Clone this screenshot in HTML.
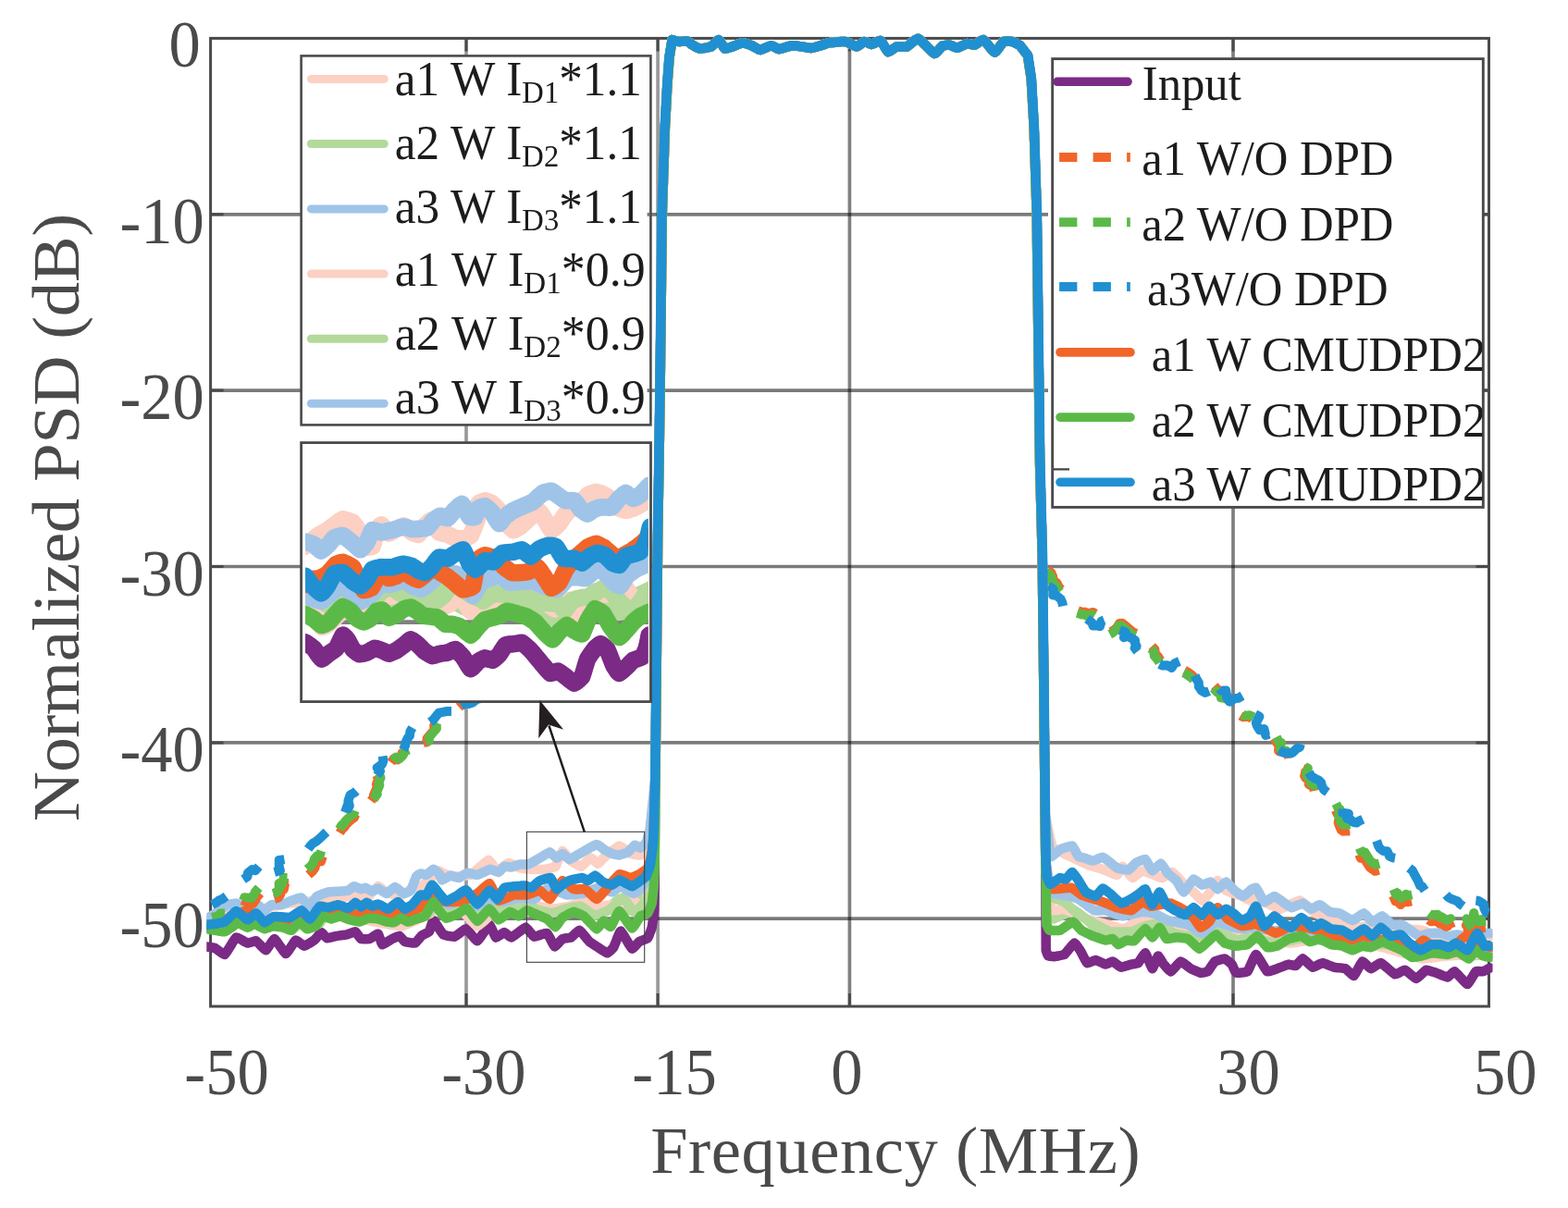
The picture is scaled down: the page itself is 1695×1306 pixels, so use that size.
<!DOCTYPE html>
<html lang="en"><head><meta charset="utf-8"><title>Normalized PSD</title>
<style>html,body{margin:0;padding:0;background:#fff;overflow:hidden}svg{display:block}text{font-family:"Liberation Serif","DejaVu Serif",serif}.c{fill:none;stroke-linejoin:round;stroke-linecap:round}.d{fill:none;stroke-linejoin:round;stroke-linecap:butt}</style></head><body>
<svg width="1695" height="1306" viewBox="0 0 1695 1306" role="img" aria-label="Normalized PSD versus frequency">
<rect width="1695" height="1306" fill="#fff"/>
<g stroke="#000" stroke-opacity="0.52" stroke-width="3.7" fill="none"><path d="M227.6,231.8 H1609.5"/><path d="M227.6,422.1 H1609.5"/><path d="M227.6,612.5 H1609.5"/><path d="M227.6,802.9 H1609.5"/><path d="M227.6,993.2 H1609.5"/></g><g stroke="#000" stroke-width="3.7" fill="none"><path stroke-opacity="0.40" d="M504.0,41.4 V1088.0"/><path stroke-opacity="0.40" d="M711.1,41.4 V1088.0"/><path stroke-opacity="0.50" d="M918.4,41.4 V1088.0"/><path stroke-opacity="0.50" d="M1333.0,41.4 V1088.0"/></g>
<rect x="227.6" y="41.4" width="1381.9" height="1046.6" fill="none" stroke="#4a4a4c" stroke-width="3"/>
<g stroke="#4a4a4c" stroke-width="3" fill="none"><path d="M227.6,231.8 h14 M1609.5,231.8 h-14"/><path d="M227.6,422.1 h14 M1609.5,422.1 h-14"/><path d="M227.6,612.5 h14 M1609.5,612.5 h-14"/><path d="M227.6,802.9 h14 M1609.5,802.9 h-14"/><path d="M227.6,993.2 h14 M1609.5,993.2 h-14"/><path d="M504.0,41.4 v14 M504.0,1088.0 v-14"/><path d="M711.1,41.4 v14 M711.1,1088.0 v-14"/><path d="M918.4,41.4 v14 M918.4,1088.0 v-14"/><path d="M1333.0,41.4 v14 M1333.0,1088.0 v-14"/></g>
<clipPath id="cc"><rect x="223.3" y="30" width="1390.2" height="1070"/></clipPath>
<g id="curves" clip-path="url(#cc)">
<path class="c" stroke="#7b2a86" stroke-width="10.5" d="M223.1,1023.4 L225.2,1023.7 L227.5,1024.1 L229.9,1024.5 L232.3,1025.0 L234.0,1026.1 L235.8,1027.4 L237.6,1028.8 L239.4,1030.1 L241.2,1031.1 L243.0,1031.9 L244.1,1030.4 L245.2,1028.9 L246.3,1027.2 L247.4,1025.4 L248.6,1023.6 L249.7,1021.8 L250.8,1019.9 L251.9,1018.2 L253.0,1016.5 L254.2,1014.9 L255.3,1013.5 L257.3,1014.1 L259.4,1015.0 L261.5,1016.2 L263.5,1017.5 L265.6,1018.6 L267.6,1019.6 L269.9,1019.1 L272.2,1018.4 L274.4,1017.7 L276.8,1017.3 L278.3,1018.6 L279.8,1020.1 L281.4,1021.7 L282.9,1023.3 L284.4,1024.8 L286.0,1026.2 L287.5,1027.3 L288.8,1025.8 L290.1,1024.0 L291.4,1022.0 L292.7,1020.0 L294.0,1018.1 L295.3,1016.4 L296.7,1015.0 L297.9,1016.3 L299.1,1017.8 L300.3,1019.5 L301.6,1021.3 L302.8,1023.1 L304.1,1024.9 L305.3,1026.7 L306.5,1028.3 L307.8,1029.8 L309.0,1031.1 L310.2,1029.8 L311.4,1028.4 L312.6,1026.7 L313.8,1024.9 L315.0,1023.1 L316.2,1021.3 L317.4,1019.5 L318.5,1017.9 L319.7,1016.5 L321.6,1017.4 L323.4,1018.7 L325.2,1020.2 L327.0,1021.6 L328.9,1022.7 L330.7,1021.9 L332.5,1020.9 L334.3,1019.9 L336.1,1018.8 L337.9,1017.6 L339.7,1016.5 L341.3,1014.8 L342.8,1013.0 L344.3,1011.2 L345.8,1009.5 L347.3,1008.1 L348.9,1009.4 L350.3,1011.0 L351.8,1012.8 L353.5,1014.2 L355.5,1013.9 L357.7,1013.5 L359.8,1012.9 L362.0,1012.4 L364.2,1011.9 L366.3,1011.6 L368.5,1011.3 L370.7,1011.0 L372.8,1010.7 L374.9,1010.4 L377.3,1009.6 L379.6,1008.7 L381.9,1007.9 L384.1,1007.3 L385.7,1009.1 L387.2,1011.1 L388.7,1013.2 L390.3,1015.0 L392.5,1015.2 L394.8,1015.2 L397.2,1015.2 L399.5,1015.0 L401.3,1013.9 L403.2,1012.7 L405.1,1011.5 L406.9,1010.4 L408.7,1009.6 L409.5,1011.3 L410.2,1013.3 L411.0,1015.4 L411.7,1017.5 L412.4,1019.5 L413.3,1021.1 L415.0,1020.4 L416.8,1019.4 L418.6,1018.3 L420.4,1017.2 L422.3,1016.0 L424.0,1015.0 L426.0,1014.1 L427.9,1013.2 L429.8,1012.5 L431.7,1011.9 L433.2,1013.3 L434.7,1014.9 L436.2,1016.6 L437.8,1018.1 L439.9,1018.5 L442.1,1018.9 L444.3,1019.3 L446.5,1019.5 L448.6,1019.6 L450.2,1018.1 L451.7,1016.4 L453.2,1014.6 L454.7,1012.8 L456.2,1011.2 L458.2,1010.2 L460.1,1009.3 L462.0,1008.4 L463.9,1007.3 L464.7,1005.3 L465.4,1003.1 L466.1,1000.8 L466.9,998.6 L467.6,996.6 L468.5,995.0 L469.6,996.4 L470.8,998.0 L471.9,999.7 L473.1,1001.5 L474.3,1003.4 L475.5,1005.3 L476.8,1007.1 L478.0,1008.8 L479.2,1010.4 L481.2,1011.0 L483.3,1011.6 L485.3,1012.0 L487.4,1012.3 L489.4,1012.5 L491.5,1012.7 L493.2,1011.6 L495.0,1010.3 L496.7,1009.0 L498.5,1007.6 L500.2,1006.3 L502.0,1005.1 L503.7,1004.3 L505.3,1005.6 L506.8,1007.3 L508.3,1009.1 L509.9,1010.9 L511.4,1012.8 L512.9,1014.5 L514.5,1016.1 L516.0,1017.3 L517.3,1015.9 L518.6,1014.2 L520.0,1012.4 L521.3,1010.4 L522.6,1008.5 L524.0,1006.5 L525.3,1004.5 L526.6,1002.7 L527.8,1001.1 L529.1,999.7 L530.1,1001.2 L531.1,1003.1 L532.1,1005.2 L533.1,1007.4 L534.0,1009.7 L535.0,1011.7 L536.0,1013.5 L537.8,1012.7 L539.6,1011.6 L541.5,1010.3 L543.3,1009.0 L545.2,1008.1 L547.1,1009.3 L548.9,1010.9 L550.8,1012.4 L552.8,1013.5 L554.4,1012.4 L556.1,1011.3 L557.8,1010.0 L559.6,1008.7 L561.4,1007.3 L563.1,1006.0 L564.8,1004.8 L566.5,1003.7 L568.2,1002.7 L569.8,1004.1 L571.3,1005.7 L572.8,1007.6 L574.3,1009.4 L575.8,1011.2 L577.4,1012.7 L579.3,1012.3 L581.3,1011.7 L583.3,1011.0 L585.3,1010.3 L587.3,1009.7 L589.3,1009.1 L591.2,1008.9 L592.3,1010.5 L593.4,1012.3 L594.5,1014.2 L595.5,1016.2 L596.5,1018.2 L597.5,1020.1 L598.6,1021.9 L599.6,1023.4 L601.3,1022.1 L603.0,1020.4 L604.7,1018.5 L606.4,1016.7 L608.1,1015.0 L610.3,1014.5 L612.6,1014.2 L615.0,1013.9 L617.3,1013.5 L619.1,1011.9 L620.9,1010.2 L622.8,1008.5 L624.6,1007.0 L626.5,1005.8 L627.8,1007.0 L629.1,1008.5 L630.5,1010.0 L631.8,1011.7 L633.2,1013.3 L634.5,1015.0 L635.9,1016.6 L637.2,1018.1 L639.1,1019.4 L640.9,1020.6 L642.7,1021.8 L644.6,1023.0 L646.4,1024.2 L648.4,1025.5 L650.4,1026.8 L652.4,1028.1 L654.4,1029.3 L656.4,1030.3 L658.2,1029.1 L659.9,1027.7 L661.6,1026.1 L663.3,1024.2 L664.1,1022.3 L664.9,1020.3 L665.8,1018.2 L666.6,1016.0 L667.4,1013.8 L668.3,1011.7 L669.1,1009.8 L670.0,1008.0 L671.0,1006.6 L672.0,1007.9 L673.1,1009.5 L674.2,1011.2 L675.4,1013.1 L676.5,1015.0 L677.7,1016.9 L678.8,1018.9 L679.9,1020.8 L681.1,1022.6 L682.2,1024.2 L683.2,1025.7 L684.8,1024.7 L686.4,1023.2 L687.9,1021.4 L689.4,1019.6 L690.9,1018.1 L693.2,1017.1 L695.6,1016.2 L697.9,1015.3 L700.1,1014.2 L701.0,1012.5 L701.8,1010.6 L702.5,1008.7 L703.3,1006.8 L704.0,1004.8 L704.7,1002.7 L705.0,1000.7 L705.3,998.7 L705.6,996.7 L705.9,994.6 L706.2,992.5 L706.5,990.4 L706.7,988.1 L707.0,985.8 L707.1,983.9 L707.1,981.8 L707.2,979.7 L707.3,977.5 L707.3,975.3 L707.4,973.2 L707.4,971.0 L707.5,968.8 L707.5,966.6 L707.6,964.5 L707.6,962.4 L707.7,960.4 L707.7,958.5 L707.8,956.7 L707.7,925.0 L708.5,840.0 L709.9,700.0 L711.2,575.0 L712.5,498.0 L713.6,422.0 L715.8,231.5 L718.9,138.0 L721.5,90.0 L723.6,62.0 L726.6,43.1 L728.7,43.7 L731.0,44.4 L733.4,45.0 L735.8,44.9 L738.2,44.6 L740.6,44.5 L742.9,44.4 L744.8,45.6 L746.5,47.1 L748.3,48.5 L750.3,49.6 L752.2,50.7 L754.3,51.7 L756.5,52.6 L758.4,52.4 L760.5,52.1 L762.6,51.8 L764.7,51.4 L766.7,50.9 L768.7,50.4 L770.4,49.0 L772.1,47.3 L773.7,45.6 L775.3,44.1 L776.8,43.1 L778.2,44.6 L779.5,46.6 L780.9,48.8 L782.2,50.9 L783.6,52.6 L785.9,52.2 L788.3,51.5 L790.7,50.7 L793.1,49.9 L795.0,49.1 L796.9,48.3 L798.8,47.6 L800.7,46.9 L802.6,46.3 L805.0,46.8 L807.4,47.5 L809.7,48.2 L812.1,49.0 L814.0,50.0 L815.9,51.1 L817.7,52.2 L819.6,53.2 L821.6,53.9 L823.6,53.3 L825.7,52.5 L827.8,51.6 L829.8,50.7 L831.9,49.9 L833.8,49.3 L835.9,50.1 L837.9,51.2 L839.8,52.3 L842.0,53.1 L843.8,52.7 L845.7,52.2 L847.7,51.6 L849.7,51.0 L851.7,50.3 L853.6,49.8 L855.5,49.3 L857.8,49.4 L860.0,49.6 L862.1,49.8 L864.2,50.1 L866.4,50.4 L868.6,50.7 L870.7,51.1 L872.9,51.5 L875.0,51.8 L877.2,52.0 L879.3,51.5 L881.4,51.0 L883.5,50.4 L885.5,49.7 L887.5,49.1 L889.5,48.5 L891.7,47.7 L893.7,47.0 L896.2,46.3 L898.3,46.1 L900.4,45.9 L902.6,45.7 L904.9,45.5 L907.2,45.3 L909.5,45.1 L911.7,45.0 L913.9,45.0 L916.1,45.8 L918.2,46.7 L920.2,47.8 L922.2,48.8 L924.2,49.7 L926.1,50.4 L928.2,49.3 L930.3,47.7 L932.2,46.2 L934.2,45.0 L936.3,45.5 L938.3,46.4 L940.3,47.3 L942.4,48.0 L944.2,47.2 L946.2,46.2 L948.1,45.2 L950.0,44.3 L951.9,43.9 L953.1,45.3 L954.2,47.1 L955.4,49.0 L956.5,51.0 L957.7,52.9 L958.8,54.7 L960.0,56.1 L961.9,55.4 L963.7,54.2 L965.6,52.9 L967.6,51.5 L969.5,50.4 L971.6,50.3 L973.8,50.4 L976.0,50.5 L978.2,50.6 L980.4,50.4 L982.1,49.2 L983.8,47.9 L985.4,46.4 L987.2,44.9 L988.9,43.6 L990.7,42.5 L992.6,41.7 L994.0,42.7 L995.4,44.0 L996.9,45.3 L998.4,46.8 L1000.0,48.3 L1001.5,49.8 L1003.0,51.4 L1004.5,52.9 L1006.0,54.4 L1007.5,55.7 L1008.9,56.9 L1010.2,58.0 L1012.1,56.9 L1013.7,55.3 L1015.3,53.4 L1016.8,51.5 L1018.4,49.9 L1020.4,49.3 L1022.4,48.9 L1024.5,48.6 L1026.5,48.5 L1028.5,49.3 L1030.5,50.2 L1032.5,51.1 L1034.6,51.8 L1036.8,51.0 L1039.0,50.0 L1041.2,49.0 L1043.4,48.0 L1045.5,47.1 L1047.6,47.4 L1049.6,47.8 L1051.6,48.3 L1053.6,48.5 L1055.5,47.5 L1057.3,46.2 L1059.2,44.8 L1061.2,43.7 L1063.1,43.1 L1064.4,44.3 L1065.8,45.8 L1067.2,47.4 L1068.5,49.1 L1069.9,50.9 L1071.3,52.6 L1072.7,54.2 L1074.0,55.5 L1075.3,56.6 L1076.8,55.5 L1078.1,53.9 L1079.5,52.1 L1080.8,50.2 L1082.2,48.3 L1083.5,46.5 L1084.8,45.0 L1087.2,44.6 L1089.6,44.6 L1092.0,44.7 L1094.3,45.0 L1096.5,45.9 L1098.6,47.0 L1100.7,48.1 L1102.5,49.0 L1110.9,60.0 L1114.7,85.0 L1117.7,138.0 L1120.7,231.5 L1123.1,422.0 L1124.0,498.0 L1126.7,600.0 L1128.3,740.0 L1129.7,880.0 L1130.3,930.0 L1130.7,1027.3 L1131.3,1029.2 L1132.1,1031.4 L1133.0,1033.4 L1135.1,1033.8 L1137.4,1034.0 L1139.9,1034.2 L1142.0,1033.8 L1144.1,1033.5 L1146.3,1033.0 L1148.5,1032.5 L1150.6,1031.9 L1152.0,1030.4 L1153.3,1028.9 L1154.7,1027.2 L1156.1,1025.5 L1157.4,1023.9 L1158.8,1022.3 L1160.1,1020.9 L1161.4,1019.6 L1163.0,1021.0 L1164.5,1022.9 L1166.0,1025.1 L1167.5,1027.3 L1168.6,1029.2 L1169.6,1031.2 L1170.7,1033.3 L1171.8,1035.4 L1172.9,1037.4 L1174.0,1039.3 L1175.2,1041.1 L1177.4,1040.6 L1179.7,1039.7 L1182.0,1038.7 L1184.4,1038.0 L1186.5,1038.8 L1188.7,1039.8 L1190.9,1040.8 L1193.0,1041.8 L1195.1,1042.6 L1197.1,1041.9 L1199.0,1041.0 L1200.8,1040.2 L1202.8,1039.5 L1204.6,1040.6 L1206.4,1041.9 L1208.2,1043.3 L1210.1,1044.6 L1212.0,1045.7 L1214.1,1045.2 L1216.3,1044.6 L1218.5,1043.9 L1220.6,1043.2 L1222.7,1042.6 L1225.3,1042.2 L1227.9,1041.8 L1230.4,1041.1 L1231.7,1039.3 L1232.9,1037.4 L1234.2,1035.4 L1235.5,1033.4 L1236.8,1031.7 L1238.1,1030.3 L1238.9,1031.9 L1239.8,1033.7 L1240.6,1035.7 L1241.5,1037.8 L1242.4,1039.9 L1243.2,1042.0 L1244.1,1043.9 L1244.9,1045.7 L1245.7,1047.2 L1246.6,1045.7 L1247.5,1043.7 L1248.4,1041.6 L1249.3,1039.3 L1250.1,1037.1 L1251.0,1035.1 L1251.9,1033.4 L1253.1,1034.8 L1254.3,1036.6 L1255.5,1038.6 L1256.7,1040.7 L1258.0,1042.6 L1259.5,1044.3 L1261.0,1046.0 L1262.5,1047.6 L1264.1,1049.1 L1265.7,1050.3 L1267.2,1049.0 L1268.7,1047.4 L1270.2,1045.8 L1271.8,1044.0 L1273.3,1042.4 L1274.9,1040.8 L1276.4,1039.5 L1278.2,1040.5 L1280.0,1041.7 L1281.8,1043.1 L1283.6,1044.5 L1285.4,1045.9 L1287.1,1047.2 L1289.3,1048.2 L1291.5,1049.2 L1293.7,1050.1 L1295.8,1051.0 L1297.9,1051.8 L1300.5,1051.5 L1303.0,1051.1 L1305.6,1050.3 L1306.8,1048.6 L1308.1,1046.8 L1309.3,1044.9 L1310.6,1043.0 L1311.9,1041.2 L1313.2,1039.5 L1315.3,1038.7 L1317.5,1038.0 L1319.7,1037.4 L1321.9,1036.9 L1324.0,1036.5 L1326.0,1037.8 L1327.9,1039.3 L1329.8,1040.9 L1331.6,1042.6 L1332.6,1044.4 L1333.4,1046.4 L1334.3,1048.3 L1335.2,1050.2 L1336.2,1051.8 L1338.2,1051.8 L1340.2,1051.7 L1342.3,1051.6 L1344.4,1051.3 L1346.5,1050.9 L1348.5,1050.3 L1349.5,1048.6 L1350.4,1046.7 L1351.3,1044.8 L1352.2,1042.7 L1353.1,1040.7 L1354.0,1038.7 L1354.9,1036.7 L1355.8,1034.9 L1356.7,1033.3 L1357.7,1031.9 L1358.8,1033.1 L1359.9,1034.6 L1361.0,1036.3 L1362.1,1038.0 L1363.2,1039.8 L1364.3,1041.7 L1365.5,1043.6 L1366.6,1045.4 L1367.7,1047.2 L1368.8,1048.8 L1369.9,1050.3 L1372.1,1050.1 L1374.2,1049.5 L1376.4,1048.8 L1378.5,1047.9 L1380.7,1047.2 L1382.7,1046.4 L1384.8,1045.6 L1386.9,1044.8 L1388.9,1044.0 L1391.0,1043.3 L1393.0,1042.6 L1395.6,1043.1 L1398.1,1043.8 L1400.6,1044.1 L1402.1,1042.7 L1403.6,1041.0 L1405.2,1039.3 L1406.7,1037.7 L1408.3,1036.5 L1409.8,1037.6 L1411.3,1038.8 L1412.8,1040.3 L1414.4,1041.7 L1415.9,1043.2 L1417.5,1044.5 L1419.0,1045.7 L1421.2,1045.0 L1423.3,1044.0 L1425.4,1042.9 L1427.6,1041.9 L1429.8,1041.1 L1431.8,1041.7 L1433.8,1042.4 L1435.9,1043.3 L1437.9,1044.1 L1440.0,1044.9 L1442.0,1045.7 L1444.1,1046.0 L1446.2,1046.2 L1448.2,1046.4 L1450.3,1046.6 L1452.3,1046.9 L1454.3,1047.2 L1456.2,1048.7 L1458.1,1050.5 L1459.9,1052.2 L1461.7,1053.8 L1463.5,1054.9 L1464.7,1053.2 L1465.8,1051.4 L1467.0,1049.3 L1468.1,1047.2 L1469.3,1045.1 L1470.4,1043.0 L1471.6,1041.2 L1472.7,1039.5 L1474.6,1040.7 L1476.4,1042.3 L1478.2,1044.1 L1480.1,1045.8 L1481.9,1047.2 L1483.7,1046.4 L1485.4,1045.3 L1487.2,1044.0 L1489.0,1042.9 L1490.8,1041.8 L1492.7,1041.1 L1494.3,1042.2 L1496.0,1043.5 L1497.7,1044.9 L1499.5,1046.4 L1501.2,1047.9 L1502.9,1049.4 L1504.7,1050.8 L1506.3,1052.2 L1508.0,1053.3 L1510.2,1052.7 L1512.4,1051.7 L1514.5,1050.5 L1516.6,1049.5 L1518.7,1048.7 L1520.5,1049.9 L1522.2,1051.2 L1524.0,1052.7 L1525.8,1054.2 L1527.5,1055.6 L1529.3,1056.9 L1531.0,1057.9 L1532.6,1056.9 L1534.1,1055.6 L1535.6,1054.2 L1537.2,1052.7 L1538.7,1051.3 L1540.2,1049.9 L1541.7,1048.7 L1543.9,1049.1 L1546.0,1049.7 L1548.2,1050.4 L1550.3,1051.1 L1552.5,1051.8 L1554.5,1052.6 L1556.6,1053.4 L1558.7,1054.3 L1560.8,1055.1 L1562.8,1055.8 L1564.8,1056.4 L1566.7,1055.0 L1568.6,1053.2 L1570.4,1051.5 L1572.4,1050.3 L1573.9,1051.6 L1575.4,1053.1 L1576.9,1054.7 L1578.5,1056.5 L1580.1,1058.2 L1581.7,1059.9 L1583.2,1061.5 L1584.7,1062.9 L1586.2,1064.1 L1587.5,1062.7 L1588.6,1061.1 L1589.8,1059.3 L1590.9,1057.4 L1592.1,1055.5 L1593.2,1053.6 L1594.3,1051.9 L1595.4,1050.3 L1598.0,1050.0 L1600.6,1050.2 L1603.1,1050.3 L1605.1,1049.4 L1607.1,1048.4 L1609.0,1047.3 L1610.8,1046.4"/>
<path class="c" stroke="#fcd0c3" stroke-width="10.5" d="M223.1,995.0 L224.6,994.1 L226.3,993.0 L228.0,991.9 L229.8,990.8 L231.7,989.6 L233.5,988.5 L235.3,987.4 L237.2,986.4 L239.1,985.4 L241.0,984.4 L243.0,983.3 L244.9,982.3 L246.8,981.4 L248.8,980.5 L250.7,979.7 L252.9,980.0 L255.1,980.4 L257.3,980.8 L259.4,981.4 L261.6,981.9 L263.8,982.4 L266.0,982.8 L268.2,982.8 L270.4,982.9 L272.6,982.9 L274.8,982.9 L277.0,982.9 L279.2,982.8 L281.4,982.8 L283.6,982.4 L285.7,982.0 L287.9,981.5 L290.1,981.1 L292.3,980.6 L294.5,980.2 L296.7,979.7 L298.9,979.3 L301.1,978.8 L303.3,978.4 L305.5,977.9 L307.7,977.5 L309.8,977.1 L312.0,976.6 L314.2,976.4 L316.4,976.2 L318.6,976.0 L320.8,975.7 L323.0,975.5 L325.2,975.3 L327.4,975.1 L329.6,974.9 L331.8,974.7 L334.0,974.5 L336.2,974.3 L338.4,974.0 L340.6,973.8 L342.7,973.6 L344.8,973.1 L346.9,972.5 L348.9,972.0 L351.0,971.4 L353.0,970.9 L355.0,970.5 L357.1,970.8 L359.3,971.1 L361.4,971.5 L363.5,971.8 L365.7,972.0 L367.6,971.5 L369.5,971.0 L371.4,970.3 L373.3,969.7 L375.3,969.1 L377.2,968.5 L379.1,967.9 L381.1,967.4 L383.3,967.8 L385.5,968.3 L387.7,968.8 L389.9,969.4 L392.1,969.9 L394.3,970.3 L396.4,970.5 L398.0,969.2 L399.6,967.6 L401.1,966.0 L402.6,964.3 L404.2,962.6 L405.7,961.0 L407.2,959.5 L408.7,958.2 L410.5,959.2 L412.2,960.4 L414.0,961.8 L415.8,963.3 L417.6,964.7 L419.4,965.9 L421.5,966.2 L423.7,966.6 L425.9,966.8 L428.2,967.1 L430.4,967.3 L432.6,967.4 L434.8,967.4 L436.6,966.5 L438.4,965.4 L440.1,964.2 L441.9,963.1 L443.6,961.9 L445.3,960.8 L447.0,959.8 L449.4,959.3 L451.7,959.0 L454.0,958.7 L456.2,958.2 L457.8,956.8 L459.3,955.3 L460.8,953.7 L462.4,952.1 L463.9,950.6 L465.4,949.0 L467.3,947.4 L469.2,945.8 L471.1,944.2 L472.9,942.7 L474.6,941.4 L476.8,942.7 L479.2,944.4 L481.0,944.9 L482.9,945.3 L484.9,945.8 L486.9,946.3 L489.0,946.7 L491.0,947.1 L493.0,947.5 L495.2,947.4 L497.4,947.2 L499.7,947.0 L501.9,946.8 L504.1,946.5 L506.3,946.3 L508.3,946.0 L510.4,944.6 L512.2,943.1 L514.1,941.5 L516.0,939.8 L517.7,938.4 L519.5,936.9 L521.2,935.3 L523.0,933.7 L524.8,932.3 L526.6,931.0 L528.3,929.9 L529.6,931.2 L531.0,932.8 L532.3,934.6 L533.5,936.5 L534.8,938.3 L536.1,940.0 L537.5,941.4 L539.2,940.4 L540.9,939.3 L542.7,937.9 L544.5,936.6 L546.2,935.2 L548.0,934.0 L549.8,932.9 L551.8,933.6 L553.9,934.4 L555.9,935.4 L557.9,936.4 L560.0,937.4 L562.0,938.3 L564.1,938.6 L566.1,938.9 L568.1,939.2 L570.2,939.4 L572.2,939.6 L574.3,939.8 L576.5,939.9 L578.7,939.9 L580.9,939.9 L583.1,939.9 L585.3,939.9 L587.5,939.9 L589.7,939.8 L591.9,939.3 L594.1,938.9 L596.2,938.3 L598.3,937.7 L600.4,936.8 L601.3,935.0 L602.1,933.1 L603.0,931.1 L603.8,929.1 L604.7,927.0 L605.5,925.0 L606.3,923.2 L607.2,921.4 L608.1,919.9 L609.3,921.0 L610.6,922.4 L611.9,924.0 L613.3,925.7 L614.6,927.4 L615.9,929.1 L617.3,930.6 L619.0,931.8 L620.8,932.9 L622.6,934.1 L624.4,935.1 L626.2,936.0 L628.0,936.8 L629.5,935.6 L631.1,934.3 L632.6,932.9 L634.2,931.4 L635.7,930.0 L637.3,928.7 L638.7,927.6 L640.7,928.9 L642.6,930.6 L644.5,932.3 L646.4,933.7 L647.9,932.4 L649.4,931.0 L650.8,929.4 L652.4,927.7 L654.1,926.0 L655.7,924.8 L657.3,923.4 L659.1,922.0 L660.8,920.7 L662.5,919.3 L664.3,917.9 L666.0,916.7 L667.7,915.5 L669.4,914.5 L671.2,915.4 L673.0,916.5 L674.8,917.8 L676.5,919.2 L678.2,920.5 L680.0,921.8 L681.7,923.0 L683.9,923.4 L686.1,923.8 L688.2,924.2 L690.3,924.4 L692.4,924.5 L694.0,923.2 L695.6,921.7 L697.2,920.1 L698.7,918.5 L700.1,916.8 L700.6,914.9 L701.1,912.9 L701.6,910.8 L702.0,908.7 L702.4,906.7 L702.8,904.8 L703.2,903.0 L708.5,840.0 L709.9,700.0 L711.2,575.0 L712.5,498.0 L713.6,422.0 L715.8,231.5 L718.9,138.0 L721.5,90.0 L723.6,62.0 L726.6,43.1 L728.7,43.7 L731.0,44.4 L733.4,45.0 L735.8,44.9 L738.2,44.6 L740.6,44.5 L742.9,44.4 L744.8,45.6 L746.5,47.1 L748.3,48.5 L750.3,49.6 L752.2,50.7 L754.3,51.7 L756.5,52.6 L758.4,52.4 L760.5,52.1 L762.6,51.8 L764.7,51.4 L766.7,50.9 L768.7,50.4 L770.4,49.0 L772.1,47.3 L773.7,45.6 L775.3,44.1 L776.8,43.1 L778.2,44.6 L779.5,46.6 L780.9,48.8 L782.2,50.9 L783.6,52.6 L785.9,52.2 L788.3,51.5 L790.7,50.7 L793.1,49.9 L795.0,49.1 L796.9,48.3 L798.8,47.6 L800.7,46.9 L802.6,46.3 L805.0,46.8 L807.4,47.5 L809.7,48.2 L812.1,49.0 L814.0,50.0 L815.9,51.1 L817.7,52.2 L819.6,53.2 L821.6,53.9 L823.6,53.3 L825.7,52.5 L827.8,51.6 L829.8,50.7 L831.9,49.9 L833.8,49.3 L835.9,50.1 L837.9,51.2 L839.8,52.3 L842.0,53.1 L843.8,52.7 L845.7,52.2 L847.7,51.6 L849.7,51.0 L851.7,50.3 L853.6,49.8 L855.5,49.3 L857.8,49.4 L860.0,49.6 L862.1,49.8 L864.2,50.1 L866.4,50.4 L868.6,50.7 L870.7,51.1 L872.9,51.5 L875.0,51.8 L877.2,52.0 L879.3,51.5 L881.4,51.0 L883.5,50.4 L885.5,49.7 L887.5,49.1 L889.5,48.5 L891.7,47.7 L893.7,47.0 L896.2,46.3 L898.3,46.1 L900.4,45.9 L902.6,45.7 L904.9,45.5 L907.2,45.3 L909.5,45.1 L911.7,45.0 L913.9,45.0 L916.1,45.8 L918.2,46.7 L920.2,47.8 L922.2,48.8 L924.2,49.7 L926.1,50.4 L928.2,49.3 L930.3,47.7 L932.2,46.2 L934.2,45.0 L936.3,45.5 L938.3,46.4 L940.3,47.3 L942.4,48.0 L944.2,47.2 L946.2,46.2 L948.1,45.2 L950.0,44.3 L951.9,43.9 L953.1,45.3 L954.2,47.1 L955.4,49.0 L956.5,51.0 L957.7,52.9 L958.8,54.7 L960.0,56.1 L961.9,55.4 L963.7,54.2 L965.6,52.9 L967.6,51.5 L969.5,50.4 L971.6,50.3 L973.8,50.4 L976.0,50.5 L978.2,50.6 L980.4,50.4 L982.1,49.2 L983.8,47.9 L985.4,46.4 L987.2,44.9 L988.9,43.6 L990.7,42.5 L992.6,41.7 L994.0,42.7 L995.4,44.0 L996.9,45.3 L998.4,46.8 L1000.0,48.3 L1001.5,49.8 L1003.0,51.4 L1004.5,52.9 L1006.0,54.4 L1007.5,55.7 L1008.9,56.9 L1010.2,58.0 L1012.1,56.9 L1013.7,55.3 L1015.3,53.4 L1016.8,51.5 L1018.4,49.9 L1020.4,49.3 L1022.4,48.9 L1024.5,48.6 L1026.5,48.5 L1028.5,49.3 L1030.5,50.2 L1032.5,51.1 L1034.6,51.8 L1036.8,51.0 L1039.0,50.0 L1041.2,49.0 L1043.4,48.0 L1045.5,47.1 L1047.6,47.4 L1049.6,47.8 L1051.6,48.3 L1053.6,48.5 L1055.5,47.5 L1057.3,46.2 L1059.2,44.8 L1061.2,43.7 L1063.1,43.1 L1064.4,44.3 L1065.8,45.8 L1067.2,47.4 L1068.5,49.1 L1069.9,50.9 L1071.3,52.6 L1072.7,54.2 L1074.0,55.5 L1075.3,56.6 L1076.8,55.5 L1078.1,53.9 L1079.5,52.1 L1080.8,50.2 L1082.2,48.3 L1083.5,46.5 L1084.8,45.0 L1087.2,44.6 L1089.6,44.6 L1092.0,44.7 L1094.3,45.0 L1096.5,45.9 L1098.6,47.0 L1100.7,48.1 L1102.5,49.0 L1110.9,60.0 L1114.7,85.0 L1117.7,138.0 L1120.7,231.5 L1123.1,422.0 L1124.0,498.0 L1126.7,600.0 L1128.3,740.0 L1129.7,880.0 L1134.5,903.0 L1135.0,904.8 L1135.4,906.7 L1135.9,908.7 L1136.4,910.8 L1137.0,912.9 L1137.6,914.9 L1138.3,916.8 L1140.1,917.9 L1141.9,918.8 L1143.7,919.8 L1145.7,920.7 L1147.6,921.6 L1149.6,922.5 L1151.6,923.5 L1153.7,924.5 L1155.5,925.4 L1157.4,926.2 L1159.3,927.1 L1161.3,928.1 L1163.2,929.0 L1165.2,929.9 L1167.2,930.8 L1169.1,931.7 L1171.1,932.6 L1173.0,933.5 L1174.9,934.4 L1176.7,935.2 L1178.7,935.9 L1180.7,936.5 L1182.6,937.1 L1184.5,937.6 L1186.4,938.1 L1188.3,938.7 L1190.1,939.2 L1192.0,939.8 L1194.0,940.6 L1195.9,941.4 L1197.9,942.3 L1199.9,943.2 L1201.8,944.0 L1203.7,944.7 L1205.6,945.4 L1207.4,946.0 L1208.8,944.3 L1210.0,942.3 L1211.1,940.2 L1212.2,938.3 L1213.5,936.8 L1214.8,938.0 L1216.1,939.5 L1217.4,941.2 L1218.8,942.9 L1220.2,944.6 L1221.5,946.2 L1222.9,947.7 L1224.3,949.0 L1226.0,948.1 L1227.8,946.8 L1229.6,945.3 L1231.4,943.9 L1233.2,942.5 L1235.0,941.4 L1237.0,941.9 L1239.1,942.6 L1241.2,943.5 L1243.2,944.3 L1245.3,945.2 L1247.3,946.0 L1249.6,946.8 L1251.9,947.7 L1254.2,948.5 L1256.5,949.0 L1258.2,948.1 L1260.0,947.0 L1261.8,945.8 L1263.6,944.6 L1265.4,943.6 L1267.2,942.9 L1268.7,944.2 L1270.2,945.6 L1271.8,947.1 L1273.3,948.7 L1274.9,950.4 L1276.4,952.0 L1277.9,953.6 L1279.5,955.2 L1281.0,956.5 L1282.6,957.9 L1284.1,959.3 L1285.7,960.6 L1287.2,962.0 L1288.8,963.3 L1290.3,964.6 L1291.7,965.9 L1293.4,967.6 L1294.9,969.3 L1296.4,970.9 L1297.9,972.3 L1299.4,973.6 L1300.9,972.4 L1302.5,970.9 L1304.0,969.3 L1305.5,967.6 L1307.1,965.9 L1308.2,964.2 L1309.4,962.4 L1310.5,960.5 L1311.7,958.7 L1312.8,956.8 L1314.0,955.1 L1315.1,953.5 L1316.3,952.1 L1317.6,953.3 L1318.9,954.7 L1320.1,956.3 L1321.4,957.9 L1322.7,959.7 L1324.1,961.3 L1325.5,962.8 L1327.5,963.7 L1329.6,964.5 L1331.8,965.3 L1333.9,966.0 L1336.1,966.8 L1338.3,967.5 L1340.4,968.2 L1342.4,969.0 L1344.4,970.0 L1346.3,971.0 L1348.1,971.9 L1349.9,972.8 L1351.6,973.6 L1353.7,972.0 L1356.1,970.5 L1357.9,971.2 L1359.7,972.0 L1361.6,972.9 L1363.5,973.7 L1365.4,974.7 L1367.4,975.6 L1369.3,976.5 L1371.2,977.3 L1373.0,978.2 L1375.2,979.2 L1377.3,980.3 L1379.3,981.3 L1381.4,982.1 L1383.7,982.8 L1385.6,982.1 L1387.5,981.3 L1389.4,980.4 L1391.4,979.4 L1393.4,978.5 L1395.4,977.5 L1397.4,976.6 L1399.4,975.7 L1401.4,974.9 L1403.3,974.2 L1405.2,973.6 L1407.0,974.7 L1408.7,975.9 L1410.4,977.3 L1412.0,978.7 L1413.7,980.2 L1415.3,981.7 L1417.0,983.2 L1418.7,984.6 L1420.4,986.0 L1422.1,987.4 L1424.1,988.2 L1426.0,989.0 L1428.0,989.8 L1430.0,990.6 L1432.0,991.3 L1434.1,992.1 L1436.1,992.8 L1438.1,993.5 L1440.1,994.3 L1442.0,995.0 L1444.1,995.9 L1446.2,996.8 L1448.2,997.7 L1450.2,998.6 L1452.3,999.5 L1454.3,1000.4 L1456.3,1001.2 L1458.4,1002.0 L1460.4,1002.7 L1462.4,1002.7 L1464.4,1002.6 L1466.4,1002.4 L1468.3,1002.3 L1470.3,1002.1 L1472.3,1001.9 L1474.3,1001.7 L1476.3,1001.5 L1478.4,1001.3 L1480.4,1001.2 L1482.5,1001.3 L1484.5,1001.4 L1486.7,1001.5 L1488.8,1001.7 L1490.9,1001.8 L1493.0,1002.0 L1495.2,1002.1 L1497.3,1002.3 L1499.3,1002.4 L1501.4,1002.6 L1503.4,1002.7 L1505.7,1002.9 L1507.9,1003.2 L1510.1,1003.4 L1512.2,1003.6 L1514.4,1003.8 L1516.5,1004.0 L1518.7,1004.3 L1520.7,1004.4 L1522.8,1004.6 L1524.8,1004.7 L1526.8,1004.8 L1528.9,1005.0 L1530.9,1005.1 L1533.0,1005.3 L1535.1,1005.5 L1537.1,1005.8 L1539.1,1006.5 L1541.1,1007.2 L1543.1,1008.0 L1545.0,1008.8 L1547.0,1009.6 L1549.0,1010.4 L1551.0,1011.2 L1553.0,1012.0 L1555.1,1012.8 L1557.1,1013.5 L1559.2,1013.7 L1561.2,1013.9 L1563.4,1014.1 L1565.5,1014.2 L1567.6,1014.4 L1569.7,1014.5 L1571.9,1014.6 L1574.0,1014.8 L1576.0,1014.8 L1578.1,1014.9 L1580.1,1015.0 L1582.1,1014.5 L1584.1,1013.9 L1586.0,1013.3 L1587.9,1012.7 L1589.8,1012.1 L1591.7,1011.5 L1593.5,1010.9 L1595.4,1010.4 L1597.7,1010.5 L1600.0,1010.7 L1602.3,1010.9 L1604.5,1011.2 L1606.7,1011.5 L1608.8,1011.7 L1610.8,1011.9"/>
<path class="c" stroke="#b3d99b" stroke-width="10.5" d="M223.1,1002.7 L225.2,1003.0 L227.5,1003.3 L229.9,1003.6 L232.3,1003.9 L234.4,1004.2 L236.6,1004.5 L238.7,1004.7 L240.9,1004.9 L243.0,1005.0 L244.9,1004.1 L246.8,1003.0 L248.7,1001.9 L250.5,1000.7 L252.2,999.7 L253.7,997.3 L255.3,995.4 L257.2,996.2 L259.2,997.2 L261.3,998.3 L263.5,999.3 L265.6,1000.3 L267.6,1001.2 L269.5,1000.4 L271.4,999.3 L273.3,998.2 L275.2,997.3 L277.3,998.2 L279.5,999.3 L281.7,1000.4 L283.8,1001.5 L286.0,1002.4 L288.3,1001.9 L290.6,1001.1 L292.8,1000.3 L295.2,999.7 L297.3,999.9 L299.4,1000.2 L301.6,1000.5 L303.8,1000.8 L305.9,1001.2 L308.2,1001.9 L310.6,1002.6 L312.8,1003.2 L315.1,1003.6 L316.7,1002.1 L318.2,1000.3 L319.7,998.5 L321.2,996.8 L322.8,995.4 L324.6,996.5 L326.4,998.0 L328.3,999.6 L330.1,1001.1 L332.0,1002.4 L334.3,1002.0 L336.6,1001.4 L338.9,1000.6 L341.2,999.7 L342.5,998.0 L343.8,996.2 L345.0,994.3 L346.3,992.5 L347.6,990.8 L348.9,989.2 L351.1,989.7 L353.4,990.5 L355.7,991.3 L358.1,992.0 L360.3,991.4 L362.6,990.6 L364.9,989.8 L367.3,989.2 L369.4,989.8 L371.5,990.5 L373.7,991.3 L375.8,992.0 L378.0,992.7 L380.2,993.2 L382.3,993.7 L384.5,994.1 L386.6,994.5 L388.7,994.7 L391.1,993.9 L393.3,993.0 L395.6,992.0 L397.9,991.2 L400.1,991.3 L402.2,991.4 L404.4,991.6 L406.6,991.8 L408.7,992.0 L411.0,992.6 L413.3,993.4 L415.6,994.1 L417.9,994.7 L420.5,995.0 L423.0,995.3 L425.6,995.4 L427.5,994.4 L429.4,993.2 L431.3,992.1 L433.2,991.2 L435.1,992.0 L437.0,993.0 L438.9,993.9 L440.9,994.7 L443.2,994.1 L445.5,993.3 L447.8,992.5 L450.1,991.7 L452.4,991.0 L454.7,990.4 L457.0,989.6 L459.3,988.6 L460.5,986.9 L461.7,985.0 L462.9,983.1 L464.0,981.1 L465.2,979.1 L466.4,977.2 L467.5,975.5 L468.5,973.9 L469.1,975.6 L470.0,978.2 L471.7,978.9 L473.5,979.7 L475.4,980.6 L477.4,981.4 L479.4,982.2 L481.4,983.0 L483.4,983.7 L485.3,984.3 L487.3,983.9 L489.2,983.3 L491.1,982.7 L493.0,982.0 L494.9,981.3 L496.8,980.7 L498.8,980.1 L500.7,979.7 L502.6,980.5 L504.5,981.5 L506.5,982.6 L508.4,983.7 L510.3,984.7 L512.2,985.8 L514.1,986.7 L516.0,987.4 L517.6,986.3 L519.1,985.0 L520.6,983.5 L522.2,982.0 L523.7,980.5 L525.2,979.1 L526.7,977.8 L528.3,976.6 L530.2,977.4 L532.0,978.3 L533.9,979.3 L535.8,980.4 L537.8,981.5 L539.7,982.6 L541.7,983.5 L543.6,984.3 L545.6,983.6 L547.7,982.9 L549.7,982.0 L551.8,981.0 L553.9,980.1 L555.9,979.1 L558.0,978.2 L560.0,977.4 L562.0,976.6 L564.3,976.9 L566.5,977.3 L568.7,977.7 L570.9,978.2 L573.0,978.7 L575.2,979.2 L577.4,979.7 L579.3,980.4 L581.2,981.2 L583.1,982.0 L585.0,982.9 L587.0,983.7 L588.9,984.5 L590.8,985.2 L592.7,985.8 L594.9,985.8 L597.1,985.6 L599.3,985.4 L601.5,985.2 L603.7,984.9 L605.9,984.6 L608.1,984.3 L610.0,983.6 L611.9,982.8 L613.8,981.9 L615.7,981.1 L617.6,980.2 L619.6,979.4 L621.5,978.8 L623.4,978.2 L625.3,979.0 L627.2,979.9 L629.2,980.9 L631.1,981.9 L633.0,983.0 L634.9,984.0 L636.8,985.0 L638.7,985.8 L640.9,985.8 L643.1,985.7 L645.3,985.5 L647.5,985.3 L649.7,985.1 L651.9,984.7 L654.1,984.3 L655.8,983.0 L657.5,981.7 L659.2,980.2 L660.9,978.7 L662.7,977.2 L664.4,975.7 L666.1,974.3 L667.8,973.1 L669.4,972.0 L671.0,973.3 L672.6,974.8 L674.1,976.4 L675.6,978.2 L677.2,979.9 L678.7,981.6 L680.2,983.1 L681.7,984.3 L683.1,983.1 L684.4,981.8 L685.8,980.2 L687.1,978.6 L688.5,977.0 L689.8,975.3 L691.1,973.6 L692.4,972.0 L693.8,970.3 L695.2,968.4 L696.5,966.6 L697.9,964.8 L699.2,963.0 L700.5,961.3 L701.6,959.8 L707.7,925.0 L708.5,840.0 L709.9,700.0 L711.2,575.0 L712.5,498.0 L713.6,422.0 L715.8,231.5 L718.9,138.0 L721.5,90.0 L723.6,62.0 L726.6,43.1 L728.7,43.7 L731.0,44.4 L733.4,45.0 L735.8,44.9 L738.2,44.6 L740.6,44.5 L742.9,44.4 L744.8,45.6 L746.5,47.1 L748.3,48.5 L750.3,49.6 L752.2,50.7 L754.3,51.7 L756.5,52.6 L758.4,52.4 L760.5,52.1 L762.6,51.8 L764.7,51.4 L766.7,50.9 L768.7,50.4 L770.4,49.0 L772.1,47.3 L773.7,45.6 L775.3,44.1 L776.8,43.1 L778.2,44.6 L779.5,46.6 L780.9,48.8 L782.2,50.9 L783.6,52.6 L785.9,52.2 L788.3,51.5 L790.7,50.7 L793.1,49.9 L795.0,49.1 L796.9,48.3 L798.8,47.6 L800.7,46.9 L802.6,46.3 L805.0,46.8 L807.4,47.5 L809.7,48.2 L812.1,49.0 L814.0,50.0 L815.9,51.1 L817.7,52.2 L819.6,53.2 L821.6,53.9 L823.6,53.3 L825.7,52.5 L827.8,51.6 L829.8,50.7 L831.9,49.9 L833.8,49.3 L835.9,50.1 L837.9,51.2 L839.8,52.3 L842.0,53.1 L843.8,52.7 L845.7,52.2 L847.7,51.6 L849.7,51.0 L851.7,50.3 L853.6,49.8 L855.5,49.3 L857.8,49.4 L860.0,49.6 L862.1,49.8 L864.2,50.1 L866.4,50.4 L868.6,50.7 L870.7,51.1 L872.9,51.5 L875.0,51.8 L877.2,52.0 L879.3,51.5 L881.4,51.0 L883.5,50.4 L885.5,49.7 L887.5,49.1 L889.5,48.5 L891.7,47.7 L893.7,47.0 L896.2,46.3 L898.3,46.1 L900.4,45.9 L902.6,45.7 L904.9,45.5 L907.2,45.3 L909.5,45.1 L911.7,45.0 L913.9,45.0 L916.1,45.8 L918.2,46.7 L920.2,47.8 L922.2,48.8 L924.2,49.7 L926.1,50.4 L928.2,49.3 L930.3,47.7 L932.2,46.2 L934.2,45.0 L936.3,45.5 L938.3,46.4 L940.3,47.3 L942.4,48.0 L944.2,47.2 L946.2,46.2 L948.1,45.2 L950.0,44.3 L951.9,43.9 L953.1,45.3 L954.2,47.1 L955.4,49.0 L956.5,51.0 L957.7,52.9 L958.8,54.7 L960.0,56.1 L961.9,55.4 L963.7,54.2 L965.6,52.9 L967.6,51.5 L969.5,50.4 L971.6,50.3 L973.8,50.4 L976.0,50.5 L978.2,50.6 L980.4,50.4 L982.1,49.2 L983.8,47.9 L985.4,46.4 L987.2,44.9 L988.9,43.6 L990.7,42.5 L992.6,41.7 L994.0,42.7 L995.4,44.0 L996.9,45.3 L998.4,46.8 L1000.0,48.3 L1001.5,49.8 L1003.0,51.4 L1004.5,52.9 L1006.0,54.4 L1007.5,55.7 L1008.9,56.9 L1010.2,58.0 L1012.1,56.9 L1013.7,55.3 L1015.3,53.4 L1016.8,51.5 L1018.4,49.9 L1020.4,49.3 L1022.4,48.9 L1024.5,48.6 L1026.5,48.5 L1028.5,49.3 L1030.5,50.2 L1032.5,51.1 L1034.6,51.8 L1036.8,51.0 L1039.0,50.0 L1041.2,49.0 L1043.4,48.0 L1045.5,47.1 L1047.6,47.4 L1049.6,47.8 L1051.6,48.3 L1053.6,48.5 L1055.5,47.5 L1057.3,46.2 L1059.2,44.8 L1061.2,43.7 L1063.1,43.1 L1064.4,44.3 L1065.8,45.8 L1067.2,47.4 L1068.5,49.1 L1069.9,50.9 L1071.3,52.6 L1072.7,54.2 L1074.0,55.5 L1075.3,56.6 L1076.8,55.5 L1078.1,53.9 L1079.5,52.1 L1080.8,50.2 L1082.2,48.3 L1083.5,46.5 L1084.8,45.0 L1087.2,44.6 L1089.6,44.6 L1092.0,44.7 L1094.3,45.0 L1096.5,45.9 L1098.6,47.0 L1100.7,48.1 L1102.5,49.0 L1110.9,60.0 L1114.7,85.0 L1117.7,138.0 L1120.7,231.5 L1123.1,422.0 L1124.0,498.0 L1126.7,600.0 L1128.3,740.0 L1129.7,880.0 L1130.3,930.0 L1133.0,987.4 L1134.1,988.9 L1135.2,990.6 L1136.6,992.3 L1138.3,993.5 L1140.1,992.9 L1141.9,992.2 L1143.8,991.4 L1145.8,990.6 L1147.7,989.7 L1149.8,988.9 L1151.8,988.0 L1153.8,987.2 L1155.7,986.4 L1157.7,985.6 L1159.6,984.9 L1161.4,984.3 L1163.4,985.3 L1165.2,986.5 L1166.9,987.8 L1168.6,989.2 L1170.3,990.6 L1172.1,992.0 L1173.6,993.3 L1175.1,994.6 L1176.5,996.0 L1178.0,997.3 L1179.5,998.7 L1181.1,1000.1 L1182.7,1001.4 L1184.4,1002.7 L1186.2,1003.4 L1188.0,1004.1 L1189.9,1004.8 L1191.9,1005.4 L1193.8,1006.1 L1195.8,1006.8 L1197.7,1007.4 L1199.7,1008.1 L1201.6,1008.7 L1203.6,1009.3 L1205.5,1009.8 L1207.4,1010.4 L1209.5,1010.4 L1211.6,1010.3 L1213.7,1010.2 L1215.8,1010.1 L1217.8,1009.9 L1219.8,1009.7 L1221.8,1009.5 L1223.8,1009.2 L1225.8,1008.9 L1227.4,1007.5 L1229.0,1005.9 L1230.5,1004.3 L1232.0,1002.7 L1233.5,1001.1 L1235.0,999.5 L1236.5,998.0 L1238.1,996.6 L1240.2,996.2 L1242.4,995.8 L1244.7,995.5 L1246.9,995.2 L1249.1,995.1 L1251.3,995.0 L1253.4,995.0 L1254.8,996.6 L1256.1,998.4 L1257.3,1000.2 L1258.5,1002.1 L1259.8,1004.0 L1261.1,1005.7 L1262.6,1007.3 L1264.6,1007.5 L1266.7,1007.5 L1268.9,1007.5 L1271.1,1007.5 L1273.3,1007.4 L1275.5,1007.3 L1277.7,1007.2 L1279.9,1007.2 L1282.0,1007.2 L1284.1,1007.3 L1286.0,1008.5 L1287.7,1009.9 L1289.4,1011.4 L1291.1,1012.9 L1292.8,1014.3 L1294.5,1015.5 L1296.3,1016.5 L1298.0,1015.6 L1299.6,1014.6 L1301.3,1013.5 L1302.9,1012.3 L1304.6,1011.0 L1306.3,1009.8 L1308.1,1008.5 L1309.8,1007.3 L1311.4,1006.2 L1313.1,1005.1 L1314.8,1004.3 L1316.7,1005.1 L1318.7,1006.2 L1320.6,1007.3 L1322.5,1008.6 L1324.4,1009.9 L1326.3,1011.2 L1328.2,1012.4 L1330.1,1013.5 L1332.3,1013.8 L1334.6,1014.1 L1336.8,1014.4 L1339.1,1014.6 L1341.3,1014.8 L1343.4,1014.9 L1345.4,1015.0 L1347.0,1013.5 L1348.3,1011.7 L1350.0,1010.4 L1351.9,1011.1 L1353.8,1011.9 L1355.8,1012.8 L1357.8,1013.8 L1359.9,1014.7 L1362.0,1015.7 L1364.1,1016.6 L1366.3,1017.4 L1368.4,1018.1 L1370.4,1017.7 L1372.4,1017.2 L1374.4,1016.8 L1376.5,1016.2 L1378.5,1015.7 L1380.6,1015.1 L1382.7,1014.5 L1384.7,1013.9 L1386.8,1013.4 L1388.9,1012.8 L1390.9,1012.3 L1393.0,1011.9 L1395.1,1012.1 L1397.2,1012.3 L1399.2,1012.6 L1401.3,1012.8 L1403.4,1013.1 L1405.5,1013.4 L1407.5,1013.8 L1409.6,1014.1 L1411.7,1014.4 L1413.8,1014.7 L1416.0,1015.0 L1417.9,1015.2 L1419.9,1015.5 L1421.9,1015.7 L1423.9,1015.9 L1425.9,1016.1 L1428.0,1016.4 L1430.0,1016.6 L1432.0,1016.8 L1434.0,1017.0 L1436.0,1017.3 L1438.0,1017.5 L1440.0,1017.8 L1442.0,1018.1 L1444.1,1018.6 L1446.1,1019.1 L1448.2,1019.6 L1450.2,1020.2 L1452.3,1020.8 L1454.3,1021.3 L1456.3,1021.9 L1458.3,1022.4 L1460.4,1022.9 L1462.4,1023.4 L1464.5,1023.8 L1466.6,1024.2 L1468.5,1023.8 L1470.5,1023.3 L1472.5,1022.7 L1474.4,1022.2 L1476.4,1021.6 L1478.4,1020.9 L1480.4,1020.3 L1482.4,1019.7 L1484.4,1019.1 L1486.3,1018.5 L1488.3,1017.9 L1490.3,1017.4 L1492.2,1016.9 L1494.2,1016.5 L1496.1,1017.1 L1498.0,1017.7 L1499.9,1018.3 L1501.8,1019.0 L1503.7,1019.7 L1505.6,1020.5 L1507.5,1021.3 L1509.4,1022.0 L1511.2,1022.8 L1513.1,1023.6 L1515.0,1024.3 L1516.9,1025.0 L1518.7,1025.7 L1520.8,1026.3 L1522.9,1026.9 L1525.0,1027.5 L1527.1,1028.1 L1529.2,1028.7 L1531.3,1029.3 L1533.4,1029.8 L1535.5,1030.4 L1537.6,1030.9 L1539.7,1031.4 L1541.7,1031.9 L1543.8,1031.8 L1545.9,1031.7 L1548.0,1031.6 L1550.1,1031.4 L1552.2,1031.2 L1554.3,1031.1 L1556.4,1030.9 L1558.5,1030.7 L1560.6,1030.6 L1562.7,1030.4 L1564.8,1030.3 L1566.8,1030.6 L1568.9,1030.8 L1571.0,1031.1 L1573.1,1031.4 L1575.2,1031.7 L1577.3,1032.0 L1579.4,1032.3 L1581.5,1032.6 L1583.6,1032.9 L1585.7,1033.2 L1587.8,1033.4 L1589.9,1033.3 L1592.0,1033.2 L1594.2,1033.1 L1596.4,1032.9 L1598.6,1032.8 L1600.8,1032.6 L1602.9,1032.4 L1605.0,1032.3 L1607.0,1032.1 L1608.9,1032.0 L1610.8,1031.9"/>
<path class="c" stroke="#9fc4e8" stroke-width="10.5" d="M223.1,993.5 L224.6,992.5 L226.3,991.5 L228.1,990.4 L229.9,989.3 L231.8,988.1 L233.6,987.0 L235.3,985.8 L237.2,984.5 L239.0,983.2 L240.8,981.9 L242.5,980.6 L244.3,979.3 L246.1,978.2 L248.4,977.6 L250.7,977.2 L253.0,976.9 L255.3,976.6 L257.4,977.5 L259.5,978.5 L261.7,979.5 L263.8,980.4 L266.0,981.2 L268.1,980.8 L270.1,980.3 L272.2,979.7 L274.3,979.1 L276.3,978.6 L278.3,978.2 L280.3,979.6 L282.2,981.3 L284.1,983.0 L286.0,984.3 L287.9,983.0 L289.7,981.4 L291.6,979.7 L293.6,978.2 L295.7,978.1 L297.9,978.1 L300.0,978.2 L302.2,978.2 L304.4,978.2 L306.5,977.3 L308.7,976.4 L310.8,975.4 L313.0,974.5 L315.1,973.6 L317.3,972.9 L319.4,972.1 L321.6,971.4 L323.8,970.9 L325.8,970.5 L327.4,972.2 L329.0,974.2 L330.5,976.3 L332.0,978.2 L333.5,979.7 L334.8,978.5 L336.1,977.0 L337.4,975.4 L338.7,973.8 L340.0,972.1 L341.4,970.5 L342.7,969.0 L344.7,968.1 L346.7,967.3 L348.8,966.5 L350.9,965.7 L352.9,965.0 L355.0,964.4 L357.0,964.2 L359.1,964.0 L361.2,963.9 L363.2,963.8 L365.3,963.7 L367.3,963.6 L369.6,963.4 L372.0,963.3 L374.3,963.1 L376.5,962.8 L378.6,961.3 L380.6,959.6 L382.6,958.2 L384.5,958.9 L386.5,959.7 L388.4,960.6 L390.3,961.3 L392.6,960.5 L394.9,959.8 L396.7,960.7 L398.7,961.7 L400.6,962.8 L402.5,963.6 L404.6,962.6 L406.6,961.4 L408.7,960.5 L410.5,961.5 L412.3,962.7 L414.2,963.9 L416.0,965.0 L417.9,965.9 L419.7,964.7 L421.6,963.2 L423.4,961.6 L425.2,960.2 L427.1,959.0 L428.9,960.2 L430.8,961.6 L432.6,963.2 L434.5,964.6 L436.3,965.9 L438.3,965.4 L440.2,964.8 L442.1,963.9 L444.0,962.8 L444.8,961.1 L445.5,959.2 L446.3,957.2 L447.1,955.2 L447.8,953.1 L448.6,951.2 L449.4,949.3 L450.1,947.5 L452.4,945.6 L454.7,944.4 L456.7,944.9 L458.7,945.6 L460.8,946.0 L462.7,944.5 L464.7,942.8 L466.6,941.2 L468.5,939.8 L470.6,941.1 L472.7,942.7 L474.6,944.4 L475.7,946.8 L476.6,949.3 L477.7,951.3 L479.4,950.6 L481.2,949.6 L483.1,948.6 L485.0,947.6 L486.9,946.7 L489.2,947.2 L491.5,947.9 L493.8,948.6 L496.1,949.0 L497.9,948.1 L499.7,946.9 L501.6,945.8 L503.4,944.6 L505.3,943.7 L507.4,944.0 L509.5,944.5 L511.6,945.1 L513.8,945.6 L516.0,946.0 L518.0,945.2 L519.9,944.3 L521.9,943.4 L524.0,942.4 L526.0,941.5 L527.9,940.6 L529.8,939.8 L532.2,940.5 L534.6,941.4 L536.8,942.3 L539.0,942.9 L540.6,941.5 L542.1,939.9 L543.6,938.2 L545.2,936.8 L547.7,936.9 L550.2,937.3 L552.8,937.5 L555.1,936.8 L557.4,936.0 L559.7,935.2 L562.0,934.5 L564.3,934.4 L566.6,934.5 L568.9,934.6 L571.2,934.5 L573.0,933.6 L574.7,932.6 L576.5,931.6 L578.2,930.6 L580.0,929.6 L581.8,928.5 L583.5,927.6 L585.3,926.5 L587.2,925.4 L589.0,924.2 L590.8,923.2 L592.5,922.2 L594.3,921.4 L596.2,922.8 L598.2,924.5 L600.1,926.2 L601.9,927.6 L604.0,926.1 L606.0,924.4 L608.1,923.0 L609.9,924.3 L611.8,926.0 L613.7,927.7 L615.7,929.1 L617.4,928.3 L619.2,927.4 L620.9,926.3 L622.7,925.2 L624.5,924.1 L626.5,923.0 L628.2,922.0 L630.0,921.0 L631.9,919.9 L633.8,918.8 L635.7,917.7 L637.6,916.7 L639.5,915.7 L641.3,914.7 L643.1,913.8 L644.9,913.0 L646.9,913.9 L648.8,915.1 L650.6,916.5 L652.3,917.9 L654.1,919.1 L656.0,920.1 L657.9,921.1 L659.8,922.1 L661.7,923.0 L664.3,923.6 L666.8,924.1 L669.4,924.5 L671.7,923.8 L674.0,923.1 L676.3,922.3 L678.6,921.4 L680.2,919.9 L681.7,918.3 L683.3,916.6 L684.8,915.1 L686.3,913.7 L688.4,914.6 L690.4,915.9 L692.4,916.8 L694.0,915.5 L695.5,914.0 L697.1,912.4 L698.6,910.7 L699.3,908.7 L699.9,906.6 L700.6,904.4 L701.2,902.3 L701.8,900.3 L702.4,898.4 L708.5,840.0 L709.9,700.0 L711.2,575.0 L712.5,498.0 L713.6,422.0 L715.8,231.5 L718.9,138.0 L721.5,90.0 L723.6,62.0 L726.6,43.1 L728.7,43.7 L731.0,44.4 L733.4,45.0 L735.8,44.9 L738.2,44.6 L740.6,44.5 L742.9,44.4 L744.8,45.6 L746.5,47.1 L748.3,48.5 L750.3,49.6 L752.2,50.7 L754.3,51.7 L756.5,52.6 L758.4,52.4 L760.5,52.1 L762.6,51.8 L764.7,51.4 L766.7,50.9 L768.7,50.4 L770.4,49.0 L772.1,47.3 L773.7,45.6 L775.3,44.1 L776.8,43.1 L778.2,44.6 L779.5,46.6 L780.9,48.8 L782.2,50.9 L783.6,52.6 L785.9,52.2 L788.3,51.5 L790.7,50.7 L793.1,49.9 L795.0,49.1 L796.9,48.3 L798.8,47.6 L800.7,46.9 L802.6,46.3 L805.0,46.8 L807.4,47.5 L809.7,48.2 L812.1,49.0 L814.0,50.0 L815.9,51.1 L817.7,52.2 L819.6,53.2 L821.6,53.9 L823.6,53.3 L825.7,52.5 L827.8,51.6 L829.8,50.7 L831.9,49.9 L833.8,49.3 L835.9,50.1 L837.9,51.2 L839.8,52.3 L842.0,53.1 L843.8,52.7 L845.7,52.2 L847.7,51.6 L849.7,51.0 L851.7,50.3 L853.6,49.8 L855.5,49.3 L857.8,49.4 L860.0,49.6 L862.1,49.8 L864.2,50.1 L866.4,50.4 L868.6,50.7 L870.7,51.1 L872.9,51.5 L875.0,51.8 L877.2,52.0 L879.3,51.5 L881.4,51.0 L883.5,50.4 L885.5,49.7 L887.5,49.1 L889.5,48.5 L891.7,47.7 L893.7,47.0 L896.2,46.3 L898.3,46.1 L900.4,45.9 L902.6,45.7 L904.9,45.5 L907.2,45.3 L909.5,45.1 L911.7,45.0 L913.9,45.0 L916.1,45.8 L918.2,46.7 L920.2,47.8 L922.2,48.8 L924.2,49.7 L926.1,50.4 L928.2,49.3 L930.3,47.7 L932.2,46.2 L934.2,45.0 L936.3,45.5 L938.3,46.4 L940.3,47.3 L942.4,48.0 L944.2,47.2 L946.2,46.2 L948.1,45.2 L950.0,44.3 L951.9,43.9 L953.1,45.3 L954.2,47.1 L955.4,49.0 L956.5,51.0 L957.7,52.9 L958.8,54.7 L960.0,56.1 L961.9,55.4 L963.7,54.2 L965.6,52.9 L967.6,51.5 L969.5,50.4 L971.6,50.3 L973.8,50.4 L976.0,50.5 L978.2,50.6 L980.4,50.4 L982.1,49.2 L983.8,47.9 L985.4,46.4 L987.2,44.9 L988.9,43.6 L990.7,42.5 L992.6,41.7 L994.0,42.7 L995.4,44.0 L996.9,45.3 L998.4,46.8 L1000.0,48.3 L1001.5,49.8 L1003.0,51.4 L1004.5,52.9 L1006.0,54.4 L1007.5,55.7 L1008.9,56.9 L1010.2,58.0 L1012.1,56.9 L1013.7,55.3 L1015.3,53.4 L1016.8,51.5 L1018.4,49.9 L1020.4,49.3 L1022.4,48.9 L1024.5,48.6 L1026.5,48.5 L1028.5,49.3 L1030.5,50.2 L1032.5,51.1 L1034.6,51.8 L1036.8,51.0 L1039.0,50.0 L1041.2,49.0 L1043.4,48.0 L1045.5,47.1 L1047.6,47.4 L1049.6,47.8 L1051.6,48.3 L1053.6,48.5 L1055.5,47.5 L1057.3,46.2 L1059.2,44.8 L1061.2,43.7 L1063.1,43.1 L1064.4,44.3 L1065.8,45.8 L1067.2,47.4 L1068.5,49.1 L1069.9,50.9 L1071.3,52.6 L1072.7,54.2 L1074.0,55.5 L1075.3,56.6 L1076.8,55.5 L1078.1,53.9 L1079.5,52.1 L1080.8,50.2 L1082.2,48.3 L1083.5,46.5 L1084.8,45.0 L1087.2,44.6 L1089.6,44.6 L1092.0,44.7 L1094.3,45.0 L1096.5,45.9 L1098.6,47.0 L1100.7,48.1 L1102.5,49.0 L1110.9,60.0 L1114.7,85.0 L1117.7,138.0 L1120.7,231.5 L1123.1,422.0 L1124.0,498.0 L1126.7,600.0 L1128.3,740.0 L1129.7,880.0 L1134.5,916.8 L1135.0,919.0 L1135.5,921.6 L1136.1,924.0 L1136.8,926.0 L1138.5,924.8 L1140.3,923.3 L1142.2,921.6 L1144.1,919.9 L1146.0,918.3 L1148.1,917.6 L1150.3,916.8 L1152.6,916.1 L1154.8,915.4 L1157.0,914.9 L1159.1,914.5 L1160.3,916.2 L1161.5,918.1 L1162.6,920.2 L1163.7,922.2 L1164.8,924.2 L1166.0,926.0 L1168.0,926.7 L1170.0,927.1 L1172.1,927.6 L1174.3,928.3 L1176.6,929.2 L1178.9,930.0 L1181.3,930.6 L1183.4,929.9 L1185.6,929.1 L1187.8,928.2 L1189.9,927.4 L1192.0,926.8 L1194.0,927.9 L1195.9,929.3 L1197.8,930.7 L1199.7,932.2 L1201.6,933.7 L1203.5,935.3 L1205.4,936.8 L1207.4,938.3 L1209.4,938.8 L1211.4,939.3 L1213.5,939.7 L1215.6,940.1 L1217.6,940.4 L1219.7,940.6 L1221.2,939.4 L1222.8,938.0 L1224.3,936.5 L1225.8,935.0 L1227.3,933.5 L1228.9,932.2 L1231.2,931.2 L1233.5,930.2 L1235.8,929.5 L1238.1,929.1 L1239.2,930.7 L1240.3,932.4 L1241.4,934.3 L1242.4,936.3 L1243.5,938.2 L1244.6,939.9 L1245.7,941.4 L1247.5,940.1 L1249.4,938.5 L1251.3,936.6 L1253.1,935.0 L1254.9,933.7 L1256.2,935.2 L1257.5,936.9 L1258.8,938.8 L1260.0,940.7 L1261.3,942.6 L1262.6,944.4 L1264.4,946.0 L1266.3,947.5 L1268.1,949.0 L1270.0,950.5 L1271.8,952.1 L1272.9,953.8 L1274.0,955.7 L1275.1,957.7 L1276.1,959.6 L1277.2,961.4 L1278.3,963.0 L1279.5,964.4 L1280.8,963.0 L1282.1,961.3 L1283.5,959.5 L1284.8,957.6 L1286.2,955.6 L1287.5,953.8 L1288.9,952.1 L1290.2,950.6 L1292.1,951.5 L1293.9,952.7 L1295.8,954.2 L1297.6,955.6 L1299.4,956.7 L1301.7,956.1 L1304.0,955.1 L1306.4,954.2 L1308.6,953.6 L1310.2,955.0 L1311.7,956.7 L1313.2,958.4 L1314.7,960.0 L1316.3,961.3 L1318.1,960.0 L1319.9,958.3 L1321.8,956.6 L1323.6,954.9 L1325.5,953.6 L1327.0,954.9 L1328.6,956.4 L1330.1,958.0 L1331.6,959.6 L1333.2,961.3 L1334.7,962.8 L1336.5,964.2 L1338.4,965.6 L1340.2,966.9 L1342.1,968.0 L1343.9,969.0 L1345.8,967.7 L1347.7,966.1 L1349.5,964.4 L1351.4,962.8 L1353.1,961.3 L1355.4,960.1 L1357.7,959.8 L1358.8,961.5 L1359.9,963.4 L1361.0,965.4 L1362.2,967.5 L1363.3,969.6 L1364.5,971.6 L1365.7,973.5 L1366.9,975.1 L1368.6,974.4 L1370.4,973.4 L1372.2,972.2 L1374.0,971.0 L1375.8,969.9 L1377.6,969.0 L1379.5,970.0 L1381.3,971.2 L1383.2,972.5 L1385.0,973.8 L1386.8,975.1 L1388.6,976.4 L1390.5,977.7 L1392.3,979.0 L1394.1,980.2 L1396.0,981.2 L1398.0,980.6 L1400.1,979.8 L1402.2,978.9 L1404.2,978.1 L1406.3,977.3 L1408.3,976.6 L1410.2,977.7 L1412.0,979.0 L1413.9,980.4 L1415.7,981.7 L1417.5,982.8 L1419.3,982.0 L1421.2,981.0 L1423.0,979.9 L1424.8,978.9 L1426.7,978.2 L1428.5,979.3 L1430.2,980.5 L1432.0,981.9 L1433.8,983.3 L1435.6,984.6 L1437.4,985.8 L1439.6,986.2 L1441.7,986.5 L1443.8,986.7 L1446.0,987.0 L1448.2,987.4 L1450.1,988.4 L1452.1,989.6 L1454.1,990.8 L1456.0,992.0 L1458.0,993.1 L1460.0,994.2 L1462.0,995.0 L1463.8,994.1 L1465.5,993.0 L1467.3,991.8 L1469.1,990.6 L1470.8,989.3 L1472.6,988.2 L1474.3,987.4 L1475.8,988.7 L1477.4,990.2 L1478.9,992.0 L1480.4,993.7 L1481.9,995.3 L1483.5,996.6 L1485.2,995.8 L1487.0,994.7 L1488.8,993.5 L1490.6,992.3 L1492.4,991.3 L1494.2,990.4 L1495.7,991.5 L1497.3,992.8 L1498.8,994.2 L1500.3,995.7 L1501.9,997.1 L1503.4,998.4 L1504.9,999.7 L1507.1,999.8 L1509.2,999.8 L1511.4,999.7 L1513.6,999.6 L1515.7,999.7 L1517.5,1000.8 L1519.4,1002.0 L1521.2,1003.2 L1523.0,1004.5 L1524.9,1005.8 L1526.7,1007.1 L1528.5,1008.4 L1530.3,1009.7 L1532.2,1010.9 L1534.1,1011.9 L1536.1,1011.6 L1538.1,1011.1 L1540.2,1010.5 L1542.3,1009.9 L1544.3,1009.3 L1546.3,1008.9 L1548.5,1008.8 L1550.7,1008.7 L1552.8,1008.7 L1555.0,1008.8 L1557.1,1008.9 L1559.4,1009.6 L1561.7,1010.4 L1564.0,1011.2 L1566.3,1011.9 L1568.6,1011.6 L1570.9,1011.2 L1573.2,1010.7 L1575.5,1010.4 L1577.6,1011.0 L1579.8,1011.7 L1581.9,1012.5 L1584.1,1013.1 L1586.2,1013.5 L1587.8,1012.1 L1589.3,1010.5 L1590.9,1008.9 L1592.4,1007.2 L1594.0,1005.5 L1595.5,1004.0 L1597.0,1002.7 L1599.0,1003.9 L1600.9,1005.6 L1602.8,1007.3 L1604.6,1008.9 L1606.8,1009.0 L1608.9,1008.9 L1610.8,1008.9"/>
<path class="c" stroke="#fcd0c3" stroke-width="10.5" d="M223.1,1001.2 L224.9,1001.0 L226.9,1000.8 L228.9,1000.5 L230.9,1000.3 L233.0,1000.0 L235.2,999.8 L237.4,999.5 L239.6,999.3 L241.8,999.0 L244.1,998.8 L246.3,998.5 L248.5,998.3 L250.7,998.1 L252.7,998.1 L254.7,998.1 L256.8,998.1 L258.8,998.1 L260.8,998.1 L262.9,998.1 L264.9,998.1 L267.0,998.1 L269.0,998.1 L271.1,998.1 L273.2,998.1 L275.2,998.1 L277.3,998.1 L279.3,998.1 L281.4,998.1 L283.4,998.0 L285.4,997.9 L287.5,997.9 L289.5,997.8 L291.6,997.7 L293.6,997.6 L295.7,997.5 L297.7,997.4 L299.8,997.3 L301.8,997.2 L303.9,997.1 L305.9,997.0 L307.9,996.9 L310.0,996.7 L312.0,996.6 L314.1,996.2 L316.1,995.8 L318.2,995.4 L320.2,995.0 L322.3,994.6 L324.3,994.2 L326.4,993.7 L328.4,993.3 L330.4,992.9 L332.5,992.4 L334.5,992.0 L336.6,991.6 L338.6,991.2 L340.7,990.8 L342.7,990.4 L344.8,990.3 L346.8,990.2 L348.9,990.0 L350.9,989.9 L352.9,989.7 L355.0,989.6 L357.0,989.5 L359.1,989.4 L361.1,989.3 L363.2,989.2 L365.2,989.1 L367.3,989.0 L369.3,989.0 L371.4,988.9 L373.4,988.9 L375.4,989.3 L377.5,989.8 L379.5,990.3 L381.6,990.8 L383.6,991.3 L385.7,991.8 L387.7,992.4 L389.8,992.9 L391.8,993.4 L393.9,994.0 L395.9,994.5 L397.9,995.1 L400.0,995.6 L402.0,996.1 L404.1,996.6 L406.1,996.9 L408.2,997.3 L410.2,997.6 L412.3,998.0 L414.3,998.4 L416.3,998.8 L418.4,999.1 L420.4,999.5 L422.5,999.8 L424.5,1000.1 L426.6,1000.4 L428.6,1000.6 L430.7,1000.9 L432.7,1001.0 L434.8,1001.2 L436.7,1000.5 L438.6,999.7 L440.6,998.9 L442.6,998.1 L444.6,997.3 L446.6,996.4 L448.6,995.5 L450.6,994.6 L452.6,993.7 L454.5,992.8 L456.4,991.8 L458.3,990.9 L460.2,990.0 L462.0,989.1 L463.7,988.2 L465.4,987.4 L466.6,985.3 L467.3,983.1 L467.9,980.9 L468.4,978.8 L469.0,976.9 L470.0,975.1 L471.9,975.2 L473.8,975.3 L475.9,975.4 L478.0,975.6 L480.1,975.9 L482.2,976.1 L484.4,976.4 L486.6,976.8 L488.8,977.2 L490.9,977.7 L493.0,978.2 L494.4,979.5 L495.9,980.9 L497.3,982.3 L498.8,983.8 L500.2,985.4 L501.6,986.9 L503.1,988.5 L504.5,990.1 L506.0,991.7 L507.4,993.2 L508.8,994.7 L510.3,996.2 L511.7,997.6 L513.1,998.9 L514.6,1000.1 L516.0,1001.2 L517.6,1000.2 L519.1,999.1 L520.6,997.9 L522.2,996.7 L523.7,995.3 L525.2,993.9 L526.8,992.4 L528.3,991.0 L529.8,989.5 L531.4,988.0 L532.9,986.5 L534.4,985.1 L536.0,983.7 L537.5,982.5 L539.0,981.2 L541.1,980.8 L543.2,980.4 L545.4,980.0 L547.5,979.7 L549.6,979.5 L551.7,979.2 L553.8,979.0 L555.9,978.8 L558.0,978.6 L560.0,978.4 L562.0,978.2 L564.3,978.1 L566.6,978.1 L568.7,978.0 L570.9,978.0 L573.0,978.0 L575.2,978.1 L577.4,978.2 L579.4,978.6 L581.4,979.1 L583.4,979.7 L585.5,980.3 L587.5,980.8 L589.6,981.4 L591.6,981.9 L593.7,982.4 L595.8,982.8 L597.8,982.6 L599.8,982.3 L601.8,982.1 L603.8,981.8 L605.8,981.4 L607.8,981.1 L609.8,980.8 L611.8,980.4 L613.8,980.1 L615.7,979.7 L617.7,979.0 L619.7,978.2 L621.6,977.3 L623.5,976.5 L625.4,975.6 L627.3,974.9 L629.2,974.2 L631.1,973.6 L633.0,974.2 L634.9,974.9 L636.8,975.7 L638.7,976.6 L640.7,977.4 L642.6,978.3 L644.5,979.0 L646.4,979.7 L648.6,979.6 L650.7,979.5 L652.9,979.3 L655.0,979.0 L657.2,978.7 L659.4,978.5 L661.7,978.2 L663.8,977.8 L665.8,977.3 L668.0,976.9 L670.1,976.4 L672.3,975.9 L674.4,975.5 L676.6,975.0 L678.7,974.6 L680.8,974.2 L682.8,973.9 L684.8,973.6 L686.9,975.0 L688.8,976.7 L690.5,978.5 L692.2,980.1 L694.0,981.2 L695.0,979.6 L696.0,977.8 L697.0,975.8 L698.0,973.7 L698.9,971.6 L699.9,969.6 L700.8,967.6 L701.6,965.9 L707.7,925.0 L708.5,840.0 L709.9,700.0 L711.2,575.0 L712.5,498.0 L713.6,422.0 L715.8,231.5 L718.9,138.0 L721.5,90.0 L723.6,62.0 L726.6,43.1 L728.7,43.7 L731.0,44.4 L733.4,45.0 L735.8,44.9 L738.2,44.6 L740.6,44.5 L742.9,44.4 L744.8,45.6 L746.5,47.1 L748.3,48.5 L750.3,49.6 L752.2,50.7 L754.3,51.7 L756.5,52.6 L758.4,52.4 L760.5,52.1 L762.6,51.8 L764.7,51.4 L766.7,50.9 L768.7,50.4 L770.4,49.0 L772.1,47.3 L773.7,45.6 L775.3,44.1 L776.8,43.1 L778.2,44.6 L779.5,46.6 L780.9,48.8 L782.2,50.9 L783.6,52.6 L785.9,52.2 L788.3,51.5 L790.7,50.7 L793.1,49.9 L795.0,49.1 L796.9,48.3 L798.8,47.6 L800.7,46.9 L802.6,46.3 L805.0,46.8 L807.4,47.5 L809.7,48.2 L812.1,49.0 L814.0,50.0 L815.9,51.1 L817.7,52.2 L819.6,53.2 L821.6,53.9 L823.6,53.3 L825.7,52.5 L827.8,51.6 L829.8,50.7 L831.9,49.9 L833.8,49.3 L835.9,50.1 L837.9,51.2 L839.8,52.3 L842.0,53.1 L843.8,52.7 L845.7,52.2 L847.7,51.6 L849.7,51.0 L851.7,50.3 L853.6,49.8 L855.5,49.3 L857.8,49.4 L860.0,49.6 L862.1,49.8 L864.2,50.1 L866.4,50.4 L868.6,50.7 L870.7,51.1 L872.9,51.5 L875.0,51.8 L877.2,52.0 L879.3,51.5 L881.4,51.0 L883.5,50.4 L885.5,49.7 L887.5,49.1 L889.5,48.5 L891.7,47.7 L893.7,47.0 L896.2,46.3 L898.3,46.1 L900.4,45.9 L902.6,45.7 L904.9,45.5 L907.2,45.3 L909.5,45.1 L911.7,45.0 L913.9,45.0 L916.1,45.8 L918.2,46.7 L920.2,47.8 L922.2,48.8 L924.2,49.7 L926.1,50.4 L928.2,49.3 L930.3,47.7 L932.2,46.2 L934.2,45.0 L936.3,45.5 L938.3,46.4 L940.3,47.3 L942.4,48.0 L944.2,47.2 L946.2,46.2 L948.1,45.2 L950.0,44.3 L951.9,43.9 L953.1,45.3 L954.2,47.1 L955.4,49.0 L956.5,51.0 L957.7,52.9 L958.8,54.7 L960.0,56.1 L961.9,55.4 L963.7,54.2 L965.6,52.9 L967.6,51.5 L969.5,50.4 L971.6,50.3 L973.8,50.4 L976.0,50.5 L978.2,50.6 L980.4,50.4 L982.1,49.2 L983.8,47.9 L985.4,46.4 L987.2,44.9 L988.9,43.6 L990.7,42.5 L992.6,41.7 L994.0,42.7 L995.4,44.0 L996.9,45.3 L998.4,46.8 L1000.0,48.3 L1001.5,49.8 L1003.0,51.4 L1004.5,52.9 L1006.0,54.4 L1007.5,55.7 L1008.9,56.9 L1010.2,58.0 L1012.1,56.9 L1013.7,55.3 L1015.3,53.4 L1016.8,51.5 L1018.4,49.9 L1020.4,49.3 L1022.4,48.9 L1024.5,48.6 L1026.5,48.5 L1028.5,49.3 L1030.5,50.2 L1032.5,51.1 L1034.6,51.8 L1036.8,51.0 L1039.0,50.0 L1041.2,49.0 L1043.4,48.0 L1045.5,47.1 L1047.6,47.4 L1049.6,47.8 L1051.6,48.3 L1053.6,48.5 L1055.5,47.5 L1057.3,46.2 L1059.2,44.8 L1061.2,43.7 L1063.1,43.1 L1064.4,44.3 L1065.8,45.8 L1067.2,47.4 L1068.5,49.1 L1069.9,50.9 L1071.3,52.6 L1072.7,54.2 L1074.0,55.5 L1075.3,56.6 L1076.8,55.5 L1078.1,53.9 L1079.5,52.1 L1080.8,50.2 L1082.2,48.3 L1083.5,46.5 L1084.8,45.0 L1087.2,44.6 L1089.6,44.6 L1092.0,44.7 L1094.3,45.0 L1096.5,45.9 L1098.6,47.0 L1100.7,48.1 L1102.5,49.0 L1110.9,60.0 L1114.7,85.0 L1117.7,138.0 L1120.7,231.5 L1123.1,422.0 L1124.0,498.0 L1126.7,600.0 L1128.3,740.0 L1129.7,880.0 L1130.3,930.0 L1133.0,972.0 L1133.8,973.9 L1134.6,976.0 L1135.4,978.2 L1136.3,980.4 L1137.3,982.5 L1138.3,984.3 L1140.2,984.3 L1142.2,984.0 L1144.2,983.6 L1146.2,983.2 L1148.4,982.9 L1150.6,982.8 L1152.4,983.5 L1154.3,984.4 L1156.2,985.2 L1158.1,986.2 L1160.1,987.1 L1162.0,988.0 L1164.0,989.0 L1165.9,989.9 L1167.9,990.9 L1169.8,991.8 L1171.8,992.7 L1173.6,993.5 L1175.7,994.1 L1177.8,994.7 L1179.8,995.2 L1181.8,995.7 L1183.8,996.1 L1185.9,996.6 L1187.9,997.1 L1189.9,997.6 L1192.0,998.1 L1194.1,998.7 L1196.2,999.3 L1198.2,999.9 L1200.3,1000.5 L1202.5,1001.2 L1204.6,1001.8 L1206.7,1002.4 L1208.8,1003.0 L1210.9,1003.5 L1213.0,1003.9 L1215.0,1004.3 L1216.9,1003.3 L1218.7,1002.3 L1220.6,1001.2 L1222.4,1000.1 L1224.2,998.9 L1226.0,997.7 L1227.8,996.4 L1229.6,995.2 L1231.4,994.1 L1233.2,993.0 L1235.0,992.0 L1237.1,991.6 L1239.1,991.3 L1241.2,991.1 L1243.3,990.9 L1245.3,990.7 L1247.3,990.5 L1249.4,990.4 L1251.4,990.4 L1253.4,990.4 L1255.1,991.6 L1256.8,992.9 L1258.5,994.3 L1260.2,995.7 L1261.8,997.1 L1263.5,998.6 L1265.2,1000.0 L1266.9,1001.4 L1268.7,1002.7 L1270.6,1003.4 L1272.5,1004.1 L1274.4,1004.7 L1276.4,1005.4 L1278.4,1006.0 L1280.4,1006.7 L1282.4,1007.3 L1284.3,1007.9 L1286.3,1008.5 L1288.2,1009.2 L1290.0,1009.8 L1291.7,1010.4 L1293.9,1012.1 L1295.7,1013.8 L1297.4,1015.3 L1299.4,1016.5 L1301.2,1015.6 L1303.0,1014.4 L1304.9,1013.2 L1306.8,1012.0 L1308.7,1010.7 L1310.7,1009.4 L1312.7,1008.3 L1314.8,1007.3 L1316.8,1007.6 L1318.8,1007.9 L1321.0,1008.3 L1323.1,1008.7 L1325.2,1009.2 L1327.4,1009.7 L1329.5,1010.2 L1331.7,1010.7 L1333.7,1011.1 L1335.8,1011.5 L1337.8,1011.9 L1339.9,1012.0 L1341.9,1012.0 L1343.7,1011.9 L1345.6,1011.8 L1347.7,1011.8 L1350.0,1011.9 L1351.9,1012.3 L1353.8,1012.7 L1355.9,1013.1 L1357.9,1013.5 L1360.0,1013.9 L1362.1,1014.3 L1364.2,1014.7 L1366.3,1015.2 L1368.5,1015.6 L1370.6,1016.0 L1372.7,1016.5 L1374.7,1016.9 L1376.8,1017.3 L1378.8,1017.7 L1380.7,1018.1 L1383.1,1018.4 L1385.3,1018.7 L1387.3,1018.9 L1389.4,1019.1 L1391.4,1019.3 L1393.6,1019.5 L1396.0,1019.6 L1397.9,1019.3 L1399.9,1019.0 L1401.9,1018.7 L1403.9,1018.4 L1405.9,1018.1 L1408.0,1017.7 L1410.0,1017.4 L1412.1,1017.0 L1414.2,1016.7 L1416.3,1016.3 L1418.4,1016.0 L1420.5,1015.7 L1422.6,1015.4 L1424.6,1015.2 L1426.7,1015.0 L1428.7,1015.4 L1430.8,1015.8 L1432.8,1016.3 L1434.9,1016.8 L1436.9,1017.4 L1439.0,1017.9 L1441.0,1018.5 L1443.1,1019.0 L1445.1,1019.6 L1447.2,1020.1 L1449.2,1020.7 L1451.2,1021.2 L1453.3,1021.7 L1455.3,1022.2 L1457.4,1022.7 L1459.4,1022.7 L1461.5,1022.8 L1463.6,1022.8 L1465.6,1022.8 L1467.7,1022.8 L1469.8,1022.7 L1471.8,1022.7 L1473.9,1022.7 L1476.0,1022.6 L1478.0,1022.6 L1480.0,1022.6 L1482.1,1022.6 L1484.1,1022.6 L1486.1,1022.6 L1488.1,1022.7 L1490.2,1023.1 L1492.4,1023.7 L1494.5,1024.2 L1496.6,1024.7 L1498.6,1025.3 L1500.7,1025.9 L1502.7,1026.5 L1504.8,1027.0 L1506.9,1027.6 L1508.9,1028.2 L1511.1,1028.8 L1513.0,1029.4 L1515.0,1030.0 L1517.0,1030.6 L1519.0,1031.2 L1521.0,1031.9 L1523.0,1032.5 L1525.0,1033.1 L1527.0,1033.7 L1529.1,1034.3 L1531.1,1034.9 L1533.1,1035.5 L1535.1,1036.0 L1537.1,1036.5 L1539.3,1036.3 L1541.4,1036.2 L1543.5,1036.0 L1545.6,1035.7 L1547.7,1035.5 L1549.8,1035.2 L1551.9,1035.0 L1554.0,1034.7 L1556.2,1034.4 L1558.3,1034.1 L1560.5,1033.9 L1562.6,1033.6 L1564.8,1033.4 L1566.8,1033.3 L1568.8,1033.2 L1570.9,1033.0 L1573.0,1032.9 L1575.1,1032.8 L1577.2,1032.7 L1579.3,1032.6 L1581.4,1032.5 L1583.5,1032.4 L1585.5,1032.3 L1587.6,1032.2 L1589.6,1032.1 L1591.6,1032.0 L1593.5,1031.9 L1595.4,1031.9 L1597.9,1032.0 L1600.3,1032.2 L1602.6,1032.5 L1604.8,1032.7 L1606.9,1033.0 L1608.9,1033.2 L1610.8,1033.4"/>
<path class="c" stroke="#b3d99b" stroke-width="10.5" d="M227.1,1001.7 L229.2,1002.0 L231.5,1002.3 L233.9,1002.6 L236.3,1002.9 L238.4,1003.2 L240.6,1003.5 L242.7,1003.7 L244.9,1003.9 L247.0,1004.0 L248.9,1003.1 L250.8,1002.0 L252.7,1000.9 L254.5,999.7 L256.2,998.7 L257.7,996.3 L259.3,994.4 L261.2,995.2 L263.2,996.2 L265.3,997.3 L267.5,998.3 L269.6,999.3 L271.6,1000.2 L273.5,999.4 L275.4,998.3 L277.3,997.2 L279.2,996.3 L281.3,997.2 L283.5,998.3 L285.7,999.4 L287.8,1000.5 L290.0,1001.4 L292.3,1000.9 L294.6,1000.1 L296.8,999.3 L299.2,998.7 L301.3,998.9 L303.4,999.2 L305.6,999.5 L307.8,999.8 L309.9,1000.2 L312.2,1000.9 L314.6,1001.6 L316.8,1002.2 L319.1,1002.6 L320.7,1001.1 L322.2,999.3 L323.7,997.5 L325.2,995.8 L326.8,994.4 L328.6,995.5 L330.4,997.0 L332.3,998.6 L334.1,1000.1 L336.0,1001.4 L338.3,1001.0 L340.6,1000.4 L342.9,999.6 L345.2,998.7 L346.5,997.0 L347.8,995.2 L349.0,993.3 L350.3,991.5 L351.6,989.8 L352.9,988.2 L355.1,988.7 L357.4,989.5 L359.7,990.3 L362.1,991.0 L364.3,990.4 L366.6,989.6 L368.9,988.8 L371.3,988.2 L373.4,988.8 L375.5,989.5 L377.7,990.3 L379.8,991.0 L382.0,991.7 L384.2,992.2 L386.3,992.7 L388.5,993.1 L390.6,993.5 L392.7,993.7 L395.1,992.9 L397.3,992.0 L399.6,991.0 L401.9,990.2 L404.1,990.3 L406.2,990.4 L408.4,990.6 L410.6,990.8 L412.7,991.0 L415.0,991.6 L417.3,992.4 L419.6,993.1 L421.9,993.7 L424.5,994.0 L427.0,994.3 L429.6,994.4 L431.5,993.4 L433.4,992.2 L435.3,991.1 L437.2,990.2 L439.1,991.0 L441.0,992.0 L442.9,992.9 L444.9,993.7 L447.2,993.1 L449.5,992.3 L451.8,991.5 L454.1,990.7 L456.4,990.0 L458.7,989.4 L461.0,988.6 L463.3,987.6 L464.5,985.9 L465.7,984.0 L466.9,982.1 L468.0,980.1 L469.2,978.1 L470.4,976.2 L471.5,974.5 L472.5,972.9 L473.1,974.6 L474.0,977.2 L475.7,978.0 L477.5,978.9 L479.4,979.8 L481.4,980.7 L483.4,981.6 L485.4,982.4 L487.4,983.2 L489.3,983.8 L491.3,983.3 L493.2,982.6 L495.1,981.8 L497.0,981.0 L498.9,980.2 L500.8,979.4 L502.8,978.8 L504.7,978.3 L506.4,979.5 L508.1,980.8 L509.8,982.2 L511.5,983.7 L513.3,985.3 L515.0,986.7 L516.7,988.1 L518.4,989.4 L520.0,990.5 L521.6,989.5 L523.1,988.3 L524.6,986.9 L526.2,985.5 L527.7,984.0 L529.2,982.6 L530.7,981.3 L532.3,980.2 L534.4,980.4 L536.6,980.9 L538.8,981.4 L540.9,982.0 L543.2,982.5 L545.4,983.0 L547.6,983.3 L549.6,982.7 L551.7,982.0 L553.7,981.1 L555.8,980.3 L557.9,979.4 L559.9,978.6 L562.0,977.8 L564.0,977.1 L566.0,976.5 L568.0,977.2 L569.9,978.0 L571.9,978.9 L573.8,979.9 L575.7,980.8 L577.6,981.8 L579.5,982.8 L581.4,983.6 L583.6,984.2 L585.8,984.8 L588.0,985.4 L590.1,985.9 L592.3,986.4 L594.5,986.8 L596.7,987.2 L598.6,986.7 L600.6,986.1 L602.5,985.5 L604.4,984.9 L606.3,984.2 L608.2,983.5 L610.1,982.9 L612.1,982.3 L614.2,981.9 L616.4,981.4 L618.6,980.9 L620.8,980.5 L623.0,980.1 L625.2,979.8 L627.4,979.6 L629.1,980.6 L630.8,981.7 L632.5,982.9 L634.2,984.1 L635.9,985.3 L637.6,986.6 L639.3,987.7 L641.0,988.8 L642.7,989.7 L644.7,989.3 L646.6,988.7 L648.5,988.1 L650.4,987.4 L652.3,986.6 L654.2,985.8 L656.2,984.9 L658.1,984.1 L659.6,982.8 L661.2,981.4 L662.7,979.9 L664.3,978.4 L665.8,976.9 L667.3,975.4 L668.9,974.0 L670.4,972.7 L671.9,971.5 L673.4,970.5 L674.7,971.7 L675.9,973.2 L677.2,974.8 L678.4,976.6 L679.6,978.3 L680.9,980.1 L682.1,981.9 L683.3,983.5 L684.5,985.0 L685.7,986.3 L687.3,985.3 L688.8,984.0 L690.3,982.5 L691.9,980.9 L693.4,979.3 L694.9,977.6 L696.4,976.0 L697.6,974.4 L698.8,972.6 L700.0,970.8 L701.2,969.0 L702.4,967.3 L703.5,965.6 L704.6,963.9 L705.6,962.4 L707.7,925.0 L708.5,840.0 L709.9,700.0 L711.2,575.0 L712.5,498.0 L713.6,422.0 L715.8,231.5 L718.9,138.0 L721.5,90.0 L723.6,62.0 L726.6,43.1 L728.7,43.7 L731.0,44.4 L733.4,45.0 L735.8,44.9 L738.2,44.6 L740.6,44.5 L742.9,44.4 L744.8,45.6 L746.5,47.1 L748.3,48.5 L750.3,49.6 L752.2,50.7 L754.3,51.7 L756.5,52.6 L758.4,52.4 L760.5,52.1 L762.6,51.8 L764.7,51.4 L766.7,50.9 L768.7,50.4 L770.4,49.0 L772.1,47.3 L773.7,45.6 L775.3,44.1 L776.8,43.1 L778.2,44.6 L779.5,46.6 L780.9,48.8 L782.2,50.9 L783.6,52.6 L785.9,52.2 L788.3,51.5 L790.7,50.7 L793.1,49.9 L795.0,49.1 L796.9,48.3 L798.8,47.6 L800.7,46.9 L802.6,46.3 L805.0,46.8 L807.4,47.5 L809.7,48.2 L812.1,49.0 L814.0,50.0 L815.9,51.1 L817.7,52.2 L819.6,53.2 L821.6,53.9 L823.6,53.3 L825.7,52.5 L827.8,51.6 L829.8,50.7 L831.9,49.9 L833.8,49.3 L835.9,50.1 L837.9,51.2 L839.8,52.3 L842.0,53.1 L843.8,52.7 L845.7,52.2 L847.7,51.6 L849.7,51.0 L851.7,50.3 L853.6,49.8 L855.5,49.3 L857.8,49.4 L860.0,49.6 L862.1,49.8 L864.2,50.1 L866.4,50.4 L868.6,50.7 L870.7,51.1 L872.9,51.5 L875.0,51.8 L877.2,52.0 L879.3,51.5 L881.4,51.0 L883.5,50.4 L885.5,49.7 L887.5,49.1 L889.5,48.5 L891.7,47.7 L893.7,47.0 L896.2,46.3 L898.3,46.1 L900.4,45.9 L902.6,45.7 L904.9,45.5 L907.2,45.3 L909.5,45.1 L911.7,45.0 L913.9,45.0 L916.1,45.8 L918.2,46.7 L920.2,47.8 L922.2,48.8 L924.2,49.7 L926.1,50.4 L928.2,49.3 L930.3,47.7 L932.2,46.2 L934.2,45.0 L936.3,45.5 L938.3,46.4 L940.3,47.3 L942.4,48.0 L944.2,47.2 L946.2,46.2 L948.1,45.2 L950.0,44.3 L951.9,43.9 L953.1,45.3 L954.2,47.1 L955.4,49.0 L956.5,51.0 L957.7,52.9 L958.8,54.7 L960.0,56.1 L961.9,55.4 L963.7,54.2 L965.6,52.9 L967.6,51.5 L969.5,50.4 L971.6,50.3 L973.8,50.4 L976.0,50.5 L978.2,50.6 L980.4,50.4 L982.1,49.2 L983.8,47.9 L985.4,46.4 L987.2,44.9 L988.9,43.6 L990.7,42.5 L992.6,41.7 L994.0,42.7 L995.4,44.0 L996.9,45.3 L998.4,46.8 L1000.0,48.3 L1001.5,49.8 L1003.0,51.4 L1004.5,52.9 L1006.0,54.4 L1007.5,55.7 L1008.9,56.9 L1010.2,58.0 L1012.1,56.9 L1013.7,55.3 L1015.3,53.4 L1016.8,51.5 L1018.4,49.9 L1020.4,49.3 L1022.4,48.9 L1024.5,48.6 L1026.5,48.5 L1028.5,49.3 L1030.5,50.2 L1032.5,51.1 L1034.6,51.8 L1036.8,51.0 L1039.0,50.0 L1041.2,49.0 L1043.4,48.0 L1045.5,47.1 L1047.6,47.4 L1049.6,47.8 L1051.6,48.3 L1053.6,48.5 L1055.5,47.5 L1057.3,46.2 L1059.2,44.8 L1061.2,43.7 L1063.1,43.1 L1064.4,44.3 L1065.8,45.8 L1067.2,47.4 L1068.5,49.1 L1069.9,50.9 L1071.3,52.6 L1072.7,54.2 L1074.0,55.5 L1075.3,56.6 L1076.8,55.5 L1078.1,53.9 L1079.5,52.1 L1080.8,50.2 L1082.2,48.3 L1083.5,46.5 L1084.8,45.0 L1087.2,44.6 L1089.6,44.6 L1092.0,44.7 L1094.3,45.0 L1096.5,45.9 L1098.6,47.0 L1100.7,48.1 L1102.5,49.0 L1110.9,60.0 L1114.7,85.0 L1117.7,138.0 L1120.7,231.5 L1123.1,422.0 L1124.0,498.0 L1126.7,600.0 L1128.3,740.0 L1129.7,880.0 L1130.3,930.0 L1133.0,962.8 L1134.2,964.6 L1135.4,966.6 L1136.8,968.6 L1138.3,970.5 L1140.3,971.3 L1142.3,972.0 L1144.3,972.7 L1146.4,973.4 L1148.5,974.2 L1150.6,975.1 L1152.1,976.4 L1153.6,977.7 L1155.2,979.1 L1156.7,980.5 L1158.2,981.9 L1159.8,983.3 L1161.3,984.7 L1162.9,986.0 L1164.4,987.4 L1166.3,988.6 L1168.2,989.7 L1170.1,990.9 L1172.0,992.0 L1173.9,993.1 L1175.8,994.3 L1177.8,995.4 L1179.8,996.6 L1181.5,997.6 L1183.3,998.6 L1185.1,999.6 L1186.9,1000.6 L1188.7,1001.6 L1190.5,1002.6 L1192.3,1003.6 L1194.2,1004.6 L1196.0,1005.6 L1197.9,1006.5 L1199.7,1007.3 L1201.8,1007.4 L1203.9,1007.5 L1206.0,1007.6 L1208.1,1007.6 L1210.2,1007.6 L1212.4,1007.6 L1214.5,1007.6 L1216.6,1007.5 L1218.7,1007.5 L1220.7,1007.4 L1222.7,1007.3 L1224.7,1006.6 L1226.7,1005.9 L1228.6,1005.1 L1230.5,1004.3 L1232.4,1003.5 L1234.3,1002.7 L1236.2,1001.9 L1238.1,1001.2 L1240.2,1000.7 L1242.4,1000.1 L1244.6,999.6 L1246.8,999.1 L1249.0,998.7 L1251.2,998.3 L1253.4,998.1 L1255.1,999.1 L1256.8,1000.3 L1258.4,1001.5 L1260.1,1002.7 L1261.8,1004.0 L1263.5,1005.3 L1265.2,1006.5 L1266.9,1007.7 L1268.7,1008.9 L1270.7,1009.4 L1272.8,1009.8 L1274.8,1010.3 L1276.9,1010.8 L1279.0,1011.3 L1281.2,1011.7 L1283.3,1012.1 L1285.4,1012.5 L1287.5,1012.8 L1289.6,1013.2 L1291.7,1013.5 L1293.8,1013.0 L1295.9,1012.5 L1298.0,1011.9 L1300.1,1011.3 L1302.2,1010.6 L1304.3,1010.0 L1306.4,1009.3 L1308.5,1008.7 L1310.6,1008.2 L1312.7,1007.7 L1314.8,1007.3 L1316.7,1007.9 L1318.6,1008.6 L1320.6,1009.4 L1322.5,1010.2 L1324.5,1011.0 L1326.5,1011.9 L1328.4,1012.7 L1330.3,1013.6 L1332.2,1014.4 L1334.1,1015.1 L1336.0,1015.9 L1337.8,1016.5 L1339.9,1016.2 L1341.9,1015.7 L1343.7,1015.0 L1345.6,1014.4 L1347.7,1013.9 L1350.0,1013.5 L1351.9,1013.8 L1353.8,1014.2 L1355.8,1014.6 L1357.8,1015.0 L1359.8,1015.4 L1361.9,1015.9 L1363.9,1016.4 L1366.0,1016.8 L1368.1,1017.3 L1370.2,1017.7 L1372.4,1018.1 L1374.5,1018.6 L1376.5,1018.9 L1378.6,1019.3 L1380.7,1019.6 L1382.7,1019.3 L1384.8,1018.9 L1386.8,1018.5 L1388.9,1018.1 L1390.9,1017.7 L1393.0,1017.2 L1395.0,1016.8 L1397.0,1016.3 L1399.1,1015.8 L1401.1,1015.4 L1403.2,1014.9 L1405.2,1014.5 L1407.3,1014.1 L1409.3,1013.8 L1411.4,1013.5 L1413.4,1013.8 L1415.4,1014.1 L1417.5,1014.5 L1419.5,1014.9 L1421.6,1015.3 L1423.6,1015.7 L1425.7,1016.2 L1427.7,1016.6 L1429.8,1017.1 L1431.8,1017.5 L1433.9,1018.0 L1435.9,1018.4 L1437.9,1018.8 L1440.0,1019.2 L1442.0,1019.6 L1444.1,1019.7 L1446.1,1019.9 L1448.2,1020.0 L1450.2,1020.1 L1452.3,1020.2 L1454.3,1020.3 L1456.4,1020.4 L1458.4,1020.5 L1460.4,1020.6 L1462.5,1020.7 L1464.5,1020.8 L1466.6,1020.9 L1468.6,1021.0 L1470.7,1021.0 L1472.7,1021.1 L1474.8,1021.1 L1476.8,1021.1 L1478.9,1021.1 L1480.9,1021.1 L1482.9,1021.1 L1485.0,1021.0 L1487.0,1021.0 L1489.1,1021.0 L1491.1,1020.9 L1493.2,1020.9 L1495.2,1020.9 L1497.3,1021.0 L1499.3,1021.0 L1501.4,1021.0 L1503.4,1021.1 L1505.3,1021.6 L1507.2,1022.2 L1509.2,1022.7 L1511.1,1023.3 L1513.0,1023.9 L1514.9,1024.5 L1516.8,1025.1 L1518.7,1025.8 L1520.7,1026.4 L1522.6,1027.0 L1524.5,1027.6 L1526.4,1028.2 L1528.3,1028.8 L1530.2,1029.3 L1532.2,1029.8 L1534.1,1030.3 L1536.1,1030.3 L1538.2,1030.3 L1540.2,1030.2 L1542.3,1030.1 L1544.3,1030.0 L1546.3,1029.9 L1548.4,1029.8 L1550.4,1029.6 L1552.5,1029.5 L1554.5,1029.4 L1556.6,1029.2 L1558.6,1029.1 L1560.7,1029.0 L1562.7,1028.9 L1564.8,1028.8 L1566.8,1028.9 L1568.9,1029.0 L1571.0,1029.0 L1573.1,1029.1 L1575.2,1029.2 L1577.2,1029.3 L1579.3,1029.5 L1581.4,1029.6 L1583.5,1029.7 L1585.6,1029.8 L1587.6,1029.9 L1589.6,1030.0 L1591.6,1030.1 L1593.5,1030.2 L1595.4,1030.3 L1597.9,1030.6 L1600.3,1030.8 L1602.6,1031.0 L1604.8,1031.2 L1606.9,1031.5 L1608.9,1031.7 L1610.8,1031.9"/>
<path class="c" stroke="#9fc4e8" stroke-width="10.5" d="M223.1,998.1 L224.8,997.8 L226.7,997.6 L228.6,997.3 L230.6,997.0 L232.6,996.7 L234.7,996.4 L236.8,996.0 L238.9,995.7 L241.0,995.4 L243.0,995.0 L245.1,994.6 L247.1,994.2 L249.2,993.8 L251.3,993.3 L253.4,992.9 L255.5,992.4 L257.6,992.0 L259.7,991.5 L261.8,991.1 L263.9,990.8 L266.0,990.4 L268.1,990.6 L270.2,990.9 L272.3,991.2 L274.4,991.5 L276.5,991.8 L278.6,992.1 L280.7,992.4 L282.8,992.7 L284.8,993.0 L286.9,993.3 L289.0,993.5 L291.1,993.4 L293.2,993.3 L295.3,993.2 L297.4,993.1 L299.5,992.9 L301.6,992.8 L303.7,992.6 L305.8,992.4 L307.9,992.3 L309.9,992.1 L312.0,992.0 L314.1,991.8 L316.2,991.7 L318.3,991.6 L320.4,991.5 L322.5,991.3 L324.6,991.2 L326.7,991.1 L328.8,990.9 L330.9,990.8 L333.0,990.6 L335.0,990.4 L337.1,990.1 L339.2,989.7 L341.3,989.2 L343.4,988.8 L345.5,988.4 L347.6,987.9 L349.7,987.5 L351.8,987.1 L353.9,986.6 L356.0,986.2 L358.1,985.8 L360.1,985.7 L362.2,985.5 L364.3,985.3 L366.4,985.2 L368.5,985.1 L370.6,984.9 L372.7,984.8 L374.8,984.7 L376.9,984.5 L379.0,984.4 L381.1,984.3 L383.2,984.3 L385.3,984.3 L387.3,984.3 L389.4,984.3 L391.5,984.3 L393.6,984.3 L395.7,984.3 L397.8,984.3 L399.9,984.3 L402.0,984.3 L404.1,984.3 L406.2,984.2 L408.3,984.1 L410.4,984.0 L412.4,983.8 L414.5,983.7 L416.6,983.6 L418.7,983.4 L420.8,983.3 L422.9,983.1 L425.0,983.0 L427.1,982.8 L429.2,982.4 L431.3,982.0 L433.4,981.6 L435.5,981.2 L437.6,980.8 L439.7,980.4 L441.8,980.0 L443.9,979.5 L446.0,979.1 L448.1,978.6 L450.1,978.2 L452.2,977.3 L454.4,976.5 L456.5,975.6 L458.7,974.7 L460.7,973.8 L462.8,972.9 L464.8,972.0 L466.7,971.2 L468.5,970.5 L470.0,972.0 L471.7,972.8 L473.5,973.6 L475.4,974.4 L477.4,975.3 L479.4,976.1 L481.4,976.9 L483.4,977.6 L485.3,978.2 L487.3,977.6 L489.2,976.8 L491.1,976.0 L493.0,975.1 L494.9,974.2 L496.8,973.4 L498.8,972.6 L500.7,972.0 L502.6,972.8 L504.5,973.8 L506.5,974.8 L508.4,975.9 L510.3,977.0 L512.2,978.0 L514.1,978.9 L516.0,979.7 L517.8,978.8 L519.6,977.8 L521.3,976.6 L523.0,975.3 L524.7,974.1 L526.5,973.0 L528.3,972.0 L530.4,972.3 L532.6,972.7 L534.8,973.2 L536.9,973.8 L539.2,974.3 L541.4,974.8 L543.6,975.1 L545.6,974.7 L547.7,974.2 L549.7,973.7 L551.8,973.1 L553.9,972.5 L555.9,972.0 L558.0,971.4 L560.0,970.9 L562.0,970.5 L564.3,970.7 L566.5,970.9 L568.7,971.3 L570.9,971.6 L573.0,971.8 L575.2,972.0 L577.4,972.0 L579.1,970.8 L580.8,969.5 L582.4,968.0 L584.1,966.5 L585.8,965.0 L587.5,963.6 L589.2,962.2 L591.0,960.9 L592.7,959.8 L594.7,960.3 L596.6,961.0 L598.6,961.7 L600.6,962.5 L602.6,963.4 L604.7,964.3 L606.7,965.2 L608.7,966.0 L610.7,966.8 L612.7,967.4 L614.7,967.4 L616.8,967.3 L618.9,967.2 L620.9,967.0 L623.0,966.8 L625.0,966.6 L627.0,966.4 L629.1,966.1 L631.1,965.9 L633.0,965.2 L635.0,964.4 L636.9,963.6 L638.8,962.7 L640.7,961.9 L642.6,961.1 L644.5,960.4 L646.4,959.8 L648.3,960.2 L650.3,960.8 L652.2,961.4 L654.2,962.1 L656.1,962.7 L658.0,963.4 L659.9,963.9 L661.7,964.4 L663.7,963.3 L665.5,961.9 L667.3,960.5 L669.1,959.2 L671.0,958.2 L672.9,959.1 L674.8,960.2 L676.8,961.4 L678.9,962.7 L680.9,963.9 L682.8,965.0 L684.8,965.9 L686.7,965.0 L688.6,963.9 L690.4,962.6 L692.2,961.2 L694.0,959.8 L695.1,957.9 L696.3,955.9 L697.4,953.8 L698.5,951.7 L699.6,949.7 L700.7,947.7 L701.6,946.0 L707.7,925.0 L708.5,840.0 L709.9,700.0 L711.2,575.0 L712.5,498.0 L713.6,422.0 L715.8,231.5 L718.9,138.0 L721.5,90.0 L723.6,62.0 L726.6,43.1 L728.7,43.7 L731.0,44.4 L733.4,45.0 L735.8,44.9 L738.2,44.6 L740.6,44.5 L742.9,44.4 L744.8,45.6 L746.5,47.1 L748.3,48.5 L750.3,49.6 L752.2,50.7 L754.3,51.7 L756.5,52.6 L758.4,52.4 L760.5,52.1 L762.6,51.8 L764.7,51.4 L766.7,50.9 L768.7,50.4 L770.4,49.0 L772.1,47.3 L773.7,45.6 L775.3,44.1 L776.8,43.1 L778.2,44.6 L779.5,46.6 L780.9,48.8 L782.2,50.9 L783.6,52.6 L785.9,52.2 L788.3,51.5 L790.7,50.7 L793.1,49.9 L795.0,49.1 L796.9,48.3 L798.8,47.6 L800.7,46.9 L802.6,46.3 L805.0,46.8 L807.4,47.5 L809.7,48.2 L812.1,49.0 L814.0,50.0 L815.9,51.1 L817.7,52.2 L819.6,53.2 L821.6,53.9 L823.6,53.3 L825.7,52.5 L827.8,51.6 L829.8,50.7 L831.9,49.9 L833.8,49.3 L835.9,50.1 L837.9,51.2 L839.8,52.3 L842.0,53.1 L843.8,52.7 L845.7,52.2 L847.7,51.6 L849.7,51.0 L851.7,50.3 L853.6,49.8 L855.5,49.3 L857.8,49.4 L860.0,49.6 L862.1,49.8 L864.2,50.1 L866.4,50.4 L868.6,50.7 L870.7,51.1 L872.9,51.5 L875.0,51.8 L877.2,52.0 L879.3,51.5 L881.4,51.0 L883.5,50.4 L885.5,49.7 L887.5,49.1 L889.5,48.5 L891.7,47.7 L893.7,47.0 L896.2,46.3 L898.3,46.1 L900.4,45.9 L902.6,45.7 L904.9,45.5 L907.2,45.3 L909.5,45.1 L911.7,45.0 L913.9,45.0 L916.1,45.8 L918.2,46.7 L920.2,47.8 L922.2,48.8 L924.2,49.7 L926.1,50.4 L928.2,49.3 L930.3,47.7 L932.2,46.2 L934.2,45.0 L936.3,45.5 L938.3,46.4 L940.3,47.3 L942.4,48.0 L944.2,47.2 L946.2,46.2 L948.1,45.2 L950.0,44.3 L951.9,43.9 L953.1,45.3 L954.2,47.1 L955.4,49.0 L956.5,51.0 L957.7,52.9 L958.8,54.7 L960.0,56.1 L961.9,55.4 L963.7,54.2 L965.6,52.9 L967.6,51.5 L969.5,50.4 L971.6,50.3 L973.8,50.4 L976.0,50.5 L978.2,50.6 L980.4,50.4 L982.1,49.2 L983.8,47.9 L985.4,46.4 L987.2,44.9 L988.9,43.6 L990.7,42.5 L992.6,41.7 L994.0,42.7 L995.4,44.0 L996.9,45.3 L998.4,46.8 L1000.0,48.3 L1001.5,49.8 L1003.0,51.4 L1004.5,52.9 L1006.0,54.4 L1007.5,55.7 L1008.9,56.9 L1010.2,58.0 L1012.1,56.9 L1013.7,55.3 L1015.3,53.4 L1016.8,51.5 L1018.4,49.9 L1020.4,49.3 L1022.4,48.9 L1024.5,48.6 L1026.5,48.5 L1028.5,49.3 L1030.5,50.2 L1032.5,51.1 L1034.6,51.8 L1036.8,51.0 L1039.0,50.0 L1041.2,49.0 L1043.4,48.0 L1045.5,47.1 L1047.6,47.4 L1049.6,47.8 L1051.6,48.3 L1053.6,48.5 L1055.5,47.5 L1057.3,46.2 L1059.2,44.8 L1061.2,43.7 L1063.1,43.1 L1064.4,44.3 L1065.8,45.8 L1067.2,47.4 L1068.5,49.1 L1069.9,50.9 L1071.3,52.6 L1072.7,54.2 L1074.0,55.5 L1075.3,56.6 L1076.8,55.5 L1078.1,53.9 L1079.5,52.1 L1080.8,50.2 L1082.2,48.3 L1083.5,46.5 L1084.8,45.0 L1087.2,44.6 L1089.6,44.6 L1092.0,44.7 L1094.3,45.0 L1096.5,45.9 L1098.6,47.0 L1100.7,48.1 L1102.5,49.0 L1110.9,60.0 L1114.7,85.0 L1117.7,138.0 L1120.7,231.5 L1123.1,422.0 L1124.0,498.0 L1126.7,600.0 L1128.3,740.0 L1129.7,880.0 L1130.3,930.0 L1134.5,956.7 L1135.3,958.8 L1136.1,961.2 L1137.1,963.7 L1138.3,965.9 L1140.2,966.3 L1142.2,966.7 L1144.3,967.1 L1146.4,967.4 L1148.5,967.7 L1150.7,968.0 L1152.8,968.3 L1154.8,968.6 L1156.8,969.0 L1159.2,969.7 L1161.4,970.3 L1163.6,971.1 L1166.0,972.0 L1167.6,973.2 L1169.2,974.4 L1170.9,975.6 L1172.6,976.9 L1174.3,978.2 L1176.1,979.5 L1177.8,980.8 L1179.5,982.0 L1181.2,983.2 L1182.8,984.3 L1184.9,984.5 L1187.0,984.5 L1188.9,984.4 L1190.9,984.3 L1193.0,984.2 L1195.1,984.3 L1197.1,984.9 L1199.1,985.6 L1201.1,986.3 L1203.1,987.1 L1205.2,987.8 L1207.2,988.6 L1209.3,989.3 L1211.4,989.9 L1213.5,990.4 L1215.6,990.1 L1217.8,989.7 L1220.0,989.2 L1222.2,988.7 L1224.4,988.2 L1226.6,987.7 L1228.7,987.2 L1230.9,986.7 L1233.0,986.2 L1235.0,985.8 L1237.2,986.0 L1239.3,986.2 L1241.2,986.4 L1243.2,986.7 L1245.2,987.0 L1247.3,987.4 L1249.1,988.3 L1251.0,989.2 L1252.9,990.2 L1254.8,991.2 L1256.7,992.2 L1258.6,993.2 L1260.6,994.1 L1262.6,995.0 L1264.7,995.5 L1266.8,996.0 L1269.0,996.5 L1271.1,996.9 L1273.3,997.3 L1275.5,997.8 L1277.7,998.2 L1279.9,998.7 L1282.0,999.1 L1284.1,999.7 L1286.1,1000.8 L1288.0,1002.0 L1290.0,1003.3 L1291.9,1004.6 L1293.7,1005.8 L1295.6,1007.0 L1297.5,1008.0 L1299.4,1008.9 L1301.1,1007.7 L1302.8,1006.5 L1304.5,1005.0 L1306.2,1003.5 L1307.9,1002.0 L1309.6,1000.5 L1311.3,999.1 L1313.0,997.7 L1314.8,996.6 L1316.8,997.0 L1318.8,997.6 L1320.9,998.3 L1323.0,999.0 L1325.1,999.8 L1327.1,1000.6 L1329.2,1001.3 L1331.2,1002.1 L1333.2,1002.7 L1335.3,1003.1 L1337.5,1003.4 L1339.6,1003.6 L1341.6,1003.9 L1343.5,1004.1 L1345.4,1004.3 L1347.5,1003.5 L1350.0,1002.7 L1351.9,1002.9 L1353.8,1003.2 L1355.9,1003.5 L1358.0,1003.8 L1360.1,1004.0 L1362.2,1004.3 L1364.4,1004.6 L1366.6,1004.9 L1368.8,1005.2 L1370.9,1005.5 L1373.0,1005.8 L1375.1,1005.9 L1377.2,1006.1 L1379.3,1006.2 L1381.4,1006.4 L1383.5,1006.5 L1385.6,1006.6 L1387.7,1006.7 L1389.7,1006.9 L1391.8,1007.0 L1393.9,1007.2 L1396.0,1007.3 L1398.1,1007.6 L1400.2,1007.8 L1402.3,1008.1 L1404.4,1008.4 L1406.5,1008.7 L1408.6,1009.0 L1410.7,1009.3 L1412.8,1009.5 L1414.8,1009.8 L1416.9,1010.1 L1419.0,1010.4 L1421.1,1010.7 L1423.2,1011.0 L1425.2,1011.2 L1427.3,1011.5 L1429.4,1011.8 L1431.4,1012.1 L1433.5,1012.4 L1435.6,1012.7 L1437.7,1012.9 L1439.9,1013.2 L1442.0,1013.5 L1444.0,1013.6 L1446.0,1013.7 L1448.0,1013.8 L1450.1,1013.9 L1452.1,1014.0 L1454.1,1014.1 L1456.2,1014.2 L1458.3,1014.3 L1460.3,1014.4 L1462.4,1014.5 L1464.5,1014.6 L1466.5,1014.7 L1468.6,1014.8 L1470.7,1014.9 L1472.7,1015.0 L1474.8,1015.2 L1476.8,1015.4 L1478.9,1015.6 L1480.9,1015.7 L1482.9,1015.9 L1485.0,1016.1 L1487.0,1016.3 L1489.1,1016.5 L1491.1,1016.7 L1493.2,1016.9 L1495.2,1017.1 L1497.3,1017.3 L1499.3,1017.6 L1501.4,1017.8 L1503.4,1018.1 L1505.4,1018.5 L1507.5,1019.0 L1509.5,1019.5 L1511.6,1020.1 L1513.6,1020.6 L1515.7,1021.1 L1517.7,1021.7 L1519.8,1022.2 L1521.8,1022.8 L1523.9,1023.3 L1525.9,1023.8 L1527.9,1024.3 L1530.0,1024.8 L1532.0,1025.3 L1534.1,1025.7 L1536.1,1025.8 L1538.2,1025.8 L1540.3,1025.9 L1542.3,1025.9 L1544.4,1025.9 L1546.5,1025.9 L1548.5,1025.9 L1550.6,1025.8 L1552.7,1025.8 L1554.7,1025.8 L1556.7,1025.8 L1558.8,1025.7 L1560.8,1025.7 L1562.8,1025.7 L1564.8,1025.7 L1566.9,1025.9 L1569.1,1026.0 L1571.2,1026.1 L1573.3,1026.3 L1575.4,1026.4 L1577.4,1026.6 L1579.5,1026.8 L1581.6,1026.9 L1583.6,1027.0 L1585.7,1027.2 L1587.8,1027.3 L1589.9,1027.2 L1592.0,1027.0 L1594.2,1026.9 L1596.4,1026.8 L1598.6,1026.6 L1600.8,1026.4 L1602.9,1026.3 L1605.0,1026.1 L1607.0,1026.0 L1608.9,1025.9 L1610.8,1025.7"/>
<path class="d" stroke="#f26529" stroke-width="10" d="M230.7,998.0 L233.9,997.1 L238.0,995.9 L239.6,993.4 L244.5,993.4 M264.5,979.6 L265.8,976.2 L273.4,977.0 L276.1,973.3 L277.4,970.3 L281.3,965.8 M296.7,971.9 L300.9,970.5 L303.3,966.8 L303.0,961.0 L306.8,961.6 L308.2,954.9 L312.0,955.0 M333.5,945.8 L337.6,942.3 L340.2,938.8 L341.3,934.8 L344.3,931.3 L347.0,931.3 L348.8,925.9 M367.3,900.5 L369.6,896.5 L372.1,894.5 L374.1,891.5 L376.5,889.1 L379.6,886.3 L382.9,883.9 L384.2,880.5 M401.1,865.8 L405.3,860.1 L403.9,859.7 L407.0,852.4 L407.8,850.4 L406.9,847.7 L409.0,842.3 L407.3,838.1 M422.6,824.3 L425.7,820.1 L429.7,821.5 L433.2,818.0 L434.9,813.7 L439.5,812.1 M457.9,802.9 L461.1,802.5 L461.7,798.2 L464.9,794.3 L469.4,789.2 L469.2,784.5 L470.2,782.9 M496.2,764.5 L499.7,761.3 L502.5,760.0 L507.9,759.5 L511.6,758.4 M1132.4,615.8 L1136.4,619.2 L1138.2,623.4 L1138.6,627.1 L1142.3,630.1 L1144.3,634.1 L1147.0,637.3 M1165.4,660.3 L1170.5,661.9 L1172.6,661.6 L1175.4,663.2 L1181.9,662.0 L1183.8,663.4 M1200.7,683.3 L1203.0,682.1 L1207.6,678.2 L1210.0,674.1 L1213.0,673.8 L1217.5,677.3 L1220.5,680.0 L1224.8,683.5 L1228.3,684.9 M1245.2,698.7 L1248.4,702.2 L1248.8,706.6 L1252.2,710.2 L1254.4,714.0 M1280.5,724.8 L1284.0,726.6 L1288.1,729.6 L1291.2,732.4 M1312.7,741.6 L1316.5,745.7 L1319.9,747.8 L1321.0,751.8 L1326.1,752.6 L1327.9,753.8 L1331.1,757.0 M1341.0,773.7 L1343.7,775.3 L1348.9,774.8 L1353.2,776.7 M1377.8,798.2 L1380.3,803.3 L1382.8,804.3 L1382.0,811.7 L1383.1,812.6 L1388.6,813.3 L1392.4,816.5 L1393.1,819.7 M1408.4,830.4 L1411.8,832.0 L1410.2,839.0 L1411.4,841.3 L1417.5,842.4 L1414.8,848.0 L1419.8,850.6 L1420.7,855.0 M1443.7,875.8 L1446.1,880.7 L1447.8,881.8 L1446.7,889.4 L1447.6,892.2 L1449.8,897.4 L1454.4,899.6 L1454.4,903.4 M1469.2,923.8 L1470.8,927.7 L1475.0,928.4 L1476.1,930.3 L1479.1,935.1 L1480.9,937.9 L1486.5,941.8 L1490.6,940.7 M1506.0,968.3 L1508.5,974.5 L1509.9,972.4 L1513.9,978.1 L1519.3,973.8 L1522.0,975.2 L1525.9,974.4 M1544.3,994.4 L1546.8,996.3 L1553.7,995.8 L1556.2,998.6 L1557.4,998.0 L1563.2,1001.7 L1567.6,1000.3 L1568.9,1003.6 M1584.2,1009.7 L1589.0,1006.1 L1584.9,1000.4 L1591.4,1002.6 L1592.7,994.0 L1593.8,998.8 L1597.4,1003.0 L1600.7,1001.1 L1601.1,1008.2"/>
<path class="d" stroke="#5bba47" stroke-width="10" d="M229.2,992.0 L232.4,991.1 L236.5,989.9 L238.1,987.4 L243.0,987.4 M263.0,973.6 L264.3,970.2 L271.9,971.0 L274.6,967.3 L275.9,964.3 L279.8,959.8 M295.2,965.9 L299.4,964.5 L301.8,960.8 L301.5,955.0 L305.3,955.6 L306.7,948.9 L310.5,949.0 M332.0,939.8 L336.1,936.3 L338.7,932.8 L339.8,928.8 L342.8,925.3 L345.5,925.3 L347.3,919.9 M366.8,896.5 L369.1,892.5 L371.6,890.5 L373.6,887.5 L376.0,885.1 L379.1,882.3 L382.4,879.9 L383.7,876.5 M403.6,864.3 L407.8,858.6 L406.4,858.2 L409.5,850.9 L410.3,848.9 L409.4,846.2 L411.5,840.8 L409.8,836.6 M425.1,822.8 L428.2,818.6 L432.2,820.0 L435.7,816.5 L437.4,812.2 L442.0,810.6 M460.4,801.4 L463.6,801.0 L464.2,796.7 L467.4,792.8 L471.9,787.7 L471.7,783.0 L472.7,781.4 M498.7,763.0 L502.2,759.8 L505.0,758.5 L510.4,758.0 L514.1,756.9 M1131.4,618.3 L1135.4,621.7 L1137.2,625.9 L1137.6,629.6 L1141.3,632.6 L1143.3,636.6 L1146.0,639.8 M1164.4,662.8 L1169.5,664.4 L1171.6,664.1 L1174.4,665.7 L1180.9,664.5 L1182.8,665.9 M1199.7,685.8 L1202.0,684.6 L1206.6,680.7 L1209.0,676.6 L1212.0,676.3 L1216.5,679.8 L1219.5,682.5 L1223.8,686.0 L1227.3,687.4 M1244.2,701.2 L1247.4,704.7 L1247.8,709.1 L1251.2,712.7 L1253.4,716.5 M1279.5,727.3 L1283.0,729.1 L1287.1,732.1 L1290.2,734.9 M1311.7,744.1 L1315.5,748.2 L1318.9,750.3 L1320.0,754.3 L1325.1,755.1 L1326.9,756.3 L1330.1,759.5 M1343.0,772.2 L1345.7,773.8 L1350.9,773.3 L1355.2,775.2 M1379.8,796.7 L1382.3,801.8 L1384.8,802.8 L1384.0,810.2 L1385.1,811.1 L1390.6,811.8 L1394.4,815.0 L1395.1,818.2 M1410.4,828.9 L1413.8,830.5 L1412.2,837.5 L1413.4,839.8 L1419.5,840.9 L1416.8,846.5 L1421.8,849.1 L1422.7,853.5 M1444.2,868.8 L1446.6,873.7 L1448.3,874.8 L1447.2,882.4 L1448.1,885.2 L1450.3,890.4 L1454.9,892.6 L1454.9,896.4 M1469.7,916.8 L1471.3,920.7 L1475.5,921.4 L1476.6,923.3 L1479.6,928.1 L1481.4,930.9 L1487.0,934.8 L1491.1,933.7 M1506.5,961.3 L1509.0,967.5 L1510.4,965.4 L1514.4,971.1 L1519.8,966.8 L1522.5,968.2 L1526.4,967.4 M1544.8,987.4 L1547.3,989.3 L1554.2,988.8 L1556.7,991.6 L1557.9,991.0 L1563.7,994.7 L1568.1,993.3 L1569.4,996.6 M1584.7,1002.7 L1589.5,999.1 L1585.4,993.4 L1591.9,995.6 L1593.2,987.0 L1594.3,991.8 L1597.9,996.0 L1601.2,994.1 L1601.6,1001.2"/>
<path class="d" stroke="#2090d2" stroke-width="10" d="M229.2,978.2 L234.3,975.5 L236.8,973.4 L240.1,972.1 L244.5,969.0 M263.0,950.6 L267.5,947.7 L267.9,943.8 L272.5,940.0 L276.0,941.2 L279.8,936.8 M296.7,942.9 L302.9,941.2 L301.8,937.9 L301.7,930.0 L307.4,929.1 M333.1,917.9 L335.1,915.0 L338.0,911.9 L341.9,909.6 L344.6,907.3 L347.5,904.6 L349.9,902.3 L353.0,899.5 M369.9,871.9 L376.3,874.2 L377.8,871.3 L376.4,865.8 L378.6,859.4 L383.3,856.8 L385.2,855.0 M407.5,838.2 L410.9,833.7 L407.6,830.0 L412.9,826.3 L414.4,822.5 L413.6,817.5 M435.8,810.6 L438.0,806.3 L438.4,803.0 L440.7,797.9 L442.9,795.5 L443.3,791.1 L445.8,786.8 M465.0,780.7 L468.2,778.4 L471.2,774.7 L474.4,770.7 L478.9,769.8 L483.1,769.0 L488.0,769.1 M498.7,763.0 L503.3,760.4 L506.7,761.0 L510.6,759.8 L515.2,756.3 L518.7,755.3 M1133.0,633.7 L1138.3,636.7 L1138.5,638.1 L1138.2,643.4 L1142.2,644.0 L1146.7,647.8 L1148.3,651.5 L1149.1,655.2 M1175.2,669.0 L1178.9,671.9 L1180.7,673.6 L1181.5,676.5 L1185.6,676.3 L1189.0,677.1 L1190.5,671.7 L1193.6,670.5 M1210.4,681.2 L1216.7,683.5 L1214.9,689.2 L1218.6,687.6 L1227.0,692.1 L1226.8,694.9 L1228.6,698.5 L1226.7,700.7 L1229.6,704.3 M1253.4,718.1 L1256.5,719.6 L1261.9,719.3 L1266.5,721.9 L1269.0,718.1 L1270.5,716.8 L1274.9,715.0 M1291.7,730.3 L1293.1,733.6 L1295.8,738.1 L1295.8,742.3 L1298.8,746.7 L1302.8,749.0 L1307.1,747.2 M1318.4,744.5 L1320.1,746.7 L1325.1,746.4 L1326.5,755.1 L1329.6,758.6 L1334.9,755.1 L1338.5,754.8 L1343.0,752.2 M1356.8,772.2 L1361.4,774.7 L1357.8,781.6 L1358.6,784.1 L1361.6,789.2 L1366.4,788.0 L1368.1,794.9 L1372.1,793.6 M1382.8,810.5 L1387.4,813.7 L1391.2,814.0 L1394.9,814.6 L1397.3,813.6 L1401.9,809.2 L1404.9,807.9 L1405.8,804.4 M1415.0,835.0 L1417.3,839.0 L1421.6,841.7 L1425.4,843.5 L1428.2,846.1 L1428.9,849.8 L1431.5,854.1 L1435.0,856.5 M1451.9,874.9 L1451.2,878.8 L1457.9,879.8 L1456.2,884.9 L1460.5,886.5 L1463.0,888.9 L1466.3,889.6 L1469.1,887.6 L1473.3,885.7 M1488.1,909.1 L1490.1,914.5 L1491.5,917.1 L1495.1,919.9 L1499.7,920.3 L1501.9,925.6 L1505.5,927.2 L1508.0,927.6 M1523.3,938.3 L1526.7,941.0 L1528.5,944.3 L1531.0,948.9 L1532.8,952.0 L1535.0,957.4 L1537.4,958.4 L1540.2,962.8 M1563.2,967.4 L1565.3,969.8 L1569.2,972.0 L1573.0,973.4 L1575.7,974.5 L1578.1,977.2 L1581.6,979.7 M1595.4,973.6 L1598.4,973.9 L1603.7,977.2 L1604.4,982.0 L1606.6,986.4 L1609.2,987.4"/>
<path class="c" stroke="#f26529" stroke-width="10.5" d="M223.1,1002.7 L224.8,1002.6 L226.7,1002.5 L228.7,1002.4 L230.7,1002.3 L232.8,1002.2 L234.9,1002.0 L237.0,1001.9 L239.1,1001.7 L241.1,1001.5 L243.0,1001.2 L244.7,1000.0 L246.3,998.7 L247.8,997.3 L249.3,995.9 L250.8,994.5 L252.3,993.1 L253.8,991.7 L255.3,990.4 L257.1,989.3 L258.9,988.2 L260.7,987.1 L262.5,986.0 L264.2,985.1 L266.0,984.3 L267.8,985.1 L269.6,986.0 L271.4,987.1 L273.2,988.2 L275.0,989.3 L276.8,990.4 L278.3,992.0 L279.8,993.6 L281.2,995.2 L282.7,996.8 L284.3,998.3 L286.0,999.7 L287.9,999.5 L289.9,999.2 L292.0,998.8 L294.1,998.5 L296.3,998.1 L298.4,997.6 L300.4,997.2 L302.4,996.9 L304.4,996.6 L307.1,997.1 L309.5,997.8 L312.0,998.1 L313.9,997.1 L315.9,996.0 L317.9,994.8 L319.9,993.6 L321.9,992.4 L323.9,991.3 L325.8,990.4 L327.8,991.5 L329.6,992.8 L331.4,994.3 L333.2,995.6 L335.0,996.6 L336.6,995.3 L338.1,993.8 L339.6,992.1 L341.2,990.4 L342.7,988.8 L344.3,987.2 L345.8,985.8 L348.1,986.2 L350.4,986.8 L352.6,987.6 L355.0,988.1 L357.0,987.8 L359.0,987.4 L361.1,987.0 L363.2,986.6 L365.2,986.2 L367.3,985.8 L369.4,986.1 L371.6,986.4 L373.8,986.7 L375.9,987.1 L378.0,987.4 L380.3,987.8 L382.6,988.2 L384.9,988.6 L387.2,988.9 L389.5,988.2 L391.7,987.4 L394.0,986.6 L396.4,985.8 L398.4,985.8 L400.4,985.7 L402.5,985.7 L404.6,985.7 L406.6,985.8 L408.7,985.8 L410.8,986.6 L413.0,987.4 L415.1,988.3 L417.2,989.0 L419.4,989.7 L421.4,989.2 L423.5,988.5 L425.6,987.8 L427.6,987.1 L429.7,986.4 L431.7,985.8 L434.0,986.2 L436.2,986.7 L438.5,987.2 L440.9,987.4 L442.7,986.6 L444.6,985.7 L446.6,984.7 L448.5,983.8 L450.5,982.8 L452.5,981.8 L454.4,980.7 L456.2,979.7 L457.8,978.2 L459.4,976.6 L461.0,975.0 L462.5,973.3 L464.0,971.8 L465.5,970.3 L467.0,969.0 L469.0,969.4 L470.9,970.2 L472.7,971.2 L474.6,972.0 L476.5,972.8 L478.3,973.6 L480.1,974.4 L482.3,975.1 L484.2,975.1 L486.2,975.1 L488.2,975.0 L490.3,975.0 L492.4,974.9 L494.5,974.8 L496.6,974.7 L498.7,974.5 L500.7,974.3 L502.6,973.4 L504.6,972.4 L506.5,971.4 L508.5,970.3 L510.4,969.2 L512.3,968.1 L514.1,967.0 L516.0,965.9 L517.7,964.5 L519.3,963.1 L521.0,961.5 L522.6,960.0 L524.3,958.6 L525.9,957.3 L527.5,956.1 L529.1,955.2 L530.1,956.7 L531.1,958.4 L532.1,960.3 L533.0,962.3 L534.0,964.3 L534.9,966.3 L535.9,968.3 L536.9,970.2 L538.0,972.0 L539.0,973.6 L541.0,973.1 L543.1,972.5 L545.2,971.7 L547.4,970.8 L549.6,969.9 L551.7,969.0 L553.8,968.2 L555.9,967.4 L558.3,967.3 L560.6,967.4 L562.9,967.4 L565.1,967.5 L567.4,967.5 L569.7,967.4 L571.7,966.8 L573.7,966.1 L575.7,965.3 L577.7,964.6 L579.6,963.9 L581.6,963.3 L583.5,962.8 L585.1,964.0 L586.6,965.4 L588.1,966.9 L589.6,968.5 L591.1,969.9 L592.7,971.1 L594.3,972.0 L595.4,970.7 L596.5,969.1 L597.6,967.5 L598.8,965.7 L600.0,963.9 L601.1,962.1 L602.3,960.2 L603.5,958.4 L604.6,956.7 L605.8,955.0 L606.9,953.5 L608.1,952.1 L609.8,953.0 L611.6,954.2 L613.3,955.6 L615.1,957.1 L616.8,958.6 L618.6,960.1 L620.3,961.3 L622.4,961.4 L624.4,961.4 L626.5,961.3 L628.5,961.2 L630.6,961.1 L632.6,961.3 L634.1,962.5 L635.7,963.9 L637.2,965.4 L638.8,966.8 L640.3,968.3 L641.9,969.7 L643.4,971.0 L644.9,972.0 L646.4,970.9 L647.9,969.5 L649.4,968.0 L650.9,966.3 L652.4,964.6 L654.1,962.8 L655.4,961.3 L656.8,959.7 L658.2,958.0 L659.6,956.3 L661.0,954.6 L662.4,952.9 L663.8,951.2 L665.3,949.6 L666.7,948.0 L668.1,946.6 L669.4,945.2 L671.5,945.5 L673.6,946.1 L675.6,946.9 L677.7,947.7 L679.7,948.5 L681.7,949.0 L683.9,948.3 L686.1,947.4 L688.2,946.4 L690.3,945.4 L692.4,944.4 L694.4,943.0 L696.4,941.5 L698.3,940.0 L700.1,938.3 L700.8,936.4 L701.5,934.4 L702.1,932.4 L702.7,930.3 L703.3,928.2 L703.9,926.0 L704.2,924.0 L704.5,921.9 L704.8,919.8 L705.0,917.7 L705.3,915.5 L705.5,913.4 L705.8,911.4 L706.0,909.4 L706.2,907.6 L708.5,840.0 L709.9,700.0 L711.2,575.0 L712.5,498.0 L713.6,422.0 L715.8,231.5 L718.9,138.0 L721.5,90.0 L723.6,62.0 L726.6,43.1 L728.7,43.7 L731.0,44.4 L733.4,45.0 L735.8,44.9 L738.2,44.6 L740.6,44.5 L742.9,44.4 L744.8,45.6 L746.5,47.1 L748.3,48.5 L750.3,49.6 L752.2,50.7 L754.3,51.7 L756.5,52.6 L758.4,52.4 L760.5,52.1 L762.6,51.8 L764.7,51.4 L766.7,50.9 L768.7,50.4 L770.4,49.0 L772.1,47.3 L773.7,45.6 L775.3,44.1 L776.8,43.1 L778.2,44.6 L779.5,46.6 L780.9,48.8 L782.2,50.9 L783.6,52.6 L785.9,52.2 L788.3,51.5 L790.7,50.7 L793.1,49.9 L795.0,49.1 L796.9,48.3 L798.8,47.6 L800.7,46.9 L802.6,46.3 L805.0,46.8 L807.4,47.5 L809.7,48.2 L812.1,49.0 L814.0,50.0 L815.9,51.1 L817.7,52.2 L819.6,53.2 L821.6,53.9 L823.6,53.3 L825.7,52.5 L827.8,51.6 L829.8,50.7 L831.9,49.9 L833.8,49.3 L835.9,50.1 L837.9,51.2 L839.8,52.3 L842.0,53.1 L843.8,52.7 L845.7,52.2 L847.7,51.6 L849.7,51.0 L851.7,50.3 L853.6,49.8 L855.5,49.3 L857.8,49.4 L860.0,49.6 L862.1,49.8 L864.2,50.1 L866.4,50.4 L868.6,50.7 L870.7,51.1 L872.9,51.5 L875.0,51.8 L877.2,52.0 L879.3,51.5 L881.4,51.0 L883.5,50.4 L885.5,49.7 L887.5,49.1 L889.5,48.5 L891.7,47.7 L893.7,47.0 L896.2,46.3 L898.3,46.1 L900.4,45.9 L902.6,45.7 L904.9,45.5 L907.2,45.3 L909.5,45.1 L911.7,45.0 L913.9,45.0 L916.1,45.8 L918.2,46.7 L920.2,47.8 L922.2,48.8 L924.2,49.7 L926.1,50.4 L928.2,49.3 L930.3,47.7 L932.2,46.2 L934.2,45.0 L936.3,45.5 L938.3,46.4 L940.3,47.3 L942.4,48.0 L944.2,47.2 L946.2,46.2 L948.1,45.2 L950.0,44.3 L951.9,43.9 L953.1,45.3 L954.2,47.1 L955.4,49.0 L956.5,51.0 L957.7,52.9 L958.8,54.7 L960.0,56.1 L961.9,55.4 L963.7,54.2 L965.6,52.9 L967.6,51.5 L969.5,50.4 L971.6,50.3 L973.8,50.4 L976.0,50.5 L978.2,50.6 L980.4,50.4 L982.1,49.2 L983.8,47.9 L985.4,46.4 L987.2,44.9 L988.9,43.6 L990.7,42.5 L992.6,41.7 L994.0,42.7 L995.4,44.0 L996.9,45.3 L998.4,46.8 L1000.0,48.3 L1001.5,49.8 L1003.0,51.4 L1004.5,52.9 L1006.0,54.4 L1007.5,55.7 L1008.9,56.9 L1010.2,58.0 L1012.1,56.9 L1013.7,55.3 L1015.3,53.4 L1016.8,51.5 L1018.4,49.9 L1020.4,49.3 L1022.4,48.9 L1024.5,48.6 L1026.5,48.5 L1028.5,49.3 L1030.5,50.2 L1032.5,51.1 L1034.6,51.8 L1036.8,51.0 L1039.0,50.0 L1041.2,49.0 L1043.4,48.0 L1045.5,47.1 L1047.6,47.4 L1049.6,47.8 L1051.6,48.3 L1053.6,48.5 L1055.5,47.5 L1057.3,46.2 L1059.2,44.8 L1061.2,43.7 L1063.1,43.1 L1064.4,44.3 L1065.8,45.8 L1067.2,47.4 L1068.5,49.1 L1069.9,50.9 L1071.3,52.6 L1072.7,54.2 L1074.0,55.5 L1075.3,56.6 L1076.8,55.5 L1078.1,53.9 L1079.5,52.1 L1080.8,50.2 L1082.2,48.3 L1083.5,46.5 L1084.8,45.0 L1087.2,44.6 L1089.6,44.6 L1092.0,44.7 L1094.3,45.0 L1096.5,45.9 L1098.6,47.0 L1100.7,48.1 L1102.5,49.0 L1110.9,60.0 L1114.7,85.0 L1117.7,138.0 L1120.7,231.5 L1123.1,422.0 L1124.0,498.0 L1126.7,600.0 L1128.3,740.0 L1129.7,880.0 L1130.3,930.0 L1132.2,953.6 L1133.5,955.5 L1134.9,957.5 L1136.5,959.5 L1138.3,961.3 L1140.2,961.2 L1142.1,961.1 L1144.1,961.0 L1146.2,960.8 L1148.2,960.5 L1150.3,960.3 L1152.4,960.1 L1154.4,959.9 L1156.4,959.8 L1158.3,959.8 L1160.2,960.9 L1161.9,962.1 L1163.6,963.4 L1165.3,964.8 L1167.1,966.1 L1169.0,967.4 L1170.8,968.1 L1172.7,968.7 L1174.6,969.4 L1176.5,970.0 L1178.5,970.7 L1180.4,971.3 L1182.4,971.9 L1184.4,972.6 L1186.4,973.2 L1188.3,973.9 L1190.2,974.5 L1192.0,975.1 L1194.1,975.9 L1196.0,976.7 L1198.0,977.5 L1199.9,978.3 L1201.7,979.0 L1203.6,979.8 L1205.5,980.5 L1207.4,981.2 L1209.6,981.8 L1211.8,982.3 L1214.0,982.8 L1216.2,983.3 L1218.4,983.7 L1220.6,984.1 L1222.7,984.3 L1224.5,983.2 L1226.3,981.8 L1228.1,980.4 L1229.8,979.0 L1231.6,977.5 L1233.3,976.2 L1235.0,975.1 L1236.9,975.8 L1238.7,976.7 L1240.6,977.8 L1242.4,978.8 L1244.2,979.7 L1246.5,979.5 L1248.7,979.1 L1251.0,978.6 L1253.4,978.2 L1255.4,977.9 L1257.4,977.6 L1259.4,977.2 L1261.5,976.9 L1263.6,976.7 L1265.7,976.6 L1267.6,977.5 L1269.5,978.4 L1271.4,979.3 L1273.4,980.3 L1275.4,981.3 L1277.3,982.3 L1279.2,983.3 L1281.0,984.3 L1283.0,985.8 L1284.8,987.3 L1286.7,988.8 L1288.4,990.4 L1290.2,992.0 L1291.5,993.8 L1292.8,995.7 L1294.0,997.6 L1295.3,999.5 L1296.6,1001.2 L1297.9,1002.7 L1299.7,1001.9 L1301.5,1000.8 L1303.4,999.5 L1305.2,998.1 L1307.1,996.6 L1308.2,994.7 L1309.4,992.7 L1310.5,990.7 L1311.7,988.6 L1312.8,986.5 L1314.0,984.6 L1315.1,982.8 L1316.3,981.2 L1317.6,982.4 L1318.9,983.8 L1320.2,985.3 L1321.5,986.9 L1322.9,988.6 L1324.2,990.3 L1325.6,992.0 L1327.0,993.5 L1328.9,994.6 L1330.8,995.6 L1332.7,996.6 L1334.7,997.6 L1336.7,998.6 L1338.6,999.5 L1340.5,1000.4 L1342.4,1001.2 L1344.6,1001.1 L1346.9,1000.8 L1349.1,1000.4 L1351.2,1000.0 L1353.1,999.7 L1354.6,998.1 L1356.5,998.8 L1358.5,999.5 L1360.5,1000.3 L1362.7,1001.1 L1364.8,1001.9 L1366.9,1002.7 L1368.9,1003.8 L1370.9,1004.9 L1372.9,1006.0 L1375.0,1007.1 L1377.0,1008.1 L1379.1,1008.9 L1381.0,1008.2 L1382.8,1007.4 L1384.7,1006.5 L1386.6,1005.6 L1388.5,1004.6 L1390.4,1003.7 L1392.3,1002.8 L1394.2,1001.9 L1396.0,1001.2 L1398.2,1001.3 L1400.4,1001.4 L1402.6,1001.6 L1404.7,1001.9 L1406.9,1002.1 L1409.1,1002.4 L1411.4,1002.7 L1413.4,1003.2 L1415.4,1003.7 L1417.5,1004.2 L1419.5,1004.7 L1421.6,1005.2 L1423.7,1005.7 L1425.7,1006.2 L1427.8,1006.8 L1429.8,1007.3 L1431.7,1008.1 L1433.7,1008.8 L1435.6,1009.6 L1437.5,1010.4 L1439.4,1011.2 L1441.3,1012.0 L1443.2,1012.7 L1445.1,1013.5 L1447.3,1014.0 L1449.5,1014.5 L1451.7,1015.0 L1453.9,1015.4 L1456.1,1015.8 L1458.3,1016.2 L1460.4,1016.5 L1462.5,1015.9 L1464.6,1015.1 L1466.6,1014.2 L1468.6,1013.4 L1470.6,1012.6 L1472.7,1011.9 L1474.9,1012.2 L1477.0,1012.6 L1479.2,1013.1 L1481.4,1013.6 L1483.6,1014.0 L1485.9,1014.5 L1488.1,1015.0 L1490.3,1015.4 L1492.5,1015.9 L1494.7,1016.3 L1496.9,1016.7 L1499.1,1017.2 L1501.3,1017.6 L1503.4,1018.1 L1505.5,1018.6 L1507.6,1019.0 L1509.6,1019.5 L1511.6,1020.0 L1513.7,1020.6 L1515.7,1021.1 L1517.5,1022.2 L1519.3,1023.3 L1521.0,1024.5 L1522.8,1025.6 L1524.6,1026.5 L1526.4,1027.3 L1527.9,1026.1 L1529.4,1024.8 L1531.0,1023.4 L1532.5,1021.9 L1534.1,1020.4 L1535.6,1018.9 L1537.1,1017.6 L1538.7,1016.5 L1540.4,1017.3 L1542.1,1018.4 L1543.9,1019.5 L1545.6,1020.7 L1547.3,1022.0 L1549.1,1023.1 L1551.0,1024.2 L1553.0,1024.5 L1555.1,1024.8 L1557.2,1025.1 L1559.3,1025.4 L1561.4,1025.6 L1563.6,1025.7 L1565.7,1025.8 L1567.8,1025.7 L1569.5,1024.5 L1571.2,1023.2 L1572.9,1021.7 L1574.7,1020.2 L1576.4,1018.7 L1578.1,1017.2 L1579.8,1015.8 L1581.4,1014.4 L1583.1,1013.1 L1584.7,1011.9 L1586.6,1012.6 L1588.4,1013.5 L1590.1,1014.6 L1591.8,1015.8 L1593.6,1017.0 L1595.4,1018.1 L1597.3,1018.8 L1599.3,1019.6 L1601.3,1020.4 L1603.3,1021.2 L1605.3,1022.0 L1607.2,1022.8 L1609.1,1023.5 L1610.8,1024.2"/>
<path class="c" stroke="#5bba47" stroke-width="10.5" d="M223.1,1004.3 L225.2,1004.6 L227.5,1005.0 L229.9,1005.4 L232.3,1005.8 L234.4,1006.1 L236.6,1006.5 L238.7,1006.9 L240.9,1007.2 L243.0,1007.3 L244.9,1006.2 L246.8,1005.0 L248.7,1003.7 L250.5,1002.4 L252.2,1001.2 L253.7,998.7 L255.3,996.6 L257.2,997.5 L259.2,998.5 L261.3,999.6 L263.5,1000.8 L265.6,1001.8 L267.6,1002.7 L269.5,1001.9 L271.4,1000.8 L273.3,999.7 L275.2,998.9 L277.0,999.6 L278.8,1000.6 L280.6,1001.6 L282.4,1002.5 L284.2,1003.5 L286.0,1004.3 L288.3,1003.6 L290.6,1002.8 L292.8,1001.9 L295.2,1001.2 L297.3,1001.4 L299.4,1001.7 L301.6,1002.0 L303.8,1002.4 L305.9,1002.7 L308.2,1003.5 L310.6,1004.5 L312.8,1005.3 L315.1,1005.8 L316.7,1004.1 L318.2,1002.1 L319.7,1000.1 L321.2,998.2 L322.8,996.6 L324.6,997.8 L326.4,999.4 L328.3,1001.2 L330.1,1002.8 L332.0,1004.3 L334.3,1003.8 L336.6,1003.1 L338.9,1002.2 L341.2,1001.2 L342.5,999.5 L343.8,997.6 L345.0,995.7 L346.3,993.8 L347.6,992.0 L348.9,990.4 L351.1,991.0 L353.4,991.8 L355.7,992.8 L358.1,993.5 L360.3,992.8 L362.6,992.0 L364.9,991.1 L367.3,990.4 L369.4,991.1 L371.5,991.9 L373.7,992.7 L375.8,993.5 L378.0,994.3 L380.2,994.8 L382.3,995.3 L384.5,995.8 L386.6,996.2 L388.7,996.6 L391.1,995.7 L393.3,994.7 L395.6,993.7 L397.9,992.7 L400.1,992.8 L402.2,992.9 L404.4,993.1 L406.6,993.3 L408.7,993.5 L411.0,994.2 L413.3,995.0 L415.6,995.8 L417.9,996.6 L420.5,996.9 L423.0,997.2 L425.6,997.3 L427.5,996.3 L429.4,995.0 L431.3,993.8 L433.2,992.7 L435.1,993.6 L437.0,994.6 L438.9,995.7 L440.9,996.6 L443.2,996.0 L445.5,995.2 L447.8,994.3 L450.1,993.5 L452.4,992.8 L454.7,992.2 L457.0,991.5 L459.3,990.4 L460.5,988.7 L461.6,986.7 L462.8,984.6 L464.0,982.5 L465.1,980.5 L466.3,978.5 L467.4,976.7 L468.5,975.1 L469.8,976.5 L471.0,978.3 L472.2,980.3 L473.4,982.4 L474.6,984.3 L476.1,986.1 L477.6,987.9 L479.1,989.7 L480.6,991.3 L482.3,992.7 L484.2,992.2 L486.3,991.5 L488.4,990.7 L490.5,989.9 L492.5,989.0 L494.5,988.1 L496.6,986.9 L498.6,985.4 L500.5,984.1 L502.5,982.9 L504.5,982.0 L505.9,983.5 L507.3,985.2 L508.8,987.1 L510.2,989.0 L511.7,991.0 L513.1,992.8 L514.6,994.4 L516.0,995.8 L517.5,994.7 L518.9,993.3 L520.4,991.8 L521.8,990.2 L523.3,988.5 L524.8,986.9 L526.2,985.3 L527.6,983.9 L529.1,982.8 L530.5,984.1 L532.0,985.7 L533.4,987.5 L534.8,989.4 L536.2,991.2 L537.6,992.9 L539.0,994.3 L540.8,993.4 L542.5,992.2 L544.3,990.9 L546.1,989.5 L547.8,988.1 L549.6,986.9 L551.3,985.8 L553.2,986.6 L555.0,987.6 L556.9,988.6 L558.7,989.7 L560.5,990.4 L562.3,989.4 L564.2,988.1 L566.0,986.7 L567.8,985.4 L569.7,984.3 L571.8,985.0 L574.0,985.9 L576.1,986.9 L578.3,987.9 L580.4,988.9 L582.6,989.8 L584.8,990.7 L586.9,991.6 L589.1,992.5 L591.2,993.5 L592.8,994.9 L594.3,996.4 L595.8,998.0 L597.4,999.5 L598.9,1000.9 L600.4,1002.0 L601.7,1000.6 L602.9,999.0 L604.2,997.2 L605.4,995.4 L606.7,993.6 L608.1,992.0 L610.0,990.9 L612.1,989.7 L614.1,988.6 L616.2,987.6 L618.3,986.7 L620.3,985.8 L622.5,986.5 L624.6,987.3 L626.7,988.3 L628.9,989.3 L631.1,990.4 L632.6,991.9 L634.1,993.5 L635.7,995.1 L637.2,996.8 L638.8,998.4 L640.4,1000.0 L641.9,1001.6 L643.4,1003.0 L644.9,1004.3 L646.5,1002.9 L648.1,1001.1 L649.6,999.2 L651.0,997.3 L652.5,995.8 L654.5,997.2 L656.3,999.0 L658.3,1000.8 L660.2,1002.0 L661.2,1000.3 L662.2,998.5 L663.2,996.4 L664.2,994.3 L665.2,992.2 L666.2,990.2 L667.3,988.2 L668.3,986.5 L669.4,985.1 L670.6,986.4 L671.9,987.9 L673.1,989.6 L674.4,991.4 L675.7,993.3 L677.0,995.2 L678.2,997.0 L679.5,998.9 L680.8,1000.6 L682.0,1002.1 L683.2,1003.5 L684.6,1002.1 L686.0,1000.4 L687.3,998.4 L688.6,996.3 L689.9,994.2 L691.1,992.2 L692.4,990.4 L694.4,989.5 L696.3,988.9 L698.3,988.2 L700.1,987.4 L701.1,985.4 L702.0,983.4 L703.0,981.2 L703.8,979.0 L704.7,976.6 L704.9,974.8 L705.2,972.8 L705.4,970.8 L705.6,968.8 L705.8,966.8 L706.1,964.8 L706.3,962.7 L706.5,960.7 L706.7,958.7 L706.8,956.7 L707.0,954.6 L707.0,952.5 L707.1,950.3 L707.2,948.2 L707.3,946.1 L707.4,944.0 L707.5,942.0 L707.5,940.1 L707.6,938.3 L707.7,925.0 L708.5,840.0 L709.9,700.0 L711.2,575.0 L712.5,498.0 L713.6,422.0 L715.8,231.5 L718.9,138.0 L721.5,90.0 L723.6,62.0 L726.6,43.1 L728.7,43.7 L731.0,44.4 L733.4,45.0 L735.8,44.9 L738.2,44.6 L740.6,44.5 L742.9,44.4 L744.8,45.6 L746.5,47.1 L748.3,48.5 L750.3,49.6 L752.2,50.7 L754.3,51.7 L756.5,52.6 L758.4,52.4 L760.5,52.1 L762.6,51.8 L764.7,51.4 L766.7,50.9 L768.7,50.4 L770.4,49.0 L772.1,47.3 L773.7,45.6 L775.3,44.1 L776.8,43.1 L778.2,44.6 L779.5,46.6 L780.9,48.8 L782.2,50.9 L783.6,52.6 L785.9,52.2 L788.3,51.5 L790.7,50.7 L793.1,49.9 L795.0,49.1 L796.9,48.3 L798.8,47.6 L800.7,46.9 L802.6,46.3 L805.0,46.8 L807.4,47.5 L809.7,48.2 L812.1,49.0 L814.0,50.0 L815.9,51.1 L817.7,52.2 L819.6,53.2 L821.6,53.9 L823.6,53.3 L825.7,52.5 L827.8,51.6 L829.8,50.7 L831.9,49.9 L833.8,49.3 L835.9,50.1 L837.9,51.2 L839.8,52.3 L842.0,53.1 L843.8,52.7 L845.7,52.2 L847.7,51.6 L849.7,51.0 L851.7,50.3 L853.6,49.8 L855.5,49.3 L857.8,49.4 L860.0,49.6 L862.1,49.8 L864.2,50.1 L866.4,50.4 L868.6,50.7 L870.7,51.1 L872.9,51.5 L875.0,51.8 L877.2,52.0 L879.3,51.5 L881.4,51.0 L883.5,50.4 L885.5,49.7 L887.5,49.1 L889.5,48.5 L891.7,47.7 L893.7,47.0 L896.2,46.3 L898.3,46.1 L900.4,45.9 L902.6,45.7 L904.9,45.5 L907.2,45.3 L909.5,45.1 L911.7,45.0 L913.9,45.0 L916.1,45.8 L918.2,46.7 L920.2,47.8 L922.2,48.8 L924.2,49.7 L926.1,50.4 L928.2,49.3 L930.3,47.7 L932.2,46.2 L934.2,45.0 L936.3,45.5 L938.3,46.4 L940.3,47.3 L942.4,48.0 L944.2,47.2 L946.2,46.2 L948.1,45.2 L950.0,44.3 L951.9,43.9 L953.1,45.3 L954.2,47.1 L955.4,49.0 L956.5,51.0 L957.7,52.9 L958.8,54.7 L960.0,56.1 L961.9,55.4 L963.7,54.2 L965.6,52.9 L967.6,51.5 L969.5,50.4 L971.6,50.3 L973.8,50.4 L976.0,50.5 L978.2,50.6 L980.4,50.4 L982.1,49.2 L983.8,47.9 L985.4,46.4 L987.2,44.9 L988.9,43.6 L990.7,42.5 L992.6,41.7 L994.0,42.7 L995.4,44.0 L996.9,45.3 L998.4,46.8 L1000.0,48.3 L1001.5,49.8 L1003.0,51.4 L1004.5,52.9 L1006.0,54.4 L1007.5,55.7 L1008.9,56.9 L1010.2,58.0 L1012.1,56.9 L1013.7,55.3 L1015.3,53.4 L1016.8,51.5 L1018.4,49.9 L1020.4,49.3 L1022.4,48.9 L1024.5,48.6 L1026.5,48.5 L1028.5,49.3 L1030.5,50.2 L1032.5,51.1 L1034.6,51.8 L1036.8,51.0 L1039.0,50.0 L1041.2,49.0 L1043.4,48.0 L1045.5,47.1 L1047.6,47.4 L1049.6,47.8 L1051.6,48.3 L1053.6,48.5 L1055.5,47.5 L1057.3,46.2 L1059.2,44.8 L1061.2,43.7 L1063.1,43.1 L1064.4,44.3 L1065.8,45.8 L1067.2,47.4 L1068.5,49.1 L1069.9,50.9 L1071.3,52.6 L1072.7,54.2 L1074.0,55.5 L1075.3,56.6 L1076.8,55.5 L1078.1,53.9 L1079.5,52.1 L1080.8,50.2 L1082.2,48.3 L1083.5,46.5 L1084.8,45.0 L1087.2,44.6 L1089.6,44.6 L1092.0,44.7 L1094.3,45.0 L1096.5,45.9 L1098.6,47.0 L1100.7,48.1 L1102.5,49.0 L1110.9,60.0 L1114.7,85.0 L1117.7,138.0 L1120.7,231.5 L1123.1,422.0 L1124.0,498.0 L1126.7,600.0 L1128.3,740.0 L1129.7,880.0 L1130.3,930.0 L1131.4,999.7 L1132.3,1001.6 L1133.3,1003.8 L1134.5,1005.8 L1136.6,1005.9 L1138.9,1006.1 L1141.2,1006.1 L1143.6,1006.0 L1146.0,1005.8 L1147.7,1004.7 L1149.5,1003.5 L1151.2,1002.3 L1153.0,1001.0 L1154.7,999.8 L1156.5,998.6 L1158.2,997.5 L1159.8,996.6 L1161.4,997.8 L1163.0,999.3 L1164.5,1000.9 L1165.9,1002.6 L1167.5,1004.2 L1169.0,1005.8 L1171.0,1006.9 L1173.0,1007.9 L1175.1,1008.9 L1177.1,1009.9 L1179.2,1010.9 L1181.3,1011.9 L1183.3,1012.6 L1185.3,1013.3 L1187.3,1014.0 L1189.3,1014.7 L1191.3,1015.4 L1193.2,1016.0 L1195.1,1016.5 L1197.8,1016.1 L1200.3,1015.4 L1202.8,1015.0 L1204.3,1016.4 L1205.8,1018.1 L1207.3,1019.8 L1208.9,1021.1 L1210.7,1020.4 L1212.5,1019.4 L1214.4,1018.4 L1216.3,1017.4 L1218.1,1016.5 L1220.7,1016.8 L1223.1,1017.3 L1225.8,1017.3 L1227.3,1015.8 L1228.8,1014.2 L1230.3,1012.4 L1231.9,1010.6 L1233.5,1008.8 L1235.1,1007.1 L1236.6,1005.6 L1238.1,1004.3 L1239.7,1005.8 L1241.2,1007.7 L1242.7,1009.9 L1244.2,1011.9 L1245.7,1013.5 L1247.0,1011.9 L1248.3,1010.1 L1249.6,1008.0 L1250.8,1006.0 L1252.1,1004.2 L1253.4,1002.7 L1254.5,1004.1 L1255.6,1005.8 L1256.6,1007.7 L1257.7,1009.7 L1258.8,1011.6 L1259.9,1013.4 L1261.1,1015.0 L1263.1,1014.9 L1265.3,1014.6 L1267.4,1014.2 L1269.6,1013.8 L1271.8,1013.5 L1273.8,1013.6 L1275.9,1013.8 L1277.9,1014.0 L1280.0,1014.2 L1282.0,1014.6 L1284.1,1015.0 L1285.6,1016.2 L1287.2,1017.6 L1288.7,1019.1 L1290.3,1020.5 L1291.8,1022.0 L1293.3,1023.4 L1294.9,1024.6 L1296.3,1025.7 L1298.2,1024.5 L1300.1,1023.1 L1301.9,1021.4 L1303.7,1019.7 L1305.6,1018.1 L1307.4,1016.4 L1309.2,1014.7 L1311.1,1013.1 L1312.9,1011.6 L1314.8,1010.4 L1316.3,1011.7 L1317.8,1013.1 L1319.3,1014.8 L1320.8,1016.5 L1322.4,1018.1 L1324.0,1019.6 L1326.0,1020.2 L1328.0,1020.8 L1330.0,1021.3 L1332.1,1021.8 L1334.2,1022.2 L1336.2,1022.7 L1338.3,1022.5 L1340.3,1022.3 L1342.4,1022.1 L1344.4,1021.9 L1346.5,1021.5 L1348.5,1021.1 L1350.1,1019.9 L1351.6,1018.5 L1353.1,1017.0 L1354.6,1015.5 L1356.2,1014.1 L1357.7,1012.9 L1359.2,1011.9 L1360.5,1013.2 L1361.9,1014.6 L1363.2,1016.2 L1364.6,1017.9 L1365.9,1019.6 L1367.3,1021.3 L1368.6,1022.8 L1369.9,1024.2 L1372.1,1024.2 L1374.2,1024.0 L1376.4,1023.6 L1378.5,1023.2 L1380.7,1022.7 L1382.4,1021.6 L1384.1,1020.6 L1385.9,1019.4 L1387.6,1018.3 L1389.4,1017.1 L1391.2,1016.0 L1393.0,1015.0 L1394.9,1014.5 L1396.9,1013.9 L1398.9,1013.4 L1400.9,1013.0 L1402.9,1012.6 L1404.9,1012.2 L1406.8,1011.9 L1408.7,1013.0 L1410.5,1014.3 L1412.3,1015.7 L1414.1,1017.0 L1416.0,1018.1 L1418.1,1017.6 L1420.2,1016.9 L1422.3,1016.2 L1424.5,1015.5 L1426.7,1015.0 L1428.7,1015.9 L1430.8,1016.9 L1432.8,1018.0 L1434.9,1019.1 L1436.9,1020.2 L1439.0,1021.1 L1441.0,1021.5 L1443.1,1021.7 L1445.1,1021.9 L1447.2,1022.1 L1449.2,1022.4 L1451.2,1022.7 L1453.4,1023.6 L1455.6,1024.6 L1457.7,1025.6 L1459.8,1026.5 L1462.0,1027.3 L1464.1,1026.5 L1466.3,1025.5 L1468.5,1024.5 L1470.6,1023.5 L1472.7,1022.7 L1475.0,1023.0 L1477.3,1023.5 L1479.6,1023.9 L1481.9,1024.2 L1483.9,1023.3 L1486.0,1022.2 L1488.0,1021.1 L1490.1,1019.9 L1492.2,1018.9 L1494.2,1018.1 L1496.4,1018.8 L1498.5,1019.7 L1500.7,1020.7 L1502.8,1021.7 L1504.9,1022.7 L1507.1,1023.6 L1509.2,1024.5 L1511.4,1025.4 L1513.5,1026.3 L1515.7,1027.3 L1517.5,1028.5 L1519.2,1029.9 L1521.0,1031.2 L1522.8,1032.5 L1524.6,1033.8 L1526.4,1034.9 L1528.6,1034.8 L1530.7,1034.5 L1532.9,1034.2 L1535.0,1033.8 L1537.1,1033.4 L1539.3,1032.8 L1541.4,1032.1 L1543.5,1031.5 L1545.6,1030.9 L1547.9,1030.3 L1549.9,1030.5 L1552.0,1030.6 L1554.2,1030.9 L1556.3,1031.1 L1558.5,1031.3 L1560.6,1031.5 L1562.7,1031.7 L1564.8,1031.9 L1567.0,1031.3 L1569.2,1030.6 L1571.3,1029.9 L1573.3,1029.2 L1575.5,1028.8 L1577.2,1029.8 L1579.0,1030.9 L1580.8,1032.1 L1582.6,1033.4 L1584.3,1034.5 L1586.1,1035.6 L1587.8,1036.5 L1589.4,1034.9 L1590.9,1032.9 L1592.4,1030.9 L1593.9,1028.9 L1595.4,1027.3 L1597.4,1028.5 L1599.3,1030.1 L1601.2,1031.9 L1603.1,1033.4 L1605.7,1034.0 L1608.4,1034.5 L1610.8,1034.9"/>
<path class="c" stroke="#2090d2" stroke-width="10.5" d="M223.1,999.7 L225.2,999.5 L227.5,999.3 L229.9,999.1 L232.3,998.9 L234.4,998.5 L236.5,998.1 L238.7,997.7 L240.8,997.2 L243.0,996.6 L244.5,995.2 L246.0,993.8 L247.6,992.2 L249.1,990.6 L250.7,989.1 L252.2,987.6 L253.7,986.2 L255.3,985.1 L257.0,986.1 L258.8,987.4 L260.6,988.8 L262.4,990.3 L264.1,991.8 L265.8,993.2 L267.6,994.3 L269.5,993.1 L271.3,991.6 L273.1,990.0 L274.9,988.5 L276.8,987.4 L278.3,988.8 L279.8,990.5 L281.4,992.3 L282.9,994.2 L284.4,995.9 L286.0,997.3 L287.8,996.4 L289.6,995.2 L291.5,993.8 L293.3,992.4 L295.2,991.2 L297.5,991.1 L299.8,991.1 L302.1,991.2 L304.4,991.2 L306.6,991.4 L308.9,991.7 L311.2,992.0 L313.6,992.0 L315.3,991.0 L317.0,989.8 L318.8,988.6 L320.6,987.4 L322.4,986.2 L324.1,985.2 L325.8,984.3 L327.4,985.6 L329.0,987.3 L330.5,989.0 L332.0,990.8 L333.5,992.3 L335.0,993.5 L336.4,992.1 L337.7,990.4 L339.1,988.6 L340.4,986.8 L341.8,984.9 L343.1,983.0 L344.5,981.3 L345.8,979.7 L348.1,979.8 L350.4,980.3 L352.7,980.8 L355.0,981.2 L357.1,980.7 L359.3,980.0 L361.4,979.3 L363.6,978.7 L365.7,978.2 L367.9,978.9 L370.1,979.7 L372.2,980.6 L374.4,981.4 L376.5,982.0 L378.5,980.6 L380.4,978.9 L382.3,977.3 L384.1,975.9 L386.2,977.3 L388.2,979.0 L390.3,980.5 L392.3,979.1 L394.4,977.3 L396.4,975.9 L398.5,977.0 L400.5,978.5 L402.5,979.7 L404.5,979.0 L406.5,978.1 L408.7,977.4 L410.4,978.2 L412.2,979.2 L414.0,980.2 L415.8,981.2 L417.6,982.1 L419.4,982.8 L421.2,981.7 L423.0,980.3 L424.8,978.9 L426.6,977.5 L428.4,976.2 L430.2,975.1 L431.7,976.4 L433.3,978.0 L434.8,979.8 L436.3,981.4 L437.8,982.8 L439.7,981.9 L441.6,980.8 L443.5,979.5 L445.5,978.2 L446.8,976.7 L448.1,975.1 L449.5,973.5 L450.8,971.9 L452.1,970.3 L453.4,968.8 L454.7,967.4 L456.8,967.6 L458.8,968.1 L460.8,968.2 L461.9,966.4 L462.9,964.4 L463.9,962.3 L464.9,960.2 L465.9,958.3 L467.0,956.7 L468.5,958.1 L470.0,959.9 L471.6,961.9 L473.1,964.0 L474.6,965.9 L476.2,967.7 L477.6,969.5 L479.2,971.3 L480.7,972.9 L482.3,974.3 L484.0,973.7 L485.8,972.9 L487.6,971.9 L489.4,970.9 L491.2,969.9 L493.0,969.0 L494.8,967.8 L496.6,966.5 L498.3,965.1 L500.1,963.9 L501.9,962.8 L503.7,962.1 L505.1,963.5 L506.4,965.2 L507.8,967.0 L509.2,968.9 L510.5,970.8 L511.9,972.7 L513.3,974.5 L514.6,976.1 L516.0,977.4 L517.5,976.1 L518.9,974.6 L520.4,973.0 L521.9,971.2 L523.3,969.3 L524.8,967.5 L526.2,965.8 L527.7,964.2 L529.1,962.8 L530.5,964.0 L532.0,965.6 L533.4,967.4 L534.8,969.2 L536.1,970.8 L537.5,972.0 L538.6,970.6 L539.7,968.9 L540.7,967.1 L541.8,965.1 L542.9,963.2 L544.0,961.4 L545.2,959.8 L547.2,959.3 L549.4,958.9 L551.5,958.7 L553.7,958.5 L555.9,958.2 L557.9,958.1 L560.0,957.9 L562.1,957.8 L564.2,957.6 L566.2,957.5 L568.2,957.5 L570.3,958.3 L572.3,959.2 L574.3,959.8 L576.1,958.4 L577.9,956.8 L579.7,955.2 L581.6,953.6 L583.5,952.1 L585.8,951.3 L588.1,950.5 L590.5,949.9 L592.8,949.3 L595.0,949.0 L596.1,950.6 L597.1,952.4 L598.1,954.3 L599.0,956.2 L600.0,958.1 L600.9,959.8 L601.9,961.3 L603.8,960.1 L605.7,958.5 L607.7,956.8 L609.6,955.2 L611.5,954.1 L613.3,953.2 L615.2,952.2 L617.3,951.3 L619.2,950.9 L621.3,950.5 L623.4,950.1 L625.5,949.7 L627.6,949.3 L629.5,949.0 L631.7,950.0 L633.7,951.2 L635.7,952.1 L637.5,950.8 L639.5,949.3 L641.4,947.9 L643.3,946.7 L645.0,947.9 L646.7,949.3 L648.4,950.8 L650.1,952.3 L651.8,953.6 L653.8,954.4 L655.8,955.1 L657.8,955.7 L659.8,956.3 L661.7,956.7 L663.7,955.4 L665.5,953.9 L667.4,952.5 L669.4,951.3 L671.3,952.2 L673.3,953.1 L675.3,954.2 L677.3,955.4 L679.3,956.4 L681.3,957.4 L683.2,958.2 L685.2,957.2 L687.0,956.0 L688.9,954.7 L690.7,953.4 L692.4,952.1 L694.6,950.6 L696.6,949.2 L698.6,947.5 L699.3,945.6 L700.1,943.6 L700.8,941.6 L701.5,939.5 L702.2,937.4 L702.9,935.2 L703.2,933.3 L703.5,931.3 L703.8,929.2 L704.1,927.2 L704.4,925.1 L704.6,923.0 L704.9,920.9 L705.2,918.9 L705.5,916.8 L705.6,914.7 L705.8,912.6 L705.9,910.5 L706.1,908.3 L706.2,906.2 L706.3,904.1 L706.5,902.1 L706.6,900.2 L706.7,898.4 L708.2,840.0 L709.6,700.0 L710.9,575.0 L712.2,498.0 L713.3,422.0 L715.5,231.5 L718.6,138.0 L721.2,90.0 L723.3,62.0 L726.6,43.1 L728.7,43.7 L731.0,44.4 L733.4,45.0 L735.8,44.9 L738.2,44.6 L740.6,44.5 L742.9,44.4 L744.8,45.6 L746.5,47.1 L748.3,48.5 L750.3,49.6 L752.2,50.7 L754.3,51.7 L756.5,52.6 L758.4,52.4 L760.5,52.1 L762.6,51.8 L764.7,51.4 L766.7,50.9 L768.7,50.4 L770.4,49.0 L772.1,47.3 L773.7,45.6 L775.3,44.1 L776.8,43.1 L778.2,44.6 L779.5,46.6 L780.9,48.8 L782.2,50.9 L783.6,52.6 L785.9,52.2 L788.3,51.5 L790.7,50.7 L793.1,49.9 L795.0,49.1 L796.9,48.3 L798.8,47.6 L800.7,46.9 L802.6,46.3 L805.0,46.8 L807.4,47.5 L809.7,48.2 L812.1,49.0 L814.0,50.0 L815.9,51.1 L817.7,52.2 L819.6,53.2 L821.6,53.9 L823.6,53.3 L825.7,52.5 L827.8,51.6 L829.8,50.7 L831.9,49.9 L833.8,49.3 L835.9,50.1 L837.9,51.2 L839.8,52.3 L842.0,53.1 L843.8,52.7 L845.7,52.2 L847.7,51.6 L849.7,51.0 L851.7,50.3 L853.6,49.8 L855.5,49.3 L857.8,49.4 L860.0,49.6 L862.1,49.8 L864.2,50.1 L866.4,50.4 L868.6,50.7 L870.7,51.1 L872.9,51.5 L875.0,51.8 L877.2,52.0 L879.3,51.5 L881.4,51.0 L883.5,50.4 L885.5,49.7 L887.5,49.1 L889.5,48.5 L891.7,47.7 L893.7,47.0 L896.2,46.3 L898.3,46.1 L900.4,45.9 L902.6,45.7 L904.9,45.5 L907.2,45.3 L909.5,45.1 L911.7,45.0 L913.9,45.0 L916.1,45.8 L918.2,46.7 L920.2,47.8 L922.2,48.8 L924.2,49.7 L926.1,50.4 L928.2,49.3 L930.3,47.7 L932.2,46.2 L934.2,45.0 L936.3,45.5 L938.3,46.4 L940.3,47.3 L942.4,48.0 L944.2,47.2 L946.2,46.2 L948.1,45.2 L950.0,44.3 L951.9,43.9 L953.1,45.3 L954.2,47.1 L955.4,49.0 L956.5,51.0 L957.7,52.9 L958.8,54.7 L960.0,56.1 L961.9,55.4 L963.7,54.2 L965.6,52.9 L967.6,51.5 L969.5,50.4 L971.6,50.3 L973.8,50.4 L976.0,50.5 L978.2,50.6 L980.4,50.4 L982.1,49.2 L983.8,47.9 L985.4,46.4 L987.2,44.9 L988.9,43.6 L990.7,42.5 L992.6,41.7 L994.0,42.7 L995.4,44.0 L996.9,45.3 L998.4,46.8 L1000.0,48.3 L1001.5,49.8 L1003.0,51.4 L1004.5,52.9 L1006.0,54.4 L1007.5,55.7 L1008.9,56.9 L1010.2,58.0 L1012.1,56.9 L1013.7,55.3 L1015.3,53.4 L1016.8,51.5 L1018.4,49.9 L1020.4,49.3 L1022.4,48.9 L1024.5,48.6 L1026.5,48.5 L1028.5,49.3 L1030.5,50.2 L1032.5,51.1 L1034.6,51.8 L1036.8,51.0 L1039.0,50.0 L1041.2,49.0 L1043.4,48.0 L1045.5,47.1 L1047.6,47.4 L1049.6,47.8 L1051.6,48.3 L1053.6,48.5 L1055.5,47.5 L1057.3,46.2 L1059.2,44.8 L1061.2,43.7 L1063.1,43.1 L1064.4,44.3 L1065.8,45.8 L1067.2,47.4 L1068.5,49.1 L1069.9,50.9 L1071.3,52.6 L1072.7,54.2 L1074.0,55.5 L1075.3,56.6 L1076.8,55.5 L1078.1,53.9 L1079.5,52.1 L1080.8,50.2 L1082.2,48.3 L1083.5,46.5 L1084.8,45.0 L1087.2,44.6 L1089.6,44.6 L1092.0,44.7 L1094.3,45.0 L1096.5,45.9 L1098.6,47.0 L1100.7,48.1 L1102.5,49.0 L1111.2,60.0 L1115.0,85.0 L1118.0,138.0 L1121.0,231.5 L1123.4,422.0 L1124.3,498.0 L1127.0,600.0 L1128.6,740.0 L1130.0,880.0 L1130.6,930.0 L1131.4,947.5 L1132.3,949.5 L1133.2,951.8 L1134.2,954.1 L1135.3,955.9 L1137.0,955.0 L1138.8,953.9 L1140.6,952.6 L1142.5,951.3 L1144.3,950.1 L1146.0,949.0 L1148.2,949.5 L1150.1,950.2 L1152.2,950.6 L1153.5,949.1 L1154.9,947.5 L1156.3,945.7 L1157.7,944.1 L1159.1,942.9 L1160.4,944.4 L1161.8,946.2 L1163.2,948.1 L1164.6,950.1 L1166.0,952.1 L1167.0,953.8 L1168.1,955.6 L1169.2,957.4 L1170.3,959.2 L1171.4,961.0 L1172.5,962.7 L1173.6,964.4 L1175.7,965.5 L1177.9,966.6 L1180.1,967.5 L1182.3,968.3 L1184.4,969.0 L1186.0,967.5 L1187.5,965.7 L1189.0,963.8 L1190.5,962.0 L1192.0,960.5 L1193.9,961.5 L1195.8,962.9 L1197.7,964.4 L1199.7,965.9 L1201.2,967.2 L1202.7,968.6 L1204.2,970.0 L1205.8,971.5 L1207.4,972.9 L1208.9,974.2 L1210.5,975.5 L1212.0,976.6 L1214.2,976.0 L1216.3,975.2 L1218.5,974.1 L1220.6,973.1 L1222.7,972.0 L1224.6,970.8 L1226.5,969.6 L1228.3,968.3 L1230.1,967.1 L1231.9,965.9 L1234.0,964.1 L1236.0,962.3 L1238.1,961.3 L1238.9,962.9 L1239.7,964.8 L1240.6,966.8 L1241.4,968.9 L1242.3,971.0 L1243.2,973.0 L1244.0,974.9 L1244.9,976.7 L1245.7,978.2 L1246.8,976.6 L1247.9,974.7 L1249.0,972.5 L1250.1,970.2 L1251.2,968.0 L1252.3,966.0 L1253.4,964.4 L1254.5,965.9 L1255.6,967.8 L1256.7,969.8 L1257.7,972.0 L1258.8,974.2 L1259.9,976.3 L1261.1,978.2 L1262.9,979.6 L1264.7,980.8 L1266.5,982.0 L1268.4,983.1 L1270.3,984.3 L1272.4,985.3 L1274.6,986.4 L1276.7,987.4 L1278.9,988.2 L1281.0,988.9 L1282.9,987.5 L1284.7,985.9 L1286.6,984.2 L1288.4,982.5 L1290.2,981.2 L1292.1,982.6 L1293.9,984.2 L1295.8,986.0 L1297.6,987.6 L1299.4,988.9 L1301.0,987.3 L1302.5,985.3 L1304.0,983.2 L1305.5,981.3 L1307.1,979.7 L1308.6,981.0 L1310.1,982.5 L1311.7,984.3 L1313.2,986.0 L1314.8,987.6 L1316.3,988.9 L1318.1,987.9 L1320.0,986.6 L1321.8,985.2 L1323.7,983.9 L1325.5,982.8 L1327.4,983.7 L1329.3,984.8 L1331.2,986.1 L1333.2,987.4 L1335.0,988.9 L1336.8,990.6 L1338.7,992.2 L1340.5,993.7 L1342.4,995.0 L1344.2,994.4 L1346.1,993.6 L1348.0,992.6 L1349.8,991.5 L1351.6,990.4 L1352.6,988.7 L1353.6,986.6 L1354.6,984.6 L1355.6,982.6 L1356.6,981.0 L1357.7,979.7 L1358.5,981.3 L1359.3,983.2 L1360.1,985.1 L1360.9,987.2 L1361.8,989.4 L1362.6,991.5 L1363.5,993.7 L1364.3,995.8 L1365.2,997.7 L1366.0,999.6 L1366.9,1001.2 L1368.4,1000.1 L1369.9,998.7 L1371.5,997.0 L1373.0,995.2 L1374.6,993.4 L1376.1,991.8 L1377.6,990.4 L1379.5,991.6 L1381.3,993.2 L1383.2,994.8 L1385.0,996.6 L1386.8,998.1 L1388.6,999.2 L1390.5,1000.2 L1392.3,1001.3 L1394.1,1002.1 L1396.0,1002.7 L1397.5,1001.4 L1399.0,999.8 L1400.6,998.1 L1402.1,996.4 L1403.6,994.7 L1405.2,993.2 L1406.8,992.0 L1408.3,993.0 L1409.8,994.3 L1411.4,995.7 L1412.9,997.2 L1414.5,998.7 L1416.0,1000.2 L1417.5,1001.6 L1419.0,1002.7 L1420.9,1002.0 L1422.8,1001.1 L1424.6,999.9 L1426.4,998.9 L1428.2,998.1 L1430.0,999.0 L1431.8,1000.0 L1433.5,1001.1 L1435.3,1002.2 L1437.1,1003.3 L1439.0,1004.3 L1441.0,1004.6 L1443.0,1004.8 L1445.1,1005.0 L1447.2,1005.2 L1449.2,1005.5 L1451.2,1005.8 L1453.1,1006.8 L1454.8,1007.9 L1456.6,1009.0 L1458.4,1010.1 L1460.2,1011.1 L1462.0,1011.9 L1463.7,1011.0 L1465.5,1009.9 L1467.3,1008.7 L1469.0,1007.4 L1470.8,1006.2 L1472.5,1005.1 L1474.3,1004.3 L1476.2,1005.6 L1478.0,1007.2 L1479.8,1009.0 L1481.6,1010.6 L1483.5,1011.9 L1485.0,1010.6 L1486.5,1009.0 L1488.0,1007.3 L1489.6,1005.6 L1491.1,1004.0 L1492.7,1002.7 L1494.2,1003.8 L1495.7,1005.0 L1497.2,1006.4 L1498.8,1007.9 L1500.3,1009.4 L1501.9,1010.7 L1503.4,1011.9 L1505.6,1011.8 L1507.7,1011.4 L1509.9,1010.9 L1512.0,1010.5 L1514.1,1010.4 L1515.7,1011.7 L1517.2,1013.2 L1518.7,1014.8 L1520.2,1016.4 L1521.8,1018.0 L1523.3,1019.6 L1525.0,1020.7 L1526.8,1021.9 L1528.5,1023.1 L1530.3,1024.3 L1532.1,1025.4 L1533.9,1026.4 L1535.6,1027.3 L1537.7,1026.5 L1539.7,1025.5 L1541.8,1024.3 L1543.9,1023.2 L1545.9,1022.1 L1547.9,1021.1 L1550.2,1021.0 L1552.5,1021.0 L1554.8,1021.0 L1557.1,1021.1 L1559.4,1021.9 L1561.7,1022.7 L1564.0,1023.6 L1566.3,1024.2 L1568.2,1023.1 L1570.1,1021.8 L1572.0,1020.5 L1574.0,1019.6 L1575.6,1020.6 L1577.4,1021.7 L1579.1,1023.0 L1580.9,1024.3 L1582.7,1025.5 L1584.5,1026.5 L1586.2,1027.3 L1587.3,1025.7 L1588.4,1023.9 L1589.5,1022.0 L1590.6,1020.0 L1591.7,1017.9 L1592.8,1015.9 L1593.8,1013.9 L1594.9,1012.0 L1595.9,1010.3 L1597.0,1008.9 L1598.1,1010.4 L1599.2,1012.2 L1600.3,1014.3 L1601.4,1016.5 L1602.5,1018.7 L1603.6,1020.8 L1604.6,1022.7 L1606.8,1023.0 L1608.9,1022.8 L1610.8,1022.7"/>
</g>
<rect x="1133" y="63.6" width="470" height="484.8" fill="#fff"/>
<rect x="1137.7" y="63.6" width="465.6" height="484.8" fill="#fff" stroke="#4a4a4c" stroke-width="2.9"/>
<clipPath id="cl2"><rect x="1137.7" y="63.6" width="464.6" height="484.8"/></clipPath>
<g clip-path="url(#cl2)">
<path d="M1139,507.4 H1156" stroke="#444" stroke-width="2.1" fill="none"/>
<path class="c" stroke="#7b2a86" stroke-width="9.6" d="M1143.0,88.3 H1219.0"/>
<text transform="translate(1234.77,108.30) scale(0.9480,1)" font-size="53.5" fill="#1c1c1c">Input</text>
<path class="d" stroke="#f26529" stroke-width="10" stroke-dasharray="19.3 17.2" d="M1145.1,170.1 H1221.8"/>
<text transform="translate(1234.22,189.30) scale(0.9480,1)" font-size="53.5" fill="#1c1c1c">a1 W/O DPD</text>
<path class="d" stroke="#5bba47" stroke-width="10" stroke-dasharray="19.3 17.2" d="M1145.1,240.3 H1221.8"/>
<text transform="translate(1234.22,260.30) scale(0.9480,1)" font-size="53.5" fill="#1c1c1c">a2 W/O DPD</text>
<path class="d" stroke="#2090d2" stroke-width="10" stroke-dasharray="19.3 17.2" d="M1145.1,310.1 H1221.8"/>
<text transform="translate(1240.02,329.80) scale(0.9480,1)" font-size="53.5" fill="#1c1c1c">a3W/O DPD</text>
<path class="c" stroke="#f26529" stroke-width="9.6" d="M1146.0,380.9 H1222.0"/>
<text transform="translate(1244.82,400.60) scale(0.9480,1)" font-size="53.5" fill="#1c1c1c">a1 W CMUDPD2</text>
<path class="c" stroke="#5bba47" stroke-width="9.6" d="M1146.0,451.1 H1222.0"/>
<text transform="translate(1244.82,471.50) scale(0.9480,1)" font-size="53.5" fill="#1c1c1c">a2 W CMUDPD2</text>
<path class="c" stroke="#2090d2" stroke-width="9.6" d="M1146.0,521.3 H1222.0"/>
<text transform="translate(1244.82,540.90) scale(0.9480,1)" font-size="53.5" fill="#1c1c1c">a3 W CMUDPD2</text>
</g>
<rect x="325.6" y="60.4" width="377.8" height="399.0" fill="#fff" stroke="#4a4a4c" stroke-width="2.6"/>
<path class="c" stroke="#fcd0c3" stroke-width="9" d="M336.3,85.4 H415.2"/>
<text transform="translate(426.80,102.80) scale(0.9580,1)" font-size="53.5" fill="#1c1c1c">a1 W I<tspan font-size="34" dy="8">D1</tspan><tspan dy="-8">*1.1</tspan></text>
<path class="c" stroke="#b3d99b" stroke-width="9" d="M336.3,155.5 H415.2"/>
<text transform="translate(426.80,171.90) scale(0.9580,1)" font-size="53.5" fill="#1c1c1c">a2 W I<tspan font-size="34" dy="8">D2</tspan><tspan dy="-8">*1.1</tspan></text>
<path class="c" stroke="#9fc4e8" stroke-width="9" d="M336.3,225.9 H415.2"/>
<text transform="translate(426.80,241.30) scale(0.9580,1)" font-size="53.5" fill="#1c1c1c">a3 W I<tspan font-size="34" dy="8">D3</tspan><tspan dy="-8">*1.1</tspan></text>
<path class="c" stroke="#fcd0c3" stroke-width="9" d="M336.3,296.1 H415.2"/>
<text transform="translate(426.77,308.70) scale(0.9720,1)" font-size="53.5" fill="#1c1c1c">a1 W I<tspan font-size="34" dy="8">D1</tspan><tspan dy="-8">*0.9</tspan></text>
<path class="c" stroke="#b3d99b" stroke-width="9" d="M336.3,366.2 H415.2"/>
<text transform="translate(426.77,377.60) scale(0.9720,1)" font-size="53.5" fill="#1c1c1c">a2 W I<tspan font-size="34" dy="8">D2</tspan><tspan dy="-8">*0.9</tspan></text>
<path class="c" stroke="#9fc4e8" stroke-width="9" d="M336.3,436.3 H415.2"/>
<text transform="translate(426.77,447.00) scale(0.9720,1)" font-size="53.5" fill="#1c1c1c">a3 W I<tspan font-size="34" dy="8">D3</tspan><tspan dy="-8">*0.9</tspan></text>
<path d="M699.6,231.8 H702.2 M699.6,422.1 H702.2" stroke="#7a7a7a" stroke-width="3.7" fill="none"/>
<rect x="325.6" y="478.6" width="377.9" height="280.0" fill="#fff" stroke="#4a4a4c" stroke-width="2.8"/>
<clipPath id="cin"><rect x="330" y="481" width="370.8" height="275.5"/></clipPath>
<g clip-path="url(#cin)">
<path d="M330,672.6 H701" stroke="#808080" stroke-width="4.8" fill="none"/>
<path class="c" stroke="#7b2a86" stroke-width="18.6" d="M316.0,694.3 L330.0,694.3 L332.0,695.7 L334.3,697.3 L336.6,699.0 L338.9,700.8 L340.7,703.1 L342.4,705.7 L344.2,708.2 L346.0,710.6 L347.7,712.6 L350.3,711.0 L352.8,708.9 L355.4,706.7 L357.5,705.3 L359.5,703.9 L361.6,702.5 L363.7,700.8 L364.9,698.5 L366.1,696.0 L367.3,693.5 L368.4,691.0 L369.6,688.7 L370.7,686.6 L373.1,688.5 L375.5,691.4 L376.9,693.9 L378.4,696.7 L379.8,699.4 L381.4,702.0 L383.7,704.0 L386.0,705.7 L388.4,707.3 L391.2,706.9 L393.9,706.3 L396.7,705.5 L399.4,703.9 L402.2,702.2 L405.0,700.8 L407.7,701.4 L410.5,702.3 L413.2,703.2 L415.6,704.4 L417.9,705.7 L420.3,706.7 L423.0,705.7 L425.8,704.5 L428.6,703.2 L430.6,701.7 L432.7,700.3 L434.8,698.7 L436.8,697.3 L439.2,695.2 L441.5,693.1 L443.9,691.4 L446.2,692.6 L448.6,694.3 L451.0,696.1 L453.0,698.1 L455.1,700.2 L457.2,702.3 L459.2,704.3 L462.0,706.1 L464.7,707.7 L467.5,709.1 L470.2,708.4 L473.0,707.5 L475.8,706.7 L478.5,706.3 L481.3,706.0 L484.0,705.5 L486.8,704.3 L489.5,702.9 L492.3,702.0 L494.3,703.7 L496.4,705.8 L498.5,708.0 L500.5,710.2 L501.9,712.4 L503.3,714.7 L504.7,717.1 L506.0,719.3 L507.4,721.4 L508.8,723.2 L510.9,721.6 L513.0,719.4 L515.0,717.1 L517.1,715.0 L519.5,713.6 L521.8,712.4 L524.2,711.4 L526.9,712.2 L529.7,713.1 L532.4,713.8 L534.8,712.1 L537.2,710.1 L539.5,707.9 L540.9,705.8 L542.3,703.6 L543.7,701.4 L545.1,699.2 L546.6,697.3 L549.7,696.6 L552.9,696.4 L556.0,696.1 L558.8,695.6 L561.5,695.1 L564.3,694.9 L566.1,696.3 L568.0,697.9 L569.9,699.6 L571.8,701.3 L573.7,703.2 L575.4,705.1 L577.1,707.1 L578.8,709.2 L580.5,711.2 L582.2,713.3 L583.9,715.3 L585.5,717.3 L587.5,719.6 L589.4,721.8 L591.2,724.0 L593.1,726.1 L595.0,727.9 L597.7,727.4 L600.5,726.3 L603.2,725.6 L605.3,726.9 L607.3,728.3 L609.4,729.9 L611.5,731.5 L613.8,733.3 L616.2,735.3 L618.6,737.1 L620.9,738.6 L623.0,737.2 L625.1,735.5 L627.2,733.6 L629.2,731.5 L630.0,729.0 L630.9,726.3 L631.7,723.5 L632.5,720.7 L633.4,717.9 L634.2,715.2 L635.1,712.6 L636.7,710.1 L638.4,707.6 L640.0,705.2 L641.7,703.0 L643.3,700.8 L645.3,698.9 L647.3,697.3 L649.2,696.1 L651.6,697.7 L653.9,699.6 L656.3,702.0 L657.3,704.3 L658.3,706.8 L659.4,709.5 L660.4,712.1 L661.4,714.7 L662.4,717.3 L663.4,719.7 L664.9,722.1 L666.3,724.3 L667.8,726.3 L669.3,727.9 L671.3,726.5 L673.4,724.7 L675.5,722.7 L677.6,720.9 L679.3,719.1 L681.1,717.2 L682.8,715.5 L684.6,713.8 L687.0,712.9 L689.4,712.1 L691.8,711.2 L694.1,710.2 L695.4,708.0 L696.6,705.7 L697.7,703.3 L698.8,700.8 L699.4,698.0 L700.1,695.0 L700.7,692.0 L701.2,689.2 L701.7,686.6"/>
<path class="c" stroke="#fcd0c3" stroke-width="18.6" d="M316.0,590.8 L330.0,590.8 L331.7,589.3 L333.6,587.6 L335.6,585.9 L337.6,584.1 L339.7,582.3 L341.7,580.6 L343.6,579.0 L346.3,577.4 L349.0,576.0 L351.6,574.6 L354.2,573.1 L356.6,571.3 L359.0,569.5 L361.4,567.7 L363.7,566.0 L366.0,564.3 L368.3,562.6 L370.7,561.3 L373.3,562.0 L376.1,562.8 L378.8,563.8 L381.4,564.8 L382.9,566.7 L384.4,568.7 L385.8,570.8 L387.3,573.1 L388.1,575.5 L388.9,578.1 L389.7,580.8 L390.5,583.4 L391.4,586.1 L392.3,588.5 L393.2,590.8 L396.3,591.4 L399.5,591.4 L402.6,590.8 L403.3,588.5 L404.1,586.0 L404.7,583.4 L405.4,580.7 L406.0,578.0 L406.7,575.5 L407.3,573.1 L408.8,570.7 L410.4,568.7 L412.0,567.2 L413.6,568.8 L415.3,570.8 L416.9,573.0 L418.6,575.0 L420.3,576.6 L423.0,575.4 L425.8,573.6 L428.6,571.9 L431.3,570.6 L434.1,569.3 L436.8,568.4 L438.9,569.9 L441.0,571.8 L443.0,573.7 L445.1,575.5 L448.6,577.0 L452.2,577.8 L453.9,575.7 L455.7,573.3 L457.5,570.7 L459.2,568.4 L461.6,566.1 L463.9,564.0 L466.3,562.5 L467.7,564.3 L469.0,566.5 L470.4,568.8 L471.8,571.2 L473.2,573.4 L474.6,575.5 L477.7,576.5 L480.9,577.1 L484.0,577.8 L486.4,579.0 L488.7,580.2 L491.1,581.4 L494.2,581.9 L497.4,582.3 L500.5,582.5 L503.3,581.6 L506.1,580.6 L508.8,579.0 L509.8,576.7 L510.9,574.3 L511.9,571.7 L513.0,569.1 L514.0,566.5 L515.0,563.8 L515.9,561.3 L516.2,558.5 L516.3,555.6 L516.5,552.8 L516.6,550.0 L516.8,547.3 L517.1,544.8 L519.3,543.3 L521.7,542.2 L524.2,541.3 L527.7,542.2 L531.2,543.7 L533.3,545.6 L535.4,547.6 L537.5,549.7 L539.5,551.9 L540.7,554.2 L541.9,556.6 L543.0,559.0 L544.2,561.4 L545.4,563.7 L547.2,565.7 L549.1,567.7 L551.1,569.7 L553.0,571.5 L554.8,573.2 L557.2,572.4 L559.5,571.1 L561.9,569.6 L563.8,568.0 L565.8,566.2 L567.8,564.4 L569.8,562.5 L571.8,560.7 L573.7,559.0 L576.1,557.3 L578.5,555.6 L580.9,554.2 L583.2,553.1 L584.6,554.9 L586.1,557.0 L587.5,559.2 L588.9,561.5 L590.2,563.7 L591.7,566.2 L593.2,568.8 L594.6,571.2 L596.1,573.2 L598.2,571.8 L600.2,570.0 L602.3,568.1 L604.4,566.1 L605.8,564.0 L607.2,561.9 L608.6,559.7 L610.0,557.6 L611.5,555.5 L613.3,553.7 L615.2,552.0 L617.2,550.4 L619.1,548.7 L620.9,547.2 L623.3,546.0 L625.7,544.9 L628.0,543.7 L629.7,541.7 L631.5,539.5 L633.3,537.4 L635.1,535.4 L637.4,534.4 L639.7,533.4 L642.1,532.5 L644.5,531.9 L646.9,532.6 L649.3,533.4 L651.6,534.4 L654.0,535.4 L656.1,536.8 L658.1,538.3 L660.2,539.8 L662.2,541.3 L664.0,543.4 L665.8,545.5 L667.5,547.6 L669.3,549.6 L672.8,550.9 L676.4,551.9 L679.1,551.3 L681.9,550.4 L684.6,549.6 L687.0,548.4 L689.3,547.3 L691.7,546.0 L694.2,544.3 L696.9,542.4 L699.4,540.6 L701.7,538.9"/>
<path class="c" stroke="#b3d99b" stroke-width="18.6" d="M316.0,649.8 L330.0,649.8 L332.2,650.7 L334.6,651.8 L337.1,652.8 L339.7,654.0 L342.3,655.0 L344.8,656.0 L347.1,656.9 L350.1,656.0 L352.7,654.8 L355.4,653.3 L357.3,651.8 L359.3,650.2 L361.3,648.5 L363.3,646.9 L365.3,645.3 L367.2,643.9 L370.4,644.0 L373.5,644.4 L376.6,645.1 L379.0,646.4 L381.4,647.8 L383.8,649.2 L386.2,650.7 L388.4,652.2 L390.1,654.7 L391.6,657.3 L393.2,659.2 L394.8,657.2 L396.6,654.7 L398.3,652.2 L400.2,649.8 L402.5,648.7 L404.9,647.7 L407.3,646.7 L409.7,645.8 L412.0,645.1 L414.4,646.1 L416.8,647.4 L419.1,648.8 L421.5,649.8 L424.1,648.8 L426.7,647.6 L429.4,646.2 L432.1,645.1 L435.0,644.6 L438.0,644.2 L440.9,643.9 L443.9,643.9 L445.9,645.3 L447.8,647.0 L449.8,648.7 L451.8,650.5 L453.7,652.0 L455.7,653.3 L458.1,652.3 L460.4,650.9 L462.8,649.4 L465.2,647.8 L467.5,646.3 L469.4,644.1 L471.3,641.8 L473.2,639.5 L475.1,637.4 L476.9,635.6 L479.0,637.0 L481.0,638.7 L483.1,640.7 L485.2,642.7 L487.1,644.4 L489.0,646.2 L491.0,648.0 L493.0,649.9 L495.0,651.6 L497.0,653.3 L499.4,654.6 L501.9,655.9 L504.3,657.0 L506.6,658.2 L508.8,659.2 L510.0,660.7 L511.8,659.3 L513.7,657.7 L515.7,656.0 L517.7,654.3 L519.8,652.7 L521.8,651.2 L524.7,650.5 L527.7,649.9 L530.6,649.4 L533.6,648.9 L536.4,648.4 L539.3,647.9 L542.2,647.4 L545.0,646.9 L547.8,646.5 L551.0,646.8 L554.1,647.2 L557.2,647.7 L559.5,648.6 L561.9,649.5 L564.2,650.5 L566.6,651.5 L569.0,652.4 L571.9,653.3 L574.9,654.2 L577.8,655.1 L580.8,656.0 L583.2,656.9 L585.6,657.8 L588.0,658.7 L590.4,659.7 L592.6,660.7 L594.2,662.8 L595.6,665.1 L597.0,667.2 L598.5,668.9 L600.1,667.4 L601.7,665.5 L603.4,663.4 L605.1,661.3 L606.8,659.5 L609.9,658.5 L613.0,657.8 L616.2,657.1 L619.3,656.4 L622.5,655.7 L625.6,654.8 L627.5,653.2 L629.4,651.6 L631.3,649.9 L633.2,648.2 L635.1,646.5 L637.4,644.6 L639.8,642.6 L642.2,640.8 L644.5,639.4 L646.4,641.0 L648.3,642.9 L650.2,644.9 L652.1,646.9 L654.0,648.9 L655.9,650.6 L657.8,652.3 L659.7,653.9 L661.6,655.6 L663.4,657.1 L665.4,658.9 L667.3,660.6 L669.3,661.9 L671.3,660.7 L673.4,659.2 L675.4,657.6 L677.6,656.0 L679.4,653.9 L681.2,651.8 L683.1,649.6 L685.0,647.4 L687.0,645.3 L689.4,644.1 L692.0,642.8 L694.6,641.6 L697.1,640.4 L699.5,639.3 L701.7,638.3"/>
<path class="c" stroke="#9fc4e8" stroke-width="18.6" d="M316.0,585.5 L330.0,585.5 L332.8,586.4 L335.8,587.3 L338.9,588.4 L341.0,590.2 L343.0,592.2 L345.1,594.0 L347.1,595.5 L349.2,594.1 L351.3,592.3 L353.4,590.3 L355.4,588.4 L357.4,586.0 L359.3,583.6 L361.3,581.4 L364.3,580.3 L367.5,579.5 L370.7,579.0 L372.8,580.4 L375.0,582.1 L377.1,583.8 L379.3,585.6 L381.4,587.3 L383.5,589.2 L385.6,591.1 L387.6,592.9 L389.6,594.3 L391.4,592.7 L393.2,590.6 L395.0,588.4 L396.7,586.1 L397.9,583.5 L399.0,580.8 L400.2,578.0 L401.3,575.4 L402.6,573.1 L405.6,573.6 L408.8,574.6 L412.0,575.5 L414.9,575.0 L417.9,574.4 L420.9,573.7 L423.8,573.1 L426.8,572.2 L429.8,571.2 L432.7,570.3 L435.6,569.6 L438.9,570.2 L442.0,571.1 L445.1,571.9 L448.6,572.0 L452.2,571.9 L455.3,571.6 L458.5,571.3 L461.6,570.7 L463.4,568.8 L465.2,566.7 L466.9,564.5 L468.7,562.5 L471.0,560.7 L473.4,559.1 L475.8,557.8 L478.5,558.5 L481.3,559.5 L484.0,560.1 L485.8,558.3 L487.6,556.2 L489.3,554.0 L491.1,551.9 L493.1,549.9 L495.2,547.9 L497.3,546.1 L499.4,544.8 L500.7,546.8 L502.1,549.2 L503.5,551.7 L504.9,554.3 L506.3,556.8 L507.6,558.9 L510.7,559.4 L513.5,558.9 L514.4,556.8 L515.3,554.3 L516.1,551.8 L517.1,549.6 L520.5,548.1 L524.2,547.2 L526.5,548.9 L528.9,550.9 L531.2,553.1 L532.6,555.2 L534.0,557.5 L535.4,559.8 L536.8,562.1 L538.2,564.3 L539.5,566.1 L541.5,564.2 L543.4,561.6 L545.4,559.0 L547.7,557.2 L550.0,555.4 L552.4,553.6 L554.8,551.9 L557.5,550.7 L560.1,549.5 L562.8,548.4 L565.5,547.2 L568.1,546.1 L570.8,544.9 L573.4,543.8 L576.1,542.5 L578.2,540.7 L580.3,538.7 L582.5,536.7 L584.6,534.8 L586.7,533.0 L589.9,532.0 L593.0,531.2 L596.1,530.7 L598.2,532.0 L600.3,533.5 L602.4,535.1 L604.4,536.6 L606.8,538.2 L609.1,539.9 L611.5,541.3 L614.6,541.3 L617.8,541.1 L620.9,541.3 L622.7,543.5 L624.5,545.9 L626.2,548.4 L628.0,550.7 L630.4,552.5 L632.7,554.2 L635.1,555.5 L637.4,554.1 L639.8,552.4 L642.2,550.7 L645.6,549.5 L649.2,548.4 L652.1,548.4 L655.1,548.5 L658.1,548.6 L661.0,548.4 L662.8,546.7 L664.4,544.8 L666.1,542.8 L667.7,540.8 L669.3,538.9 L671.7,536.7 L674.0,534.7 L676.4,533.0 L678.4,534.3 L680.5,535.9 L682.6,537.6 L684.6,538.9 L687.0,538.1 L689.3,536.9 L691.7,535.4 L693.7,533.4 L695.8,531.2 L697.9,528.9 L699.9,526.7 L701.7,524.8"/>
<path class="c" stroke="#fcd0c3" stroke-width="18.6" d="M316.0,647.7 L330.0,647.7 L331.6,649.3 L333.4,651.1 L335.2,653.0 L337.1,655.0 L338.9,657.1 L340.0,659.6 L341.1,662.2 L342.2,665.0 L343.3,667.7 L344.4,670.4 L345.5,673.1 L346.6,675.5 L347.7,677.8 L350.3,677.4 L352.8,676.3 L355.4,674.8 L357.2,673.1 L359.1,671.2 L360.9,669.3 L362.8,667.4 L364.8,665.4 L366.8,663.7 L368.8,661.9 L370.8,660.1 L372.8,658.3 L374.9,656.6 L377.0,655.0 L379.0,653.6 L381.3,654.5 L383.7,655.7 L386.0,657.2 L388.4,658.6 L390.8,659.8 L393.2,660.7 L395.2,659.3 L397.2,657.8 L399.3,656.1 L401.4,654.4 L403.4,652.6 L405.5,650.9 L407.6,649.2 L409.7,647.7 L412.4,646.9 L415.2,646.3 L417.9,645.7 L420.7,645.2 L423.4,644.7 L426.2,644.2 L428.7,643.8 L431.2,643.3 L433.8,642.9 L436.3,642.5 L438.8,642.2 L441.4,641.9 L443.9,641.8 L446.1,642.8 L448.4,643.9 L450.6,645.1 L452.9,646.3 L455.1,647.6 L457.3,648.8 L459.5,650.1 L461.6,651.2 L463.8,652.8 L466.0,654.3 L468.0,655.8 L470.1,657.2 L472.2,658.3 L474.8,657.6 L477.4,656.8 L480.0,655.8 L482.6,654.7 L485.2,653.6 L487.2,652.0 L489.2,650.3 L491.1,648.5 L493.1,646.7 L495.0,645.3 L497.0,644.2 L498.5,645.9 L500.0,647.8 L501.6,650.0 L503.1,652.3 L504.6,654.5 L506.1,656.8 L507.5,658.8 L508.8,660.7 L510.0,659.5 L512.3,659.3 L514.8,659.1 L517.4,659.0 L520.1,658.8 L522.9,658.6 L525.7,658.4 L528.4,658.1 L531.1,657.7 L533.6,657.1 L535.2,655.1 L536.8,652.9 L538.4,650.6 L539.9,648.2 L541.5,645.8 L543.0,643.4 L544.4,641.0 L545.9,638.8 L547.4,636.7 L548.9,634.7 L551.8,634.9 L554.6,635.5 L557.5,636.4 L560.3,637.4 L563.1,638.3 L565.7,639.2 L568.3,640.1 L570.9,641.0 L573.5,642.0 L576.1,643.0 L578.4,644.3 L580.8,645.7 L583.2,647.1 L585.6,648.5 L588.0,649.9 L590.2,651.2 L592.7,653.2 L595.0,655.1 L597.3,656.9 L599.7,658.3 L601.8,656.7 L603.9,654.8 L606.1,652.7 L608.2,650.6 L610.3,648.9 L613.5,648.8 L616.7,649.1 L619.7,650.1 L620.4,652.5 L621.0,655.2 L621.5,658.1 L622.1,661.1 L622.6,664.0 L623.2,666.7 L623.8,669.2 L624.5,671.3 L625.5,669.7 L626.6,667.7 L627.8,665.5 L628.9,663.1 L630.1,660.6 L631.3,658.2 L632.6,655.8 L633.9,653.6 L636.0,652.0 L638.2,650.4 L640.4,648.8 L642.6,647.3 L644.9,645.8 L647.2,644.4 L649.4,643.0 L651.6,641.8 L654.2,642.0 L656.8,642.4 L659.5,642.9 L662.0,643.5 L664.5,643.9 L666.9,644.2 L668.7,642.4 L670.3,640.3 L671.9,638.1 L673.5,636.2 L675.2,634.7 L676.8,636.5 L678.5,638.7 L680.1,641.0 L681.8,643.5 L683.5,645.9 L685.2,648.1 L687.0,650.1 L690.0,649.9 L693.0,649.5 L696.1,648.9 L699.1,648.2 L701.7,647.7"/>
<path class="c" stroke="#b3d99b" stroke-width="18.6" d="M328.0,646.5 L342.0,646.5 L344.2,647.7 L346.6,649.1 L349.1,650.5 L351.7,652.0 L354.3,653.4 L356.8,654.7 L359.1,655.9 L362.1,654.9 L364.7,653.5 L367.4,651.8 L369.3,649.9 L371.3,647.8 L373.3,645.7 L375.3,643.6 L377.3,641.6 L379.2,639.8 L382.4,639.0 L385.5,638.5 L388.6,638.3 L391.6,639.1 L394.6,640.2 L397.6,641.2 L400.4,642.4 L402.1,644.6 L403.6,646.9 L405.2,648.7 L406.8,646.5 L408.6,643.9 L410.3,641.3 L412.2,638.8 L415.1,637.7 L418.1,636.6 L421.1,635.8 L424.0,635.2 L426.4,636.7 L428.8,638.6 L431.1,640.5 L433.5,642.1 L436.1,641.9 L438.7,641.4 L441.4,640.9 L444.1,640.5 L447.0,640.7 L450.0,641.0 L452.9,641.4 L455.9,642.0 L457.9,643.7 L459.8,645.5 L461.8,647.4 L463.8,649.2 L465.7,650.9 L467.7,652.3 L470.1,651.0 L472.4,649.4 L474.8,647.6 L477.2,645.7 L479.5,643.8 L481.1,641.6 L482.7,639.3 L484.3,637.0 L485.8,634.7 L487.4,632.6 L488.9,630.7 L491.7,631.8 L494.4,633.6 L497.2,635.4 L499.5,636.9 L501.8,638.5 L504.2,640.1 L506.6,641.7 L509.0,643.2 L511.4,644.3 L513.9,645.4 L516.3,646.4 L518.6,647.3 L520.8,648.3 L522.0,649.7 L524.1,648.3 L526.5,646.7 L528.9,645.0 L531.4,643.4 L533.8,641.9 L536.7,641.9 L539.7,642.2 L542.6,642.5 L545.6,642.7 L548.4,643.0 L551.3,643.3 L554.2,643.5 L557.0,643.8 L559.8,644.1 L563.0,644.9 L566.1,645.7 L569.2,646.6 L571.5,647.4 L573.9,648.3 L576.2,649.2 L578.6,650.1 L581.0,650.8 L583.9,651.2 L586.9,651.4 L589.8,651.6 L592.8,651.9 L595.8,652.2 L598.8,652.4 L601.8,652.7 L604.6,653.2 L606.7,655.5 L608.5,658.0 L610.5,659.9 L612.1,658.0 L613.7,655.8 L615.4,653.4 L617.1,651.1 L618.8,649.0 L621.9,647.8 L625.0,647.0 L628.2,646.2 L631.3,645.8 L634.5,645.4 L637.6,644.9 L640.0,643.5 L642.4,641.9 L644.7,640.3 L647.1,638.8 L649.4,637.6 L651.8,636.3 L654.2,635.2 L656.5,634.5 L658.1,636.2 L659.7,638.1 L661.2,640.1 L662.8,642.3 L664.4,644.4 L666.0,646.4 L667.9,648.4 L669.8,650.3 L671.7,652.3 L673.6,654.2 L675.4,656.0 L677.4,657.9 L679.3,659.5 L681.3,660.8 L683.3,659.5 L685.4,657.8 L687.4,656.0 L689.6,654.1 L691.1,652.1 L692.6,650.0 L694.1,647.9 L695.7,645.7 L697.3,643.5 L699.0,641.4 L701.1,639.8 L703.2,638.1 L705.4,636.4 L707.7,634.7 L709.8,633.1 L711.9,631.6 L713.7,630.1"/>
<path class="c" stroke="#9fc4e8" stroke-width="18.6" d="M316.0,643.9 L330.0,643.9 L332.2,644.7 L334.5,645.6 L337.0,646.6 L339.5,647.6 L342.1,648.5 L344.6,649.3 L347.1,649.8 L349.1,648.5 L351.1,647.0 L353.2,645.4 L355.2,643.7 L357.2,642.0 L359.2,640.3 L361.1,638.6 L363.0,637.1 L364.8,635.6 L368.5,634.6 L371.9,634.5 L374.2,636.0 L376.6,637.8 L379.0,639.7 L381.4,641.5 L383.2,643.2 L385.1,645.1 L387.0,646.9 L388.9,648.5 L390.8,649.8 L393.1,648.5 L395.5,646.9 L397.9,645.1 L400.3,643.3 L402.6,641.5 L404.5,639.4 L406.4,637.2 L408.3,634.9 L410.2,632.8 L412.0,630.9 L414.8,631.1 L417.6,631.6 L420.3,632.1 L423.0,631.4 L425.8,630.6 L428.6,629.7 L430.9,628.8 L433.3,627.8 L435.7,626.8 L438.0,626.2 L439.8,627.8 L441.5,629.6 L443.2,631.5 L445.1,633.3 L447.6,634.3 L450.3,635.4 L453.0,636.2 L455.7,636.8 L457.8,635.4 L460.0,633.8 L462.1,632.0 L464.3,630.2 L466.3,628.6 L468.1,626.7 L469.8,624.9 L471.5,623.1 L473.4,621.5 L476.3,621.0 L479.3,620.7 L482.3,620.5 L485.2,620.3 L488.8,620.2 L492.3,620.3 L494.6,621.5 L496.9,622.9 L499.3,624.4 L501.7,626.2 L502.9,628.3 L504.1,630.6 L505.3,633.0 L506.5,635.4 L507.6,637.8 L508.8,640.1 L510.0,642.1 L511.2,643.9 L512.5,642.1 L513.9,639.8 L515.3,637.3 L516.7,634.6 L518.0,632.1 L519.4,629.8 L521.8,628.4 L524.1,627.2 L526.5,626.1 L528.9,625.1 L531.8,624.4 L534.8,623.7 L537.7,623.1 L540.7,622.7 L542.8,624.0 L544.9,625.5 L547.0,627.0 L549.2,628.5 L551.3,629.8 L554.2,629.7 L557.2,629.3 L560.1,628.9 L563.1,628.6 L565.7,628.6 L568.3,628.5 L570.9,628.5 L573.5,628.5 L576.1,628.6 L578.7,629.7 L581.3,630.9 L584.0,632.1 L586.7,633.3 L589.2,634.0 L591.7,634.7 L594.3,635.4 L597.0,636.1 L599.5,636.6 L602.0,636.9 L604.1,635.2 L606.1,633.2 L608.1,631.1 L610.0,628.9 L611.9,626.9 L613.8,625.1 L617.0,624.4 L620.2,624.1 L623.3,623.9 L626.4,624.4 L629.5,624.9 L632.7,625.1 L634.8,623.5 L637.0,621.6 L639.2,619.7 L641.4,617.7 L643.6,616.0 L645.7,614.5 L648.1,615.5 L650.5,617.0 L652.8,618.7 L655.1,620.4 L656.8,622.2 L658.5,624.1 L660.1,626.1 L661.8,628.0 L663.4,629.8 L665.8,631.3 L668.1,632.6 L670.5,633.3 L671.9,631.5 L673.3,629.4 L674.7,627.1 L676.1,624.8 L677.6,622.7 L679.8,620.9 L682.1,619.1 L684.5,617.4 L687.0,615.6 L689.4,614.4 L692.0,613.2 L694.6,612.0 L697.1,610.7 L699.5,609.6 L701.7,608.6"/>
<path class="c" stroke="#f26529" stroke-width="18.6" d="M316.0,632.1 L330.0,632.1 L332.4,630.2 L335.0,628.1 L337.7,626.2 L340.4,625.7 L343.2,625.4 L346.0,625.0 L348.7,623.6 L351.4,622.1 L354.2,620.3 L356.1,618.2 L358.0,616.0 L359.9,613.8 L361.8,611.6 L363.7,609.7 L367.2,608.5 L370.7,607.9 L373.3,609.0 L376.1,610.3 L378.8,611.7 L381.4,613.2 L382.6,615.7 L383.8,618.2 L385.0,620.9 L386.1,623.6 L387.3,626.2 L388.4,628.7 L389.6,631.2 L390.7,633.6 L391.9,635.9 L393.2,638.0 L395.9,637.7 L398.7,636.8 L401.4,635.6 L402.9,633.2 L404.3,630.6 L405.8,627.9 L407.2,625.2 L408.5,622.7 L409.4,620.1 L410.2,617.4 L411.1,615.1 L412.0,613.2 L413.6,615.2 L415.2,617.7 L416.9,620.3 L418.6,622.8 L420.3,625.0 L423.0,624.6 L425.8,623.7 L428.6,622.7 L431.3,621.0 L434.1,619.3 L436.8,617.9 L438.9,619.2 L441.0,620.7 L443.0,622.3 L445.1,623.8 L447.5,625.0 L449.8,626.0 L452.2,626.8 L454.5,625.2 L456.9,623.4 L459.2,621.5 L461.0,619.7 L462.7,617.8 L464.5,615.9 L466.3,614.4 L469.0,615.3 L471.8,616.6 L474.6,617.9 L476.9,619.4 L479.3,620.8 L481.7,622.3 L484.0,623.8 L486.4,625.8 L488.7,627.7 L491.1,629.7 L493.4,631.7 L495.7,633.8 L498.1,635.7 L500.5,637.4 L503.2,637.0 L505.9,636.3 L508.6,635.4 L511.2,633.9 L511.6,631.6 L512.1,629.2 L512.6,626.7 L513.0,624.1 L513.4,621.4 L513.8,618.7 L514.2,616.1 L514.6,613.4 L515.0,610.9 L515.4,608.5 L515.9,606.2 L517.9,604.2 L519.9,602.6 L522.0,601.4 L524.2,600.3 L527.0,600.9 L530.0,601.8 L533.0,602.7 L536.0,603.8 L537.9,605.6 L539.8,607.5 L541.7,609.5 L543.5,611.4 L545.4,613.3 L547.5,614.9 L549.6,616.4 L551.6,617.9 L553.7,619.2 L557.2,619.3 L560.7,619.2 L563.3,618.9 L566.0,618.7 L568.7,618.4 L571.4,618.0 L573.8,616.8 L576.1,615.4 L578.5,614.2 L580.8,613.3 L582.6,615.3 L584.4,617.6 L586.1,620.2 L587.9,622.7 L589.2,624.9 L590.6,627.2 L592.0,629.5 L593.4,631.8 L594.8,633.9 L596.1,635.7 L598.2,634.7 L600.3,633.3 L602.4,631.6 L604.4,629.8 L605.6,627.6 L606.8,625.2 L608.0,622.8 L609.1,620.3 L610.3,617.9 L611.5,615.6 L613.2,613.2 L615.0,610.8 L616.7,608.5 L618.6,606.2 L620.4,604.5 L622.3,602.8 L624.2,601.2 L626.1,599.6 L628.0,597.9 L630.1,596.1 L632.1,594.3 L634.2,592.5 L636.3,590.9 L639.0,589.7 L641.8,588.7 L644.5,587.9 L647.3,589.1 L650.0,590.5 L652.8,592.0 L654.8,593.8 L656.9,595.6 L659.0,597.4 L661.0,599.1 L663.4,600.9 L665.7,602.5 L668.1,603.8 L670.8,602.5 L673.6,600.8 L676.4,599.1 L679.1,597.6 L681.9,596.0 L684.6,594.4 L687.0,592.7 L689.4,590.9 L691.7,589.1 L694.1,587.3 L696.1,585.5 L698.1,583.6 L700.0,581.8 L701.7,580.2"/>
<path class="c" stroke="#5bba47" stroke-width="18.6" d="M316.0,664.2 L330.0,664.2 L332.0,665.3 L334.3,666.4 L336.6,667.7 L338.9,668.9 L341.1,670.7 L343.3,672.6 L345.5,674.5 L347.7,676.0 L350.3,675.2 L352.8,673.9 L355.4,672.5 L357.0,670.7 L358.7,668.8 L360.4,666.9 L362.0,664.9 L363.7,663.0 L365.4,661.1 L367.2,659.2 L368.9,657.4 L370.7,656.0 L373.5,657.2 L376.3,658.9 L379.0,660.7 L380.8,662.7 L382.6,664.8 L384.3,667.0 L386.1,668.9 L388.4,670.3 L390.8,671.5 L393.2,672.5 L395.5,671.5 L397.9,670.3 L400.2,668.9 L402.0,666.9 L403.8,664.8 L405.6,662.6 L407.3,660.7 L410.3,659.8 L413.2,659.5 L414.9,661.4 L416.7,663.7 L418.5,665.9 L420.3,667.8 L423.0,666.9 L425.8,665.6 L428.6,664.2 L430.6,662.8 L432.7,661.2 L434.8,659.7 L436.8,658.3 L440.4,657.2 L443.9,656.5 L446.3,657.8 L448.6,659.2 L451.0,660.7 L452.9,662.3 L454.9,663.9 L456.9,665.4 L459.6,665.9 L462.4,666.2 L465.1,666.6 L467.9,666.9 L470.6,667.2 L473.4,667.8 L475.5,669.4 L477.5,671.3 L479.6,673.2 L481.7,674.8 L485.2,674.9 L488.7,674.8 L491.4,675.5 L494.1,676.2 L497.0,677.2 L498.9,678.7 L500.9,680.4 L502.9,682.2 L504.9,683.9 L506.9,685.4 L508.8,686.6 L510.5,685.1 L512.2,683.3 L513.8,681.2 L515.5,679.1 L517.1,677.2 L518.9,675.3 L520.6,673.5 L522.4,671.8 L524.2,670.1 L526.9,669.2 L529.7,668.5 L532.4,667.8 L535.2,667.0 L538.0,666.2 L540.7,665.4 L543.0,663.8 L545.4,662.1 L547.8,660.7 L550.8,661.3 L554.0,662.1 L557.2,663.0 L560.1,663.9 L563.1,664.7 L566.1,665.6 L569.0,666.6 L571.4,668.0 L573.8,669.4 L576.1,670.9 L578.4,672.5 L580.3,674.5 L582.2,676.7 L584.1,678.8 L586.0,681.0 L587.9,683.1 L589.8,684.9 L591.7,686.7 L593.6,688.5 L595.5,690.1 L597.3,691.4 L599.1,689.7 L600.9,687.5 L602.6,685.3 L604.4,683.1 L606.4,681.2 L608.5,679.3 L610.6,677.5 L612.7,676.0 L614.7,677.2 L616.8,678.8 L618.8,680.4 L620.9,681.9 L623.7,683.4 L626.5,684.7 L629.2,685.5 L630.2,683.4 L631.2,681.1 L632.1,678.7 L633.1,676.2 L634.1,673.7 L635.1,671.3 L636.4,669.0 L637.8,666.7 L639.2,664.4 L640.6,662.2 L641.9,660.1 L643.3,658.3 L646.1,659.4 L648.8,661.0 L651.6,663.0 L653.0,665.2 L654.3,667.6 L655.7,670.0 L657.1,672.4 L658.5,674.8 L659.9,677.2 L661.4,679.3 L663.0,681.4 L664.6,683.5 L666.2,685.6 L667.7,687.4 L669.3,689.0 L671.4,687.4 L673.5,685.3 L675.5,683.0 L677.6,680.7 L679.3,678.7 L681.1,676.6 L682.9,674.5 L684.6,672.5 L687.0,670.4 L689.3,668.5 L691.7,666.6 L694.2,665.3 L696.9,664.1 L699.4,662.9 L701.7,661.9"/>
<path class="c" stroke="#2090d2" stroke-width="18.6" d="M316.0,622.7 L330.0,622.7 L331.4,624.6 L332.9,626.7 L334.5,628.9 L336.1,631.1 L337.7,633.3 L339.6,635.1 L341.5,636.9 L343.4,638.6 L345.3,640.2 L347.1,641.5 L349.0,639.9 L350.7,637.8 L352.5,635.6 L354.2,633.3 L355.6,630.7 L357.0,628.0 L358.4,625.3 L359.8,622.7 L361.3,620.3 L364.4,619.5 L367.5,619.1 L370.7,619.1 L372.8,620.8 L375.0,622.7 L377.1,624.7 L379.3,626.7 L381.4,628.6 L384.2,630.4 L386.9,632.0 L389.6,633.3 L391.4,631.8 L393.2,630.0 L395.0,628.1 L396.7,626.2 L398.2,623.6 L399.6,620.8 L401.1,618.1 L402.6,615.6 L405.6,614.6 L408.8,613.8 L412.0,613.2 L414.9,613.2 L417.9,613.2 L420.9,613.3 L423.8,613.2 L426.8,612.4 L429.8,611.4 L432.7,610.5 L435.6,609.7 L438.9,610.3 L442.0,611.1 L445.1,612.0 L447.5,613.6 L449.8,615.2 L452.2,616.8 L455.7,618.1 L459.2,619.1 L461.6,617.4 L463.9,615.4 L466.3,613.2 L467.9,611.1 L469.6,608.9 L471.2,606.6 L472.9,604.5 L474.6,602.6 L477.7,602.8 L480.9,603.4 L484.0,603.8 L486.4,602.3 L488.7,600.7 L491.1,599.1 L493.4,597.7 L495.8,596.3 L498.2,595.1 L500.5,594.3 L501.8,596.6 L503.0,599.1 L504.1,601.8 L505.3,604.5 L506.5,607.2 L507.6,609.7 L509.6,612.0 L511.6,613.9 L513.5,615.6 L517.1,613.3 L518.8,611.6 L520.5,609.7 L522.3,607.8 L524.2,606.2 L527.2,606.5 L530.4,607.1 L533.6,607.4 L535.5,605.7 L537.3,603.7 L539.2,601.7 L541.1,599.7 L543.0,597.9 L546.0,597.5 L548.9,597.2 L551.9,597.0 L554.8,596.8 L558.0,595.9 L561.2,595.0 L564.3,594.4 L566.6,596.1 L569.0,598.1 L571.4,600.0 L573.7,601.5 L575.6,600.1 L577.5,598.5 L579.4,596.6 L581.3,594.8 L583.2,593.2 L585.5,592.2 L587.9,591.3 L590.3,590.4 L592.6,589.7 L595.4,589.8 L598.1,590.1 L600.9,590.9 L602.2,592.8 L603.6,595.1 L604.9,597.4 L606.3,599.7 L607.7,601.9 L609.1,603.8 L612.0,604.1 L615.0,604.0 L618.0,603.8 L620.9,603.8 L623.8,605.4 L626.5,607.2 L629.2,608.6 L631.2,607.0 L633.3,605.2 L635.4,603.3 L637.4,601.5 L640.2,600.1 L642.9,598.9 L645.7,597.9 L648.4,598.5 L651.2,599.3 L654.0,600.3 L656.0,602.3 L658.1,604.4 L660.2,606.6 L662.2,608.6 L665.8,610.1 L669.3,610.9 L671.1,608.8 L672.8,606.3 L674.6,603.8 L676.4,601.5 L679.1,600.5 L681.9,599.8 L684.6,599.1 L688.2,598.0 L691.7,596.8 L693.5,594.5 L695.3,592.1 L697.0,589.7 L698.1,587.0 L699.2,584.3 L700.2,581.4 L700.9,578.5 L701.6,575.4 L702.3,572.3 L702.9,569.6"/>
</g>
<rect x="569.4" y="899.3" width="127.3" height="141.0" fill="none" stroke="#404040" stroke-width="1.1"/>
<path d="M631.8,899.3 L593.4,784.5" stroke="#1a1a1a" stroke-width="2.4" fill="none"/>
<path d="M583.4,757.0 L582.2,798.2 L593.0,783.4 L609.2,788.8 Z" fill="#231f20"/>
<text transform="translate(182.55,72.40) scale(0.9650,1)" font-size="71.0" fill="#4a4a4c">0</text>
<text transform="translate(129.38,262.80) scale(0.9650,1)" font-size="71.0" fill="#4a4a4c">-10</text>
<text transform="translate(129.38,453.20) scale(0.9650,1)" font-size="71.0" fill="#4a4a4c">-20</text>
<text transform="translate(129.38,643.60) scale(0.9650,1)" font-size="71.0" fill="#4a4a4c">-30</text>
<text transform="translate(129.38,834.00) scale(0.9650,1)" font-size="71.0" fill="#4a4a4c">-40</text>
<text transform="translate(129.38,1024.00) scale(0.9650,1)" font-size="71.0" fill="#4a4a4c">-50</text>
<text transform="translate(199.36,1182.60) scale(0.9650,1)" font-size="71.0" fill="#4a4a4c">-50</text>
<text transform="translate(477.16,1182.60) scale(0.9650,1)" font-size="71.0" fill="#4a4a4c">-30</text>
<text transform="translate(683.36,1182.60) scale(0.9650,1)" font-size="71.0" fill="#4a4a4c">-15</text>
<text transform="translate(898.29,1182.60) scale(0.9650,1)" font-size="71.0" fill="#4a4a4c">0</text>
<text transform="translate(1315.32,1182.60) scale(0.9650,1)" font-size="71.0" fill="#4a4a4c">30</text>
<text transform="translate(1593.12,1182.60) scale(0.9650,1)" font-size="71.0" fill="#4a4a4c">50</text>
<text x="703.2" y="1268.1" font-size="72.5" fill="#4a4a4c" textLength="529.5" lengthAdjust="spacing">Frequency (MHz)</text>
<text transform="translate(85.0,888.3) rotate(-90) scale(1,0.965)" font-size="75" fill="#4a4a4c" textLength="657.5" lengthAdjust="spacing">Normalized PSD (dB)</text>
</svg></body></html>
